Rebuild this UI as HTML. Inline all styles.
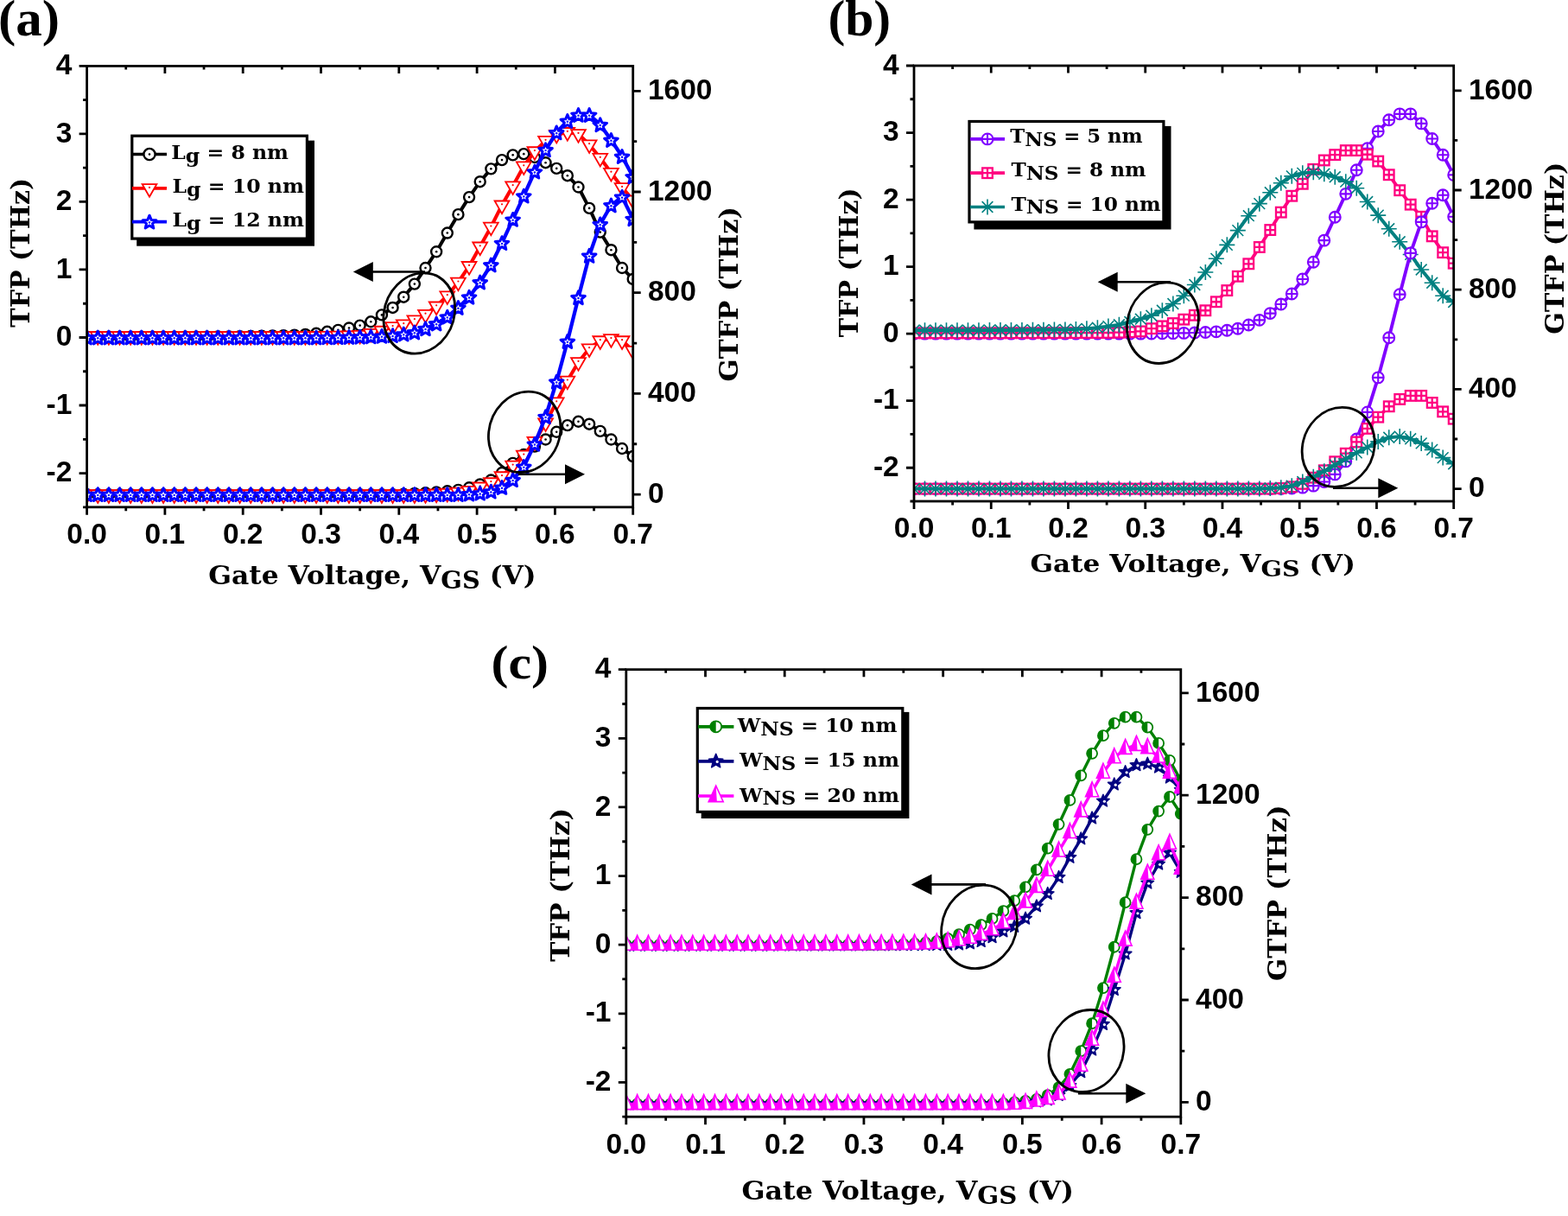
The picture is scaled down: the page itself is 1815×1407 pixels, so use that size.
<!DOCTYPE html><html><head><meta charset="utf-8"><title>TFP and GTFP vs gate voltage</title><style>html,body{margin:0;padding:0;background:#fff;}svg{display:block;}</style></head><body><svg width="1815" height="1407" viewBox="0 0 1815 1407"><rect width="1815" height="1407" fill="#fff"/><defs><clipPath id="ca"><rect x="100.6" y="76.4" width="632.1" height="510.4"/></clipPath></defs><defs><clipPath id="cb"><rect x="1058" y="76" width="624.7" height="504"/></clipPath></defs><defs><clipPath id="cc"><rect x="724.8" y="774.7" width="642" height="517.5"/></clipPath></defs><g clip-path="url(#ca)"><path d="M100.6 389.71L113.24 389.71L125.88 389.71L138.53 389.71L151.17 389.71L163.81 389.71L176.45 389.71L189.09 389.71L201.74 389.71L214.38 389.71L227.02 389.71L239.66 389.66L252.3 389.53L264.95 389.34L277.59 389.13L290.23 388.92L302.87 388.71L315.51 388.46L328.16 388.14L340.8 387.66L353.44 386.96L366.08 385.78L378.72 383.82L391.37 381.85L404.01 379.5L416.65 376.59L429.29 372.27L441.93 364.42L454.58 355.94L467.22 343.69L479.86 328.62L492.5 310.01L505.14 291.24L517.79 269.57L530.43 248.13L543.07 228.11L555.71 210.2L568.35 195.36L581 185.08L593.64 179.34L606.28 178.17L618.92 182.01L631.56 188.22L644.21 194.89L656.85 203.21L669.49 216.49L682.13 240.91L694.77 268.62L707.42 289.2L720.06 310.01L732.7 322.96" fill="none" stroke="#000" stroke-width="4" stroke-linejoin="round"/><circle cx="100.6" cy="389.71" r="6" fill="#fff" stroke="#000" stroke-width="2.4"/><circle cx="100.6" cy="389.71" r="1.3" fill="#000"/><circle cx="113.24" cy="389.71" r="6" fill="#fff" stroke="#000" stroke-width="2.4"/><circle cx="113.24" cy="389.71" r="1.3" fill="#000"/><circle cx="125.88" cy="389.71" r="6" fill="#fff" stroke="#000" stroke-width="2.4"/><circle cx="125.88" cy="389.71" r="1.3" fill="#000"/><circle cx="138.53" cy="389.71" r="6" fill="#fff" stroke="#000" stroke-width="2.4"/><circle cx="138.53" cy="389.71" r="1.3" fill="#000"/><circle cx="151.17" cy="389.71" r="6" fill="#fff" stroke="#000" stroke-width="2.4"/><circle cx="151.17" cy="389.71" r="1.3" fill="#000"/><circle cx="163.81" cy="389.71" r="6" fill="#fff" stroke="#000" stroke-width="2.4"/><circle cx="163.81" cy="389.71" r="1.3" fill="#000"/><circle cx="176.45" cy="389.71" r="6" fill="#fff" stroke="#000" stroke-width="2.4"/><circle cx="176.45" cy="389.71" r="1.3" fill="#000"/><circle cx="189.09" cy="389.71" r="6" fill="#fff" stroke="#000" stroke-width="2.4"/><circle cx="189.09" cy="389.71" r="1.3" fill="#000"/><circle cx="201.74" cy="389.71" r="6" fill="#fff" stroke="#000" stroke-width="2.4"/><circle cx="201.74" cy="389.71" r="1.3" fill="#000"/><circle cx="214.38" cy="389.71" r="6" fill="#fff" stroke="#000" stroke-width="2.4"/><circle cx="214.38" cy="389.71" r="1.3" fill="#000"/><circle cx="227.02" cy="389.71" r="6" fill="#fff" stroke="#000" stroke-width="2.4"/><circle cx="227.02" cy="389.71" r="1.3" fill="#000"/><circle cx="239.66" cy="389.66" r="6" fill="#fff" stroke="#000" stroke-width="2.4"/><circle cx="239.66" cy="389.66" r="1.3" fill="#000"/><circle cx="252.3" cy="389.53" r="6" fill="#fff" stroke="#000" stroke-width="2.4"/><circle cx="252.3" cy="389.53" r="1.3" fill="#000"/><circle cx="264.95" cy="389.34" r="6" fill="#fff" stroke="#000" stroke-width="2.4"/><circle cx="264.95" cy="389.34" r="1.3" fill="#000"/><circle cx="277.59" cy="389.13" r="6" fill="#fff" stroke="#000" stroke-width="2.4"/><circle cx="277.59" cy="389.13" r="1.3" fill="#000"/><circle cx="290.23" cy="388.92" r="6" fill="#fff" stroke="#000" stroke-width="2.4"/><circle cx="290.23" cy="388.92" r="1.3" fill="#000"/><circle cx="302.87" cy="388.71" r="6" fill="#fff" stroke="#000" stroke-width="2.4"/><circle cx="302.87" cy="388.71" r="1.3" fill="#000"/><circle cx="315.51" cy="388.46" r="6" fill="#fff" stroke="#000" stroke-width="2.4"/><circle cx="315.51" cy="388.46" r="1.3" fill="#000"/><circle cx="328.16" cy="388.14" r="6" fill="#fff" stroke="#000" stroke-width="2.4"/><circle cx="328.16" cy="388.14" r="1.3" fill="#000"/><circle cx="340.8" cy="387.66" r="6" fill="#fff" stroke="#000" stroke-width="2.4"/><circle cx="340.8" cy="387.66" r="1.3" fill="#000"/><circle cx="353.44" cy="386.96" r="6" fill="#fff" stroke="#000" stroke-width="2.4"/><circle cx="353.44" cy="386.96" r="1.3" fill="#000"/><circle cx="366.08" cy="385.78" r="6" fill="#fff" stroke="#000" stroke-width="2.4"/><circle cx="366.08" cy="385.78" r="1.3" fill="#000"/><circle cx="378.72" cy="383.82" r="6" fill="#fff" stroke="#000" stroke-width="2.4"/><circle cx="378.72" cy="383.82" r="1.3" fill="#000"/><circle cx="391.37" cy="381.85" r="6" fill="#fff" stroke="#000" stroke-width="2.4"/><circle cx="391.37" cy="381.85" r="1.3" fill="#000"/><circle cx="404.01" cy="379.5" r="6" fill="#fff" stroke="#000" stroke-width="2.4"/><circle cx="404.01" cy="379.5" r="1.3" fill="#000"/><circle cx="416.65" cy="376.59" r="6" fill="#fff" stroke="#000" stroke-width="2.4"/><circle cx="416.65" cy="376.59" r="1.3" fill="#000"/><circle cx="429.29" cy="372.27" r="6" fill="#fff" stroke="#000" stroke-width="2.4"/><circle cx="429.29" cy="372.27" r="1.3" fill="#000"/><circle cx="441.93" cy="364.42" r="6" fill="#fff" stroke="#000" stroke-width="2.4"/><circle cx="441.93" cy="364.42" r="1.3" fill="#000"/><circle cx="454.58" cy="355.94" r="6" fill="#fff" stroke="#000" stroke-width="2.4"/><circle cx="454.58" cy="355.94" r="1.3" fill="#000"/><circle cx="467.22" cy="343.69" r="6" fill="#fff" stroke="#000" stroke-width="2.4"/><circle cx="467.22" cy="343.69" r="1.3" fill="#000"/><circle cx="479.86" cy="328.62" r="6" fill="#fff" stroke="#000" stroke-width="2.4"/><circle cx="479.86" cy="328.62" r="1.3" fill="#000"/><circle cx="492.5" cy="310.01" r="6" fill="#fff" stroke="#000" stroke-width="2.4"/><circle cx="492.5" cy="310.01" r="1.3" fill="#000"/><circle cx="505.14" cy="291.24" r="6" fill="#fff" stroke="#000" stroke-width="2.4"/><circle cx="505.14" cy="291.24" r="1.3" fill="#000"/><circle cx="517.79" cy="269.57" r="6" fill="#fff" stroke="#000" stroke-width="2.4"/><circle cx="517.79" cy="269.57" r="1.3" fill="#000"/><circle cx="530.43" cy="248.13" r="6" fill="#fff" stroke="#000" stroke-width="2.4"/><circle cx="530.43" cy="248.13" r="1.3" fill="#000"/><circle cx="543.07" cy="228.11" r="6" fill="#fff" stroke="#000" stroke-width="2.4"/><circle cx="543.07" cy="228.11" r="1.3" fill="#000"/><circle cx="555.71" cy="210.2" r="6" fill="#fff" stroke="#000" stroke-width="2.4"/><circle cx="555.71" cy="210.2" r="1.3" fill="#000"/><circle cx="568.35" cy="195.36" r="6" fill="#fff" stroke="#000" stroke-width="2.4"/><circle cx="568.35" cy="195.36" r="1.3" fill="#000"/><circle cx="581" cy="185.08" r="6" fill="#fff" stroke="#000" stroke-width="2.4"/><circle cx="581" cy="185.08" r="1.3" fill="#000"/><circle cx="593.64" cy="179.34" r="6" fill="#fff" stroke="#000" stroke-width="2.4"/><circle cx="593.64" cy="179.34" r="1.3" fill="#000"/><circle cx="606.28" cy="178.17" r="6" fill="#fff" stroke="#000" stroke-width="2.4"/><circle cx="606.28" cy="178.17" r="1.3" fill="#000"/><circle cx="618.92" cy="182.01" r="6" fill="#fff" stroke="#000" stroke-width="2.4"/><circle cx="618.92" cy="182.01" r="1.3" fill="#000"/><circle cx="631.56" cy="188.22" r="6" fill="#fff" stroke="#000" stroke-width="2.4"/><circle cx="631.56" cy="188.22" r="1.3" fill="#000"/><circle cx="644.21" cy="194.89" r="6" fill="#fff" stroke="#000" stroke-width="2.4"/><circle cx="644.21" cy="194.89" r="1.3" fill="#000"/><circle cx="656.85" cy="203.21" r="6" fill="#fff" stroke="#000" stroke-width="2.4"/><circle cx="656.85" cy="203.21" r="1.3" fill="#000"/><circle cx="669.49" cy="216.49" r="6" fill="#fff" stroke="#000" stroke-width="2.4"/><circle cx="669.49" cy="216.49" r="1.3" fill="#000"/><circle cx="682.13" cy="240.91" r="6" fill="#fff" stroke="#000" stroke-width="2.4"/><circle cx="682.13" cy="240.91" r="1.3" fill="#000"/><circle cx="694.77" cy="268.62" r="6" fill="#fff" stroke="#000" stroke-width="2.4"/><circle cx="694.77" cy="268.62" r="1.3" fill="#000"/><circle cx="707.42" cy="289.2" r="6" fill="#fff" stroke="#000" stroke-width="2.4"/><circle cx="707.42" cy="289.2" r="1.3" fill="#000"/><circle cx="720.06" cy="310.01" r="6" fill="#fff" stroke="#000" stroke-width="2.4"/><circle cx="720.06" cy="310.01" r="1.3" fill="#000"/><circle cx="732.7" cy="322.96" r="6" fill="#fff" stroke="#000" stroke-width="2.4"/><circle cx="732.7" cy="322.96" r="1.3" fill="#000"/></g><g clip-path="url(#ca)"><path d="M100.6 388.92L113.24 388.92L125.88 388.92L138.53 388.92L151.17 388.92L163.81 388.92L176.45 388.92L189.09 388.92L201.74 388.92L214.38 388.92L227.02 388.92L239.66 388.92L252.3 388.92L264.95 388.92L277.59 388.92L290.23 388.92L302.87 388.92L315.51 388.92L328.16 388.92L340.8 388.92L353.44 388.92L366.08 388.87L378.72 388.72L391.37 388.53L404.01 388.26L416.65 387.74L429.29 385.78L441.93 382.64L454.58 378.09L467.22 375.18L479.86 370.15L492.5 363.72L505.14 354.37L517.79 342.2L530.43 326.5L543.07 307.89L555.71 285.35L568.35 262.5L581 237.37L593.64 215.15L606.28 192.3L618.92 175.1L631.56 162.78L644.21 155.71L656.85 152.88L669.49 154.92L682.13 167.17L694.77 182.8L707.42 199.68L720.06 216.96L732.7 231.4" fill="none" stroke="#ff0000" stroke-width="4.1" stroke-linejoin="round"/><path d="M92.2 384.06L109 384.06L100.6 398.66Z" fill="#fff" stroke="#ff0000" stroke-width="1.8" stroke-linejoin="miter"/><circle cx="100.6" cy="387.92" r="1.1" fill="#ff0000"/><path d="M104.84 384.06L121.64 384.06L113.24 398.66Z" fill="#fff" stroke="#ff0000" stroke-width="1.8" stroke-linejoin="miter"/><circle cx="113.24" cy="387.92" r="1.1" fill="#ff0000"/><path d="M117.48 384.06L134.28 384.06L125.88 398.66Z" fill="#fff" stroke="#ff0000" stroke-width="1.8" stroke-linejoin="miter"/><circle cx="125.88" cy="387.92" r="1.1" fill="#ff0000"/><path d="M130.13 384.06L146.93 384.06L138.53 398.66Z" fill="#fff" stroke="#ff0000" stroke-width="1.8" stroke-linejoin="miter"/><circle cx="138.53" cy="387.92" r="1.1" fill="#ff0000"/><path d="M142.77 384.06L159.57 384.06L151.17 398.66Z" fill="#fff" stroke="#ff0000" stroke-width="1.8" stroke-linejoin="miter"/><circle cx="151.17" cy="387.92" r="1.1" fill="#ff0000"/><path d="M155.41 384.06L172.21 384.06L163.81 398.66Z" fill="#fff" stroke="#ff0000" stroke-width="1.8" stroke-linejoin="miter"/><circle cx="163.81" cy="387.92" r="1.1" fill="#ff0000"/><path d="M168.05 384.06L184.85 384.06L176.45 398.66Z" fill="#fff" stroke="#ff0000" stroke-width="1.8" stroke-linejoin="miter"/><circle cx="176.45" cy="387.92" r="1.1" fill="#ff0000"/><path d="M180.69 384.06L197.49 384.06L189.09 398.66Z" fill="#fff" stroke="#ff0000" stroke-width="1.8" stroke-linejoin="miter"/><circle cx="189.09" cy="387.92" r="1.1" fill="#ff0000"/><path d="M193.34 384.06L210.14 384.06L201.74 398.66Z" fill="#fff" stroke="#ff0000" stroke-width="1.8" stroke-linejoin="miter"/><circle cx="201.74" cy="387.92" r="1.1" fill="#ff0000"/><path d="M205.98 384.06L222.78 384.06L214.38 398.66Z" fill="#fff" stroke="#ff0000" stroke-width="1.8" stroke-linejoin="miter"/><circle cx="214.38" cy="387.92" r="1.1" fill="#ff0000"/><path d="M218.62 384.06L235.42 384.06L227.02 398.66Z" fill="#fff" stroke="#ff0000" stroke-width="1.8" stroke-linejoin="miter"/><circle cx="227.02" cy="387.92" r="1.1" fill="#ff0000"/><path d="M231.26 384.06L248.06 384.06L239.66 398.66Z" fill="#fff" stroke="#ff0000" stroke-width="1.8" stroke-linejoin="miter"/><circle cx="239.66" cy="387.92" r="1.1" fill="#ff0000"/><path d="M243.9 384.06L260.7 384.06L252.3 398.66Z" fill="#fff" stroke="#ff0000" stroke-width="1.8" stroke-linejoin="miter"/><circle cx="252.3" cy="387.92" r="1.1" fill="#ff0000"/><path d="M256.55 384.06L273.35 384.06L264.95 398.66Z" fill="#fff" stroke="#ff0000" stroke-width="1.8" stroke-linejoin="miter"/><circle cx="264.95" cy="387.92" r="1.1" fill="#ff0000"/><path d="M269.19 384.06L285.99 384.06L277.59 398.66Z" fill="#fff" stroke="#ff0000" stroke-width="1.8" stroke-linejoin="miter"/><circle cx="277.59" cy="387.92" r="1.1" fill="#ff0000"/><path d="M281.83 384.06L298.63 384.06L290.23 398.66Z" fill="#fff" stroke="#ff0000" stroke-width="1.8" stroke-linejoin="miter"/><circle cx="290.23" cy="387.92" r="1.1" fill="#ff0000"/><path d="M294.47 384.06L311.27 384.06L302.87 398.66Z" fill="#fff" stroke="#ff0000" stroke-width="1.8" stroke-linejoin="miter"/><circle cx="302.87" cy="387.92" r="1.1" fill="#ff0000"/><path d="M307.11 384.06L323.91 384.06L315.51 398.66Z" fill="#fff" stroke="#ff0000" stroke-width="1.8" stroke-linejoin="miter"/><circle cx="315.51" cy="387.92" r="1.1" fill="#ff0000"/><path d="M319.76 384.06L336.56 384.06L328.16 398.66Z" fill="#fff" stroke="#ff0000" stroke-width="1.8" stroke-linejoin="miter"/><circle cx="328.16" cy="387.92" r="1.1" fill="#ff0000"/><path d="M332.4 384.06L349.2 384.06L340.8 398.66Z" fill="#fff" stroke="#ff0000" stroke-width="1.8" stroke-linejoin="miter"/><circle cx="340.8" cy="387.92" r="1.1" fill="#ff0000"/><path d="M345.04 384.06L361.84 384.06L353.44 398.66Z" fill="#fff" stroke="#ff0000" stroke-width="1.8" stroke-linejoin="miter"/><circle cx="353.44" cy="387.92" r="1.1" fill="#ff0000"/><path d="M357.68 384L374.48 384L366.08 398.6Z" fill="#fff" stroke="#ff0000" stroke-width="1.8" stroke-linejoin="miter"/><circle cx="366.08" cy="387.87" r="1.1" fill="#ff0000"/><path d="M370.32 383.85L387.12 383.85L378.72 398.45Z" fill="#fff" stroke="#ff0000" stroke-width="1.8" stroke-linejoin="miter"/><circle cx="378.72" cy="387.72" r="1.1" fill="#ff0000"/><path d="M382.97 383.66L399.77 383.66L391.37 398.26Z" fill="#fff" stroke="#ff0000" stroke-width="1.8" stroke-linejoin="miter"/><circle cx="391.37" cy="387.53" r="1.1" fill="#ff0000"/><path d="M395.61 383.4L412.41 383.4L404.01 398Z" fill="#fff" stroke="#ff0000" stroke-width="1.8" stroke-linejoin="miter"/><circle cx="404.01" cy="387.26" r="1.1" fill="#ff0000"/><path d="M408.25 382.88L425.05 382.88L416.65 397.48Z" fill="#fff" stroke="#ff0000" stroke-width="1.8" stroke-linejoin="miter"/><circle cx="416.65" cy="386.74" r="1.1" fill="#ff0000"/><path d="M420.89 380.91L437.69 380.91L429.29 395.51Z" fill="#fff" stroke="#ff0000" stroke-width="1.8" stroke-linejoin="miter"/><circle cx="429.29" cy="384.78" r="1.1" fill="#ff0000"/><path d="M433.53 377.77L450.33 377.77L441.93 392.37Z" fill="#fff" stroke="#ff0000" stroke-width="1.8" stroke-linejoin="miter"/><circle cx="441.93" cy="381.64" r="1.1" fill="#ff0000"/><path d="M446.18 373.22L462.98 373.22L454.58 387.82Z" fill="#fff" stroke="#ff0000" stroke-width="1.8" stroke-linejoin="miter"/><circle cx="454.58" cy="377.09" r="1.1" fill="#ff0000"/><path d="M458.82 370.31L475.62 370.31L467.22 384.91Z" fill="#fff" stroke="#ff0000" stroke-width="1.8" stroke-linejoin="miter"/><circle cx="467.22" cy="374.18" r="1.1" fill="#ff0000"/><path d="M471.46 365.29L488.26 365.29L479.86 379.89Z" fill="#fff" stroke="#ff0000" stroke-width="1.8" stroke-linejoin="miter"/><circle cx="479.86" cy="369.15" r="1.1" fill="#ff0000"/><path d="M484.1 358.85L500.9 358.85L492.5 373.45Z" fill="#fff" stroke="#ff0000" stroke-width="1.8" stroke-linejoin="miter"/><circle cx="492.5" cy="362.72" r="1.1" fill="#ff0000"/><path d="M496.74 349.51L513.54 349.51L505.14 364.11Z" fill="#fff" stroke="#ff0000" stroke-width="1.8" stroke-linejoin="miter"/><circle cx="505.14" cy="353.37" r="1.1" fill="#ff0000"/><path d="M509.39 337.33L526.19 337.33L517.79 351.93Z" fill="#fff" stroke="#ff0000" stroke-width="1.8" stroke-linejoin="miter"/><circle cx="517.79" cy="341.2" r="1.1" fill="#ff0000"/><path d="M522.03 321.63L538.83 321.63L530.43 336.23Z" fill="#fff" stroke="#ff0000" stroke-width="1.8" stroke-linejoin="miter"/><circle cx="530.43" cy="325.5" r="1.1" fill="#ff0000"/><path d="M534.67 303.02L551.47 303.02L543.07 317.62Z" fill="#fff" stroke="#ff0000" stroke-width="1.8" stroke-linejoin="miter"/><circle cx="543.07" cy="306.89" r="1.1" fill="#ff0000"/><path d="M547.31 280.48L564.11 280.48L555.71 295.08Z" fill="#fff" stroke="#ff0000" stroke-width="1.8" stroke-linejoin="miter"/><circle cx="555.71" cy="284.35" r="1.1" fill="#ff0000"/><path d="M559.95 257.63L576.75 257.63L568.35 272.23Z" fill="#fff" stroke="#ff0000" stroke-width="1.8" stroke-linejoin="miter"/><circle cx="568.35" cy="261.5" r="1.1" fill="#ff0000"/><path d="M572.6 232.51L589.4 232.51L581 247.11Z" fill="#fff" stroke="#ff0000" stroke-width="1.8" stroke-linejoin="miter"/><circle cx="581" cy="236.37" r="1.1" fill="#ff0000"/><path d="M585.24 210.28L602.04 210.28L593.64 224.88Z" fill="#fff" stroke="#ff0000" stroke-width="1.8" stroke-linejoin="miter"/><circle cx="593.64" cy="214.15" r="1.1" fill="#ff0000"/><path d="M597.88 187.43L614.68 187.43L606.28 202.03Z" fill="#fff" stroke="#ff0000" stroke-width="1.8" stroke-linejoin="miter"/><circle cx="606.28" cy="191.3" r="1.1" fill="#ff0000"/><path d="M610.52 170.24L627.32 170.24L618.92 184.84Z" fill="#fff" stroke="#ff0000" stroke-width="1.8" stroke-linejoin="miter"/><circle cx="618.92" cy="174.1" r="1.1" fill="#ff0000"/><path d="M623.16 157.91L639.96 157.91L631.56 172.51Z" fill="#fff" stroke="#ff0000" stroke-width="1.8" stroke-linejoin="miter"/><circle cx="631.56" cy="161.78" r="1.1" fill="#ff0000"/><path d="M635.81 150.84L652.61 150.84L644.21 165.44Z" fill="#fff" stroke="#ff0000" stroke-width="1.8" stroke-linejoin="miter"/><circle cx="644.21" cy="154.71" r="1.1" fill="#ff0000"/><path d="M648.45 148.01L665.25 148.01L656.85 162.61Z" fill="#fff" stroke="#ff0000" stroke-width="1.8" stroke-linejoin="miter"/><circle cx="656.85" cy="151.88" r="1.1" fill="#ff0000"/><path d="M661.09 150.06L677.89 150.06L669.49 164.66Z" fill="#fff" stroke="#ff0000" stroke-width="1.8" stroke-linejoin="miter"/><circle cx="669.49" cy="153.92" r="1.1" fill="#ff0000"/><path d="M673.73 162.31L690.53 162.31L682.13 176.91Z" fill="#fff" stroke="#ff0000" stroke-width="1.8" stroke-linejoin="miter"/><circle cx="682.13" cy="166.17" r="1.1" fill="#ff0000"/><path d="M686.37 177.93L703.17 177.93L694.77 192.53Z" fill="#fff" stroke="#ff0000" stroke-width="1.8" stroke-linejoin="miter"/><circle cx="694.77" cy="181.8" r="1.1" fill="#ff0000"/><path d="M699.02 194.81L715.82 194.81L707.42 209.41Z" fill="#fff" stroke="#ff0000" stroke-width="1.8" stroke-linejoin="miter"/><circle cx="707.42" cy="198.68" r="1.1" fill="#ff0000"/><path d="M711.66 212.09L728.46 212.09L720.06 226.69Z" fill="#fff" stroke="#ff0000" stroke-width="1.8" stroke-linejoin="miter"/><circle cx="720.06" cy="215.96" r="1.1" fill="#ff0000"/><path d="M724.3 226.54L741.1 226.54L732.7 241.14Z" fill="#fff" stroke="#ff0000" stroke-width="1.8" stroke-linejoin="miter"/><circle cx="732.7" cy="230.4" r="1.1" fill="#ff0000"/></g><g clip-path="url(#ca)"><path d="M100.6 390.49L113.24 390.49L125.88 390.49L138.53 390.49L151.17 390.49L163.81 390.49L176.45 390.49L189.09 390.49L201.74 390.49L214.38 390.49L227.02 390.49L239.66 390.49L252.3 390.49L264.95 390.49L277.59 390.49L290.23 390.49L302.87 390.49L315.51 390.49L328.16 390.49L340.8 390.49L353.44 390.49L366.08 390.45L378.72 390.34L391.37 390.17L404.01 389.95L416.65 389.71L429.29 389.38L441.93 388.87L454.58 388.14L467.22 386.57L479.86 384.52L492.5 380.21L505.14 374.47L517.79 366.62L530.43 355.94L543.07 343.69L555.71 326.5L568.35 306.47L581 281.11L593.64 253.86L606.28 226.61L618.92 198.66L631.56 173.3L644.21 153.35L656.85 140L669.49 132.94L682.13 132.94L694.77 144.17L707.42 161.99L720.06 180.99L732.7 204.39" fill="none" stroke="#0000ff" stroke-width="4.3" stroke-linejoin="round"/><path d="M100.6 383.09L102.77 388.31L108.4 388.76L104.11 392.43L105.42 397.93L100.6 394.98L95.78 397.93L97.09 392.43L92.8 388.76L98.43 388.31Z" fill="#fff" stroke="#0000ff" stroke-width="3" stroke-linejoin="round"/><circle cx="100.6" cy="391.29" r="1.2" fill="#0000ff"/><path d="M113.24 383.09L115.41 388.31L121.04 388.76L116.75 392.43L118.06 397.93L113.24 394.98L108.42 397.93L109.73 392.43L105.44 388.76L111.07 388.31Z" fill="#fff" stroke="#0000ff" stroke-width="3" stroke-linejoin="round"/><circle cx="113.24" cy="391.29" r="1.2" fill="#0000ff"/><path d="M125.88 383.09L128.05 388.31L133.68 388.76L129.39 392.43L130.7 397.93L125.88 394.98L121.06 397.93L122.37 392.43L118.09 388.76L123.72 388.31Z" fill="#fff" stroke="#0000ff" stroke-width="3" stroke-linejoin="round"/><circle cx="125.88" cy="391.29" r="1.2" fill="#0000ff"/><path d="M138.53 383.09L140.69 388.31L146.32 388.76L142.04 392.43L143.35 397.93L138.53 394.98L133.71 397.93L135.02 392.43L130.73 388.76L136.36 388.31Z" fill="#fff" stroke="#0000ff" stroke-width="3" stroke-linejoin="round"/><circle cx="138.53" cy="391.29" r="1.2" fill="#0000ff"/><path d="M151.17 383.09L153.34 388.31L158.97 388.76L154.68 392.43L155.99 397.93L151.17 394.98L146.35 397.93L147.66 392.43L143.37 388.76L149 388.31Z" fill="#fff" stroke="#0000ff" stroke-width="3" stroke-linejoin="round"/><circle cx="151.17" cy="391.29" r="1.2" fill="#0000ff"/><path d="M163.81 383.09L165.98 388.31L171.61 388.76L167.32 392.43L168.63 397.93L163.81 394.98L158.99 397.93L160.3 392.43L156.01 388.76L161.64 388.31Z" fill="#fff" stroke="#0000ff" stroke-width="3" stroke-linejoin="round"/><circle cx="163.81" cy="391.29" r="1.2" fill="#0000ff"/><path d="M176.45 383.09L178.62 388.31L184.25 388.76L179.96 392.43L181.27 397.93L176.45 394.98L171.63 397.93L172.94 392.43L168.65 388.76L174.28 388.31Z" fill="#fff" stroke="#0000ff" stroke-width="3" stroke-linejoin="round"/><circle cx="176.45" cy="391.29" r="1.2" fill="#0000ff"/><path d="M189.09 383.09L191.26 388.31L196.89 388.76L192.6 392.43L193.91 397.93L189.09 394.98L184.27 397.93L185.58 392.43L181.3 388.76L186.93 388.31Z" fill="#fff" stroke="#0000ff" stroke-width="3" stroke-linejoin="round"/><circle cx="189.09" cy="391.29" r="1.2" fill="#0000ff"/><path d="M201.74 383.09L203.9 388.31L209.53 388.76L205.25 392.43L206.56 397.93L201.74 394.98L196.92 397.93L198.23 392.43L193.94 388.76L199.57 388.31Z" fill="#fff" stroke="#0000ff" stroke-width="3" stroke-linejoin="round"/><circle cx="201.74" cy="391.29" r="1.2" fill="#0000ff"/><path d="M214.38 383.09L216.55 388.31L222.18 388.76L217.89 392.43L219.2 397.93L214.38 394.98L209.56 397.93L210.87 392.43L206.58 388.76L212.21 388.31Z" fill="#fff" stroke="#0000ff" stroke-width="3" stroke-linejoin="round"/><circle cx="214.38" cy="391.29" r="1.2" fill="#0000ff"/><path d="M227.02 383.09L229.19 388.31L234.82 388.76L230.53 392.43L231.84 397.93L227.02 394.98L222.2 397.93L223.51 392.43L219.22 388.76L224.85 388.31Z" fill="#fff" stroke="#0000ff" stroke-width="3" stroke-linejoin="round"/><circle cx="227.02" cy="391.29" r="1.2" fill="#0000ff"/><path d="M239.66 383.09L241.83 388.31L247.46 388.76L243.17 392.43L244.48 397.93L239.66 394.98L234.84 397.93L236.15 392.43L231.86 388.76L237.49 388.31Z" fill="#fff" stroke="#0000ff" stroke-width="3" stroke-linejoin="round"/><circle cx="239.66" cy="391.29" r="1.2" fill="#0000ff"/><path d="M252.3 383.09L254.47 388.31L260.1 388.76L255.81 392.43L257.12 397.93L252.3 394.98L247.48 397.93L248.79 392.43L244.51 388.76L250.14 388.31Z" fill="#fff" stroke="#0000ff" stroke-width="3" stroke-linejoin="round"/><circle cx="252.3" cy="391.29" r="1.2" fill="#0000ff"/><path d="M264.95 383.09L267.11 388.31L272.74 388.76L268.46 392.43L269.77 397.93L264.95 394.98L260.13 397.93L261.44 392.43L257.15 388.76L262.78 388.31Z" fill="#fff" stroke="#0000ff" stroke-width="3" stroke-linejoin="round"/><circle cx="264.95" cy="391.29" r="1.2" fill="#0000ff"/><path d="M277.59 383.09L279.76 388.31L285.39 388.76L281.1 392.43L282.41 397.93L277.59 394.98L272.77 397.93L274.08 392.43L269.79 388.76L275.42 388.31Z" fill="#fff" stroke="#0000ff" stroke-width="3" stroke-linejoin="round"/><circle cx="277.59" cy="391.29" r="1.2" fill="#0000ff"/><path d="M290.23 383.09L292.4 388.31L298.03 388.76L293.74 392.43L295.05 397.93L290.23 394.98L285.41 397.93L286.72 392.43L282.43 388.76L288.06 388.31Z" fill="#fff" stroke="#0000ff" stroke-width="3" stroke-linejoin="round"/><circle cx="290.23" cy="391.29" r="1.2" fill="#0000ff"/><path d="M302.87 383.09L305.04 388.31L310.67 388.76L306.38 392.43L307.69 397.93L302.87 394.98L298.05 397.93L299.36 392.43L295.07 388.76L300.7 388.31Z" fill="#fff" stroke="#0000ff" stroke-width="3" stroke-linejoin="round"/><circle cx="302.87" cy="391.29" r="1.2" fill="#0000ff"/><path d="M315.51 383.09L317.68 388.31L323.31 388.76L319.02 392.43L320.33 397.93L315.51 394.98L310.69 397.93L312 392.43L307.72 388.76L313.35 388.31Z" fill="#fff" stroke="#0000ff" stroke-width="3" stroke-linejoin="round"/><circle cx="315.51" cy="391.29" r="1.2" fill="#0000ff"/><path d="M328.16 383.09L330.32 388.31L335.95 388.76L331.67 392.43L332.98 397.93L328.16 394.98L323.34 397.93L324.65 392.43L320.36 388.76L325.99 388.31Z" fill="#fff" stroke="#0000ff" stroke-width="3" stroke-linejoin="round"/><circle cx="328.16" cy="391.29" r="1.2" fill="#0000ff"/><path d="M340.8 383.09L342.97 388.31L348.6 388.76L344.31 392.43L345.62 397.93L340.8 394.98L335.98 397.93L337.29 392.43L333 388.76L338.63 388.31Z" fill="#fff" stroke="#0000ff" stroke-width="3" stroke-linejoin="round"/><circle cx="340.8" cy="391.29" r="1.2" fill="#0000ff"/><path d="M353.44 383.09L355.61 388.31L361.24 388.76L356.95 392.43L358.26 397.93L353.44 394.98L348.62 397.93L349.93 392.43L345.64 388.76L351.27 388.31Z" fill="#fff" stroke="#0000ff" stroke-width="3" stroke-linejoin="round"/><circle cx="353.44" cy="391.29" r="1.2" fill="#0000ff"/><path d="M366.08 383.05L368.25 388.27L373.88 388.72L369.59 392.39L370.9 397.89L366.08 394.94L361.26 397.89L362.57 392.39L358.28 388.72L363.91 388.27Z" fill="#fff" stroke="#0000ff" stroke-width="3" stroke-linejoin="round"/><circle cx="366.08" cy="391.25" r="1.2" fill="#0000ff"/><path d="M378.72 382.94L380.89 388.15L386.52 388.6L382.23 392.28L383.54 397.77L378.72 394.83L373.9 397.77L375.21 392.28L370.93 388.6L376.56 388.15Z" fill="#fff" stroke="#0000ff" stroke-width="3" stroke-linejoin="round"/><circle cx="378.72" cy="391.14" r="1.2" fill="#0000ff"/><path d="M391.37 382.77L393.53 387.98L399.16 388.43L394.88 392.11L396.19 397.6L391.37 394.66L386.55 397.6L387.86 392.11L383.57 388.43L389.2 387.98Z" fill="#fff" stroke="#0000ff" stroke-width="3" stroke-linejoin="round"/><circle cx="391.37" cy="390.97" r="1.2" fill="#0000ff"/><path d="M404.01 382.55L406.18 387.77L411.81 388.22L407.52 391.89L408.83 397.38L404.01 394.44L399.19 397.38L400.5 391.89L396.21 388.22L401.84 387.77Z" fill="#fff" stroke="#0000ff" stroke-width="3" stroke-linejoin="round"/><circle cx="404.01" cy="390.75" r="1.2" fill="#0000ff"/><path d="M416.65 382.31L418.82 387.52L424.45 387.97L420.16 391.65L421.47 397.14L416.65 394.2L411.83 397.14L413.14 391.65L408.85 387.97L414.48 387.52Z" fill="#fff" stroke="#0000ff" stroke-width="3" stroke-linejoin="round"/><circle cx="416.65" cy="390.51" r="1.2" fill="#0000ff"/><path d="M429.29 381.98L431.46 387.19L437.09 387.64L432.8 391.32L434.11 396.81L429.29 393.87L424.47 396.81L425.78 391.32L421.49 387.64L427.12 387.19Z" fill="#fff" stroke="#0000ff" stroke-width="3" stroke-linejoin="round"/><circle cx="429.29" cy="390.18" r="1.2" fill="#0000ff"/><path d="M441.93 381.47L444.1 386.68L449.73 387.13L445.44 390.81L446.75 396.3L441.93 393.36L437.11 396.3L438.42 390.81L434.14 387.13L439.77 386.68Z" fill="#fff" stroke="#0000ff" stroke-width="3" stroke-linejoin="round"/><circle cx="441.93" cy="389.67" r="1.2" fill="#0000ff"/><path d="M454.58 380.74L456.74 385.95L462.37 386.4L458.09 390.08L459.4 395.57L454.58 392.63L449.76 395.57L451.07 390.08L446.78 386.4L452.41 385.95Z" fill="#fff" stroke="#0000ff" stroke-width="3" stroke-linejoin="round"/><circle cx="454.58" cy="388.94" r="1.2" fill="#0000ff"/><path d="M467.22 379.17L469.39 384.38L475.02 384.83L470.73 388.51L472.04 394L467.22 391.06L462.4 394L463.71 388.51L459.42 384.83L465.05 384.38Z" fill="#fff" stroke="#0000ff" stroke-width="3" stroke-linejoin="round"/><circle cx="467.22" cy="387.37" r="1.2" fill="#0000ff"/><path d="M479.86 377.12L482.03 382.34L487.66 382.79L483.37 386.46L484.68 391.96L479.86 389.01L475.04 391.96L476.35 386.46L472.06 382.79L477.69 382.34Z" fill="#fff" stroke="#0000ff" stroke-width="3" stroke-linejoin="round"/><circle cx="479.86" cy="385.32" r="1.2" fill="#0000ff"/><path d="M492.5 372.81L494.67 378.02L500.3 378.47L496.01 382.15L497.32 387.64L492.5 384.7L487.68 387.64L488.99 382.15L484.7 378.47L490.33 378.02Z" fill="#fff" stroke="#0000ff" stroke-width="3" stroke-linejoin="round"/><circle cx="492.5" cy="381.01" r="1.2" fill="#0000ff"/><path d="M505.14 367.07L507.31 372.29L512.94 372.74L508.65 376.41L509.96 381.91L505.14 378.96L500.32 381.91L501.63 376.41L497.35 372.74L502.98 372.29Z" fill="#fff" stroke="#0000ff" stroke-width="3" stroke-linejoin="round"/><circle cx="505.14" cy="375.27" r="1.2" fill="#0000ff"/><path d="M517.79 359.22L519.95 364.44L525.58 364.89L521.3 368.56L522.61 374.06L517.79 371.11L512.97 374.06L514.28 368.56L509.99 364.89L515.62 364.44Z" fill="#fff" stroke="#0000ff" stroke-width="3" stroke-linejoin="round"/><circle cx="517.79" cy="367.42" r="1.2" fill="#0000ff"/><path d="M530.43 348.54L532.6 353.76L538.23 354.21L533.94 357.88L535.25 363.38L530.43 360.43L525.61 363.38L526.92 357.88L522.63 354.21L528.26 353.76Z" fill="#fff" stroke="#0000ff" stroke-width="3" stroke-linejoin="round"/><circle cx="530.43" cy="356.74" r="1.2" fill="#0000ff"/><path d="M543.07 336.29L545.24 341.51L550.87 341.96L546.58 345.63L547.89 351.13L543.07 348.18L538.25 351.13L539.56 345.63L535.27 341.96L540.9 341.51Z" fill="#fff" stroke="#0000ff" stroke-width="3" stroke-linejoin="round"/><circle cx="543.07" cy="344.49" r="1.2" fill="#0000ff"/><path d="M555.71 319.1L557.88 324.31L563.51 324.76L559.22 328.44L560.53 333.93L555.71 330.99L550.89 333.93L552.2 328.44L547.91 324.76L553.54 324.31Z" fill="#fff" stroke="#0000ff" stroke-width="3" stroke-linejoin="round"/><circle cx="555.71" cy="327.3" r="1.2" fill="#0000ff"/><path d="M568.35 299.07L570.52 304.29L576.15 304.74L571.86 308.41L573.17 313.91L568.35 310.96L563.53 313.91L564.84 308.41L560.56 304.74L566.19 304.29Z" fill="#fff" stroke="#0000ff" stroke-width="3" stroke-linejoin="round"/><circle cx="568.35" cy="307.27" r="1.2" fill="#0000ff"/><path d="M581 273.71L583.16 278.92L588.79 279.38L584.51 283.05L585.82 288.54L581 285.6L576.18 288.54L577.49 283.05L573.2 279.38L578.83 278.92Z" fill="#fff" stroke="#0000ff" stroke-width="3" stroke-linejoin="round"/><circle cx="581" cy="281.91" r="1.2" fill="#0000ff"/><path d="M593.64 246.46L595.81 251.68L601.44 252.13L597.15 255.8L598.46 261.3L593.64 258.35L588.82 261.3L590.13 255.8L585.84 252.13L591.47 251.68Z" fill="#fff" stroke="#0000ff" stroke-width="3" stroke-linejoin="round"/><circle cx="593.64" cy="254.66" r="1.2" fill="#0000ff"/><path d="M606.28 219.21L608.45 224.43L614.08 224.88L609.79 228.55L611.1 234.05L606.28 231.1L601.46 234.05L602.77 228.55L598.48 224.88L604.11 224.43Z" fill="#fff" stroke="#0000ff" stroke-width="3" stroke-linejoin="round"/><circle cx="606.28" cy="227.41" r="1.2" fill="#0000ff"/><path d="M618.92 191.26L621.09 196.48L626.72 196.93L622.43 200.6L623.74 206.09L618.92 203.15L614.1 206.09L615.41 200.6L611.12 196.93L616.75 196.48Z" fill="#fff" stroke="#0000ff" stroke-width="3" stroke-linejoin="round"/><circle cx="618.92" cy="199.46" r="1.2" fill="#0000ff"/><path d="M631.56 165.9L633.73 171.11L639.36 171.56L635.07 175.24L636.38 180.73L631.56 177.79L626.74 180.73L628.05 175.24L623.77 171.56L629.4 171.11Z" fill="#fff" stroke="#0000ff" stroke-width="3" stroke-linejoin="round"/><circle cx="631.56" cy="174.1" r="1.2" fill="#0000ff"/><path d="M644.21 145.95L646.37 151.17L652 151.62L647.72 155.29L649.03 160.79L644.21 157.84L639.39 160.79L640.7 155.29L636.41 151.62L642.04 151.17Z" fill="#fff" stroke="#0000ff" stroke-width="3" stroke-linejoin="round"/><circle cx="644.21" cy="154.15" r="1.2" fill="#0000ff"/><path d="M656.85 132.6L659.02 137.82L664.65 138.27L660.36 141.94L661.67 147.44L656.85 144.49L652.03 147.44L653.34 141.94L649.05 138.27L654.68 137.82Z" fill="#fff" stroke="#0000ff" stroke-width="3" stroke-linejoin="round"/><circle cx="656.85" cy="140.8" r="1.2" fill="#0000ff"/><path d="M669.49 125.54L671.66 130.75L677.29 131.2L673 134.88L674.31 140.37L669.49 137.43L664.67 140.37L665.98 134.88L661.69 131.2L667.32 130.75Z" fill="#fff" stroke="#0000ff" stroke-width="3" stroke-linejoin="round"/><circle cx="669.49" cy="133.74" r="1.2" fill="#0000ff"/><path d="M682.13 125.54L684.3 130.75L689.93 131.2L685.64 134.88L686.95 140.37L682.13 137.43L677.31 140.37L678.62 134.88L674.33 131.2L679.96 130.75Z" fill="#fff" stroke="#0000ff" stroke-width="3" stroke-linejoin="round"/><circle cx="682.13" cy="133.74" r="1.2" fill="#0000ff"/><path d="M694.77 136.77L696.94 141.98L702.57 142.43L698.28 146.11L699.59 151.6L694.77 148.66L689.95 151.6L691.26 146.11L686.98 142.43L692.61 141.98Z" fill="#fff" stroke="#0000ff" stroke-width="3" stroke-linejoin="round"/><circle cx="694.77" cy="144.97" r="1.2" fill="#0000ff"/><path d="M707.42 154.59L709.58 159.8L715.21 160.26L710.93 163.93L712.24 169.42L707.42 166.48L702.6 169.42L703.91 163.93L699.62 160.26L705.25 159.8Z" fill="#fff" stroke="#0000ff" stroke-width="3" stroke-linejoin="round"/><circle cx="707.42" cy="162.79" r="1.2" fill="#0000ff"/><path d="M720.06 173.59L722.23 178.81L727.86 179.26L723.57 182.93L724.88 188.43L720.06 185.48L715.24 188.43L716.55 182.93L712.26 179.26L717.89 178.81Z" fill="#fff" stroke="#0000ff" stroke-width="3" stroke-linejoin="round"/><circle cx="720.06" cy="181.79" r="1.2" fill="#0000ff"/><path d="M732.7 196.99L734.87 202.21L740.5 202.66L736.21 206.33L737.52 211.83L732.7 208.88L727.88 211.83L729.19 206.33L724.9 202.66L730.53 202.21Z" fill="#fff" stroke="#0000ff" stroke-width="3" stroke-linejoin="round"/><circle cx="732.7" cy="205.19" r="1.2" fill="#0000ff"/></g><g clip-path="url(#ca)"><path d="M100.6 572.1L113.24 572.1L125.88 572.1L138.53 572.1L151.17 572.1L163.81 572.1L176.45 572.1L189.09 572.1L201.74 572.1L214.38 572.1L227.02 572.1L239.66 572.1L252.3 572.1L264.95 572.1L277.59 572.1L290.23 572.1L302.87 572.1L315.51 572.1L328.16 572.1L340.8 572.1L353.44 572.1L366.08 572.1L378.72 572.1L391.37 572.1L404.01 572.1L416.65 572.1L429.29 572.1L441.93 572.1L454.58 572.1L467.22 571.68L479.86 570.93L492.5 570.27L505.14 569.47L517.79 568.31L530.43 566.85L543.07 564.22L555.71 560.43L568.35 555.47L581 547.01L593.64 535.92L606.28 526L618.92 516.67L631.56 508.5L644.21 499.75L656.85 492.16L669.49 487.78L682.13 490.7L694.77 498.87L707.42 508.5L720.06 519L732.7 528.05" fill="none" stroke="#000" stroke-width="4" stroke-linejoin="round"/><circle cx="100.6" cy="572.1" r="6" fill="#fff" stroke="#000" stroke-width="2.4"/><circle cx="100.6" cy="572.1" r="1.3" fill="#000"/><circle cx="113.24" cy="572.1" r="6" fill="#fff" stroke="#000" stroke-width="2.4"/><circle cx="113.24" cy="572.1" r="1.3" fill="#000"/><circle cx="125.88" cy="572.1" r="6" fill="#fff" stroke="#000" stroke-width="2.4"/><circle cx="125.88" cy="572.1" r="1.3" fill="#000"/><circle cx="138.53" cy="572.1" r="6" fill="#fff" stroke="#000" stroke-width="2.4"/><circle cx="138.53" cy="572.1" r="1.3" fill="#000"/><circle cx="151.17" cy="572.1" r="6" fill="#fff" stroke="#000" stroke-width="2.4"/><circle cx="151.17" cy="572.1" r="1.3" fill="#000"/><circle cx="163.81" cy="572.1" r="6" fill="#fff" stroke="#000" stroke-width="2.4"/><circle cx="163.81" cy="572.1" r="1.3" fill="#000"/><circle cx="176.45" cy="572.1" r="6" fill="#fff" stroke="#000" stroke-width="2.4"/><circle cx="176.45" cy="572.1" r="1.3" fill="#000"/><circle cx="189.09" cy="572.1" r="6" fill="#fff" stroke="#000" stroke-width="2.4"/><circle cx="189.09" cy="572.1" r="1.3" fill="#000"/><circle cx="201.74" cy="572.1" r="6" fill="#fff" stroke="#000" stroke-width="2.4"/><circle cx="201.74" cy="572.1" r="1.3" fill="#000"/><circle cx="214.38" cy="572.1" r="6" fill="#fff" stroke="#000" stroke-width="2.4"/><circle cx="214.38" cy="572.1" r="1.3" fill="#000"/><circle cx="227.02" cy="572.1" r="6" fill="#fff" stroke="#000" stroke-width="2.4"/><circle cx="227.02" cy="572.1" r="1.3" fill="#000"/><circle cx="239.66" cy="572.1" r="6" fill="#fff" stroke="#000" stroke-width="2.4"/><circle cx="239.66" cy="572.1" r="1.3" fill="#000"/><circle cx="252.3" cy="572.1" r="6" fill="#fff" stroke="#000" stroke-width="2.4"/><circle cx="252.3" cy="572.1" r="1.3" fill="#000"/><circle cx="264.95" cy="572.1" r="6" fill="#fff" stroke="#000" stroke-width="2.4"/><circle cx="264.95" cy="572.1" r="1.3" fill="#000"/><circle cx="277.59" cy="572.1" r="6" fill="#fff" stroke="#000" stroke-width="2.4"/><circle cx="277.59" cy="572.1" r="1.3" fill="#000"/><circle cx="290.23" cy="572.1" r="6" fill="#fff" stroke="#000" stroke-width="2.4"/><circle cx="290.23" cy="572.1" r="1.3" fill="#000"/><circle cx="302.87" cy="572.1" r="6" fill="#fff" stroke="#000" stroke-width="2.4"/><circle cx="302.87" cy="572.1" r="1.3" fill="#000"/><circle cx="315.51" cy="572.1" r="6" fill="#fff" stroke="#000" stroke-width="2.4"/><circle cx="315.51" cy="572.1" r="1.3" fill="#000"/><circle cx="328.16" cy="572.1" r="6" fill="#fff" stroke="#000" stroke-width="2.4"/><circle cx="328.16" cy="572.1" r="1.3" fill="#000"/><circle cx="340.8" cy="572.1" r="6" fill="#fff" stroke="#000" stroke-width="2.4"/><circle cx="340.8" cy="572.1" r="1.3" fill="#000"/><circle cx="353.44" cy="572.1" r="6" fill="#fff" stroke="#000" stroke-width="2.4"/><circle cx="353.44" cy="572.1" r="1.3" fill="#000"/><circle cx="366.08" cy="572.1" r="6" fill="#fff" stroke="#000" stroke-width="2.4"/><circle cx="366.08" cy="572.1" r="1.3" fill="#000"/><circle cx="378.72" cy="572.1" r="6" fill="#fff" stroke="#000" stroke-width="2.4"/><circle cx="378.72" cy="572.1" r="1.3" fill="#000"/><circle cx="391.37" cy="572.1" r="6" fill="#fff" stroke="#000" stroke-width="2.4"/><circle cx="391.37" cy="572.1" r="1.3" fill="#000"/><circle cx="404.01" cy="572.1" r="6" fill="#fff" stroke="#000" stroke-width="2.4"/><circle cx="404.01" cy="572.1" r="1.3" fill="#000"/><circle cx="416.65" cy="572.1" r="6" fill="#fff" stroke="#000" stroke-width="2.4"/><circle cx="416.65" cy="572.1" r="1.3" fill="#000"/><circle cx="429.29" cy="572.1" r="6" fill="#fff" stroke="#000" stroke-width="2.4"/><circle cx="429.29" cy="572.1" r="1.3" fill="#000"/><circle cx="441.93" cy="572.1" r="6" fill="#fff" stroke="#000" stroke-width="2.4"/><circle cx="441.93" cy="572.1" r="1.3" fill="#000"/><circle cx="454.58" cy="572.1" r="6" fill="#fff" stroke="#000" stroke-width="2.4"/><circle cx="454.58" cy="572.1" r="1.3" fill="#000"/><circle cx="467.22" cy="571.68" r="6" fill="#fff" stroke="#000" stroke-width="2.4"/><circle cx="467.22" cy="571.68" r="1.3" fill="#000"/><circle cx="479.86" cy="570.93" r="6" fill="#fff" stroke="#000" stroke-width="2.4"/><circle cx="479.86" cy="570.93" r="1.3" fill="#000"/><circle cx="492.5" cy="570.27" r="6" fill="#fff" stroke="#000" stroke-width="2.4"/><circle cx="492.5" cy="570.27" r="1.3" fill="#000"/><circle cx="505.14" cy="569.47" r="6" fill="#fff" stroke="#000" stroke-width="2.4"/><circle cx="505.14" cy="569.47" r="1.3" fill="#000"/><circle cx="517.79" cy="568.31" r="6" fill="#fff" stroke="#000" stroke-width="2.4"/><circle cx="517.79" cy="568.31" r="1.3" fill="#000"/><circle cx="530.43" cy="566.85" r="6" fill="#fff" stroke="#000" stroke-width="2.4"/><circle cx="530.43" cy="566.85" r="1.3" fill="#000"/><circle cx="543.07" cy="564.22" r="6" fill="#fff" stroke="#000" stroke-width="2.4"/><circle cx="543.07" cy="564.22" r="1.3" fill="#000"/><circle cx="555.71" cy="560.43" r="6" fill="#fff" stroke="#000" stroke-width="2.4"/><circle cx="555.71" cy="560.43" r="1.3" fill="#000"/><circle cx="568.35" cy="555.47" r="6" fill="#fff" stroke="#000" stroke-width="2.4"/><circle cx="568.35" cy="555.47" r="1.3" fill="#000"/><circle cx="581" cy="547.01" r="6" fill="#fff" stroke="#000" stroke-width="2.4"/><circle cx="581" cy="547.01" r="1.3" fill="#000"/><circle cx="593.64" cy="535.92" r="6" fill="#fff" stroke="#000" stroke-width="2.4"/><circle cx="593.64" cy="535.92" r="1.3" fill="#000"/><circle cx="606.28" cy="526" r="6" fill="#fff" stroke="#000" stroke-width="2.4"/><circle cx="606.28" cy="526" r="1.3" fill="#000"/><circle cx="618.92" cy="516.67" r="6" fill="#fff" stroke="#000" stroke-width="2.4"/><circle cx="618.92" cy="516.67" r="1.3" fill="#000"/><circle cx="631.56" cy="508.5" r="6" fill="#fff" stroke="#000" stroke-width="2.4"/><circle cx="631.56" cy="508.5" r="1.3" fill="#000"/><circle cx="644.21" cy="499.75" r="6" fill="#fff" stroke="#000" stroke-width="2.4"/><circle cx="644.21" cy="499.75" r="1.3" fill="#000"/><circle cx="656.85" cy="492.16" r="6" fill="#fff" stroke="#000" stroke-width="2.4"/><circle cx="656.85" cy="492.16" r="1.3" fill="#000"/><circle cx="669.49" cy="487.78" r="6" fill="#fff" stroke="#000" stroke-width="2.4"/><circle cx="669.49" cy="487.78" r="1.3" fill="#000"/><circle cx="682.13" cy="490.7" r="6" fill="#fff" stroke="#000" stroke-width="2.4"/><circle cx="682.13" cy="490.7" r="1.3" fill="#000"/><circle cx="694.77" cy="498.87" r="6" fill="#fff" stroke="#000" stroke-width="2.4"/><circle cx="694.77" cy="498.87" r="1.3" fill="#000"/><circle cx="707.42" cy="508.5" r="6" fill="#fff" stroke="#000" stroke-width="2.4"/><circle cx="707.42" cy="508.5" r="1.3" fill="#000"/><circle cx="720.06" cy="519" r="6" fill="#fff" stroke="#000" stroke-width="2.4"/><circle cx="720.06" cy="519" r="1.3" fill="#000"/><circle cx="732.7" cy="528.05" r="6" fill="#fff" stroke="#000" stroke-width="2.4"/><circle cx="732.7" cy="528.05" r="1.3" fill="#000"/></g><g clip-path="url(#ca)"><path d="M100.6 572.1L113.24 572.1L125.88 572.1L138.53 572.1L151.17 572.1L163.81 572.1L176.45 572.1L189.09 572.1L201.74 572.1L214.38 572.1L227.02 572.1L239.66 572.1L252.3 572.1L264.95 572.1L277.59 572.1L290.23 572.1L302.87 572.1L315.51 572.1L328.16 572.1L340.8 572.1L353.44 572.1L366.08 572.1L378.72 572.1L391.37 572.1L404.01 572.1L416.65 572.1L429.29 572.1L441.93 572.1L454.58 572.1L467.22 572.1L479.86 572.1L492.5 571.89L505.14 571.35L517.79 570.64L530.43 569.57L543.07 567.72L555.71 563.35L568.35 558.1L581 551.09L593.64 538.55L606.28 526.59L618.92 510.83L631.56 489.24L644.21 465.32L656.85 440.52L669.49 418.93L682.13 403.18L694.77 394.13L707.42 392.09L720.06 394.13L732.7 405.8" fill="none" stroke="#ff0000" stroke-width="4.1" stroke-linejoin="round"/><path d="M92.2 567.23L109 567.23L100.6 581.83Z" fill="#fff" stroke="#ff0000" stroke-width="1.8" stroke-linejoin="miter"/><circle cx="100.6" cy="571.1" r="1.1" fill="#ff0000"/><path d="M104.84 567.23L121.64 567.23L113.24 581.83Z" fill="#fff" stroke="#ff0000" stroke-width="1.8" stroke-linejoin="miter"/><circle cx="113.24" cy="571.1" r="1.1" fill="#ff0000"/><path d="M117.48 567.23L134.28 567.23L125.88 581.83Z" fill="#fff" stroke="#ff0000" stroke-width="1.8" stroke-linejoin="miter"/><circle cx="125.88" cy="571.1" r="1.1" fill="#ff0000"/><path d="M130.13 567.23L146.93 567.23L138.53 581.83Z" fill="#fff" stroke="#ff0000" stroke-width="1.8" stroke-linejoin="miter"/><circle cx="138.53" cy="571.1" r="1.1" fill="#ff0000"/><path d="M142.77 567.23L159.57 567.23L151.17 581.83Z" fill="#fff" stroke="#ff0000" stroke-width="1.8" stroke-linejoin="miter"/><circle cx="151.17" cy="571.1" r="1.1" fill="#ff0000"/><path d="M155.41 567.23L172.21 567.23L163.81 581.83Z" fill="#fff" stroke="#ff0000" stroke-width="1.8" stroke-linejoin="miter"/><circle cx="163.81" cy="571.1" r="1.1" fill="#ff0000"/><path d="M168.05 567.23L184.85 567.23L176.45 581.83Z" fill="#fff" stroke="#ff0000" stroke-width="1.8" stroke-linejoin="miter"/><circle cx="176.45" cy="571.1" r="1.1" fill="#ff0000"/><path d="M180.69 567.23L197.49 567.23L189.09 581.83Z" fill="#fff" stroke="#ff0000" stroke-width="1.8" stroke-linejoin="miter"/><circle cx="189.09" cy="571.1" r="1.1" fill="#ff0000"/><path d="M193.34 567.23L210.14 567.23L201.74 581.83Z" fill="#fff" stroke="#ff0000" stroke-width="1.8" stroke-linejoin="miter"/><circle cx="201.74" cy="571.1" r="1.1" fill="#ff0000"/><path d="M205.98 567.23L222.78 567.23L214.38 581.83Z" fill="#fff" stroke="#ff0000" stroke-width="1.8" stroke-linejoin="miter"/><circle cx="214.38" cy="571.1" r="1.1" fill="#ff0000"/><path d="M218.62 567.23L235.42 567.23L227.02 581.83Z" fill="#fff" stroke="#ff0000" stroke-width="1.8" stroke-linejoin="miter"/><circle cx="227.02" cy="571.1" r="1.1" fill="#ff0000"/><path d="M231.26 567.23L248.06 567.23L239.66 581.83Z" fill="#fff" stroke="#ff0000" stroke-width="1.8" stroke-linejoin="miter"/><circle cx="239.66" cy="571.1" r="1.1" fill="#ff0000"/><path d="M243.9 567.23L260.7 567.23L252.3 581.83Z" fill="#fff" stroke="#ff0000" stroke-width="1.8" stroke-linejoin="miter"/><circle cx="252.3" cy="571.1" r="1.1" fill="#ff0000"/><path d="M256.55 567.23L273.35 567.23L264.95 581.83Z" fill="#fff" stroke="#ff0000" stroke-width="1.8" stroke-linejoin="miter"/><circle cx="264.95" cy="571.1" r="1.1" fill="#ff0000"/><path d="M269.19 567.23L285.99 567.23L277.59 581.83Z" fill="#fff" stroke="#ff0000" stroke-width="1.8" stroke-linejoin="miter"/><circle cx="277.59" cy="571.1" r="1.1" fill="#ff0000"/><path d="M281.83 567.23L298.63 567.23L290.23 581.83Z" fill="#fff" stroke="#ff0000" stroke-width="1.8" stroke-linejoin="miter"/><circle cx="290.23" cy="571.1" r="1.1" fill="#ff0000"/><path d="M294.47 567.23L311.27 567.23L302.87 581.83Z" fill="#fff" stroke="#ff0000" stroke-width="1.8" stroke-linejoin="miter"/><circle cx="302.87" cy="571.1" r="1.1" fill="#ff0000"/><path d="M307.11 567.23L323.91 567.23L315.51 581.83Z" fill="#fff" stroke="#ff0000" stroke-width="1.8" stroke-linejoin="miter"/><circle cx="315.51" cy="571.1" r="1.1" fill="#ff0000"/><path d="M319.76 567.23L336.56 567.23L328.16 581.83Z" fill="#fff" stroke="#ff0000" stroke-width="1.8" stroke-linejoin="miter"/><circle cx="328.16" cy="571.1" r="1.1" fill="#ff0000"/><path d="M332.4 567.23L349.2 567.23L340.8 581.83Z" fill="#fff" stroke="#ff0000" stroke-width="1.8" stroke-linejoin="miter"/><circle cx="340.8" cy="571.1" r="1.1" fill="#ff0000"/><path d="M345.04 567.23L361.84 567.23L353.44 581.83Z" fill="#fff" stroke="#ff0000" stroke-width="1.8" stroke-linejoin="miter"/><circle cx="353.44" cy="571.1" r="1.1" fill="#ff0000"/><path d="M357.68 567.23L374.48 567.23L366.08 581.83Z" fill="#fff" stroke="#ff0000" stroke-width="1.8" stroke-linejoin="miter"/><circle cx="366.08" cy="571.1" r="1.1" fill="#ff0000"/><path d="M370.32 567.23L387.12 567.23L378.72 581.83Z" fill="#fff" stroke="#ff0000" stroke-width="1.8" stroke-linejoin="miter"/><circle cx="378.72" cy="571.1" r="1.1" fill="#ff0000"/><path d="M382.97 567.23L399.77 567.23L391.37 581.83Z" fill="#fff" stroke="#ff0000" stroke-width="1.8" stroke-linejoin="miter"/><circle cx="391.37" cy="571.1" r="1.1" fill="#ff0000"/><path d="M395.61 567.23L412.41 567.23L404.01 581.83Z" fill="#fff" stroke="#ff0000" stroke-width="1.8" stroke-linejoin="miter"/><circle cx="404.01" cy="571.1" r="1.1" fill="#ff0000"/><path d="M408.25 567.23L425.05 567.23L416.65 581.83Z" fill="#fff" stroke="#ff0000" stroke-width="1.8" stroke-linejoin="miter"/><circle cx="416.65" cy="571.1" r="1.1" fill="#ff0000"/><path d="M420.89 567.23L437.69 567.23L429.29 581.83Z" fill="#fff" stroke="#ff0000" stroke-width="1.8" stroke-linejoin="miter"/><circle cx="429.29" cy="571.1" r="1.1" fill="#ff0000"/><path d="M433.53 567.23L450.33 567.23L441.93 581.83Z" fill="#fff" stroke="#ff0000" stroke-width="1.8" stroke-linejoin="miter"/><circle cx="441.93" cy="571.1" r="1.1" fill="#ff0000"/><path d="M446.18 567.23L462.98 567.23L454.58 581.83Z" fill="#fff" stroke="#ff0000" stroke-width="1.8" stroke-linejoin="miter"/><circle cx="454.58" cy="571.1" r="1.1" fill="#ff0000"/><path d="M458.82 567.23L475.62 567.23L467.22 581.83Z" fill="#fff" stroke="#ff0000" stroke-width="1.8" stroke-linejoin="miter"/><circle cx="467.22" cy="571.1" r="1.1" fill="#ff0000"/><path d="M471.46 567.23L488.26 567.23L479.86 581.83Z" fill="#fff" stroke="#ff0000" stroke-width="1.8" stroke-linejoin="miter"/><circle cx="479.86" cy="571.1" r="1.1" fill="#ff0000"/><path d="M484.1 567.02L500.9 567.02L492.5 581.62Z" fill="#fff" stroke="#ff0000" stroke-width="1.8" stroke-linejoin="miter"/><circle cx="492.5" cy="570.89" r="1.1" fill="#ff0000"/><path d="M496.74 566.49L513.54 566.49L505.14 581.09Z" fill="#fff" stroke="#ff0000" stroke-width="1.8" stroke-linejoin="miter"/><circle cx="505.14" cy="570.35" r="1.1" fill="#ff0000"/><path d="M509.39 565.77L526.19 565.77L517.79 580.37Z" fill="#fff" stroke="#ff0000" stroke-width="1.8" stroke-linejoin="miter"/><circle cx="517.79" cy="569.64" r="1.1" fill="#ff0000"/><path d="M522.03 564.71L538.83 564.71L530.43 579.31Z" fill="#fff" stroke="#ff0000" stroke-width="1.8" stroke-linejoin="miter"/><circle cx="530.43" cy="568.57" r="1.1" fill="#ff0000"/><path d="M534.67 562.86L551.47 562.86L543.07 577.46Z" fill="#fff" stroke="#ff0000" stroke-width="1.8" stroke-linejoin="miter"/><circle cx="543.07" cy="566.72" r="1.1" fill="#ff0000"/><path d="M547.31 558.48L564.11 558.48L555.71 573.08Z" fill="#fff" stroke="#ff0000" stroke-width="1.8" stroke-linejoin="miter"/><circle cx="555.71" cy="562.35" r="1.1" fill="#ff0000"/><path d="M559.95 553.23L576.75 553.23L568.35 567.83Z" fill="#fff" stroke="#ff0000" stroke-width="1.8" stroke-linejoin="miter"/><circle cx="568.35" cy="557.1" r="1.1" fill="#ff0000"/><path d="M572.6 546.23L589.4 546.23L581 560.83Z" fill="#fff" stroke="#ff0000" stroke-width="1.8" stroke-linejoin="miter"/><circle cx="581" cy="550.09" r="1.1" fill="#ff0000"/><path d="M585.24 533.68L602.04 533.68L593.64 548.28Z" fill="#fff" stroke="#ff0000" stroke-width="1.8" stroke-linejoin="miter"/><circle cx="593.64" cy="537.55" r="1.1" fill="#ff0000"/><path d="M597.88 521.72L614.68 521.72L606.28 536.32Z" fill="#fff" stroke="#ff0000" stroke-width="1.8" stroke-linejoin="miter"/><circle cx="606.28" cy="525.59" r="1.1" fill="#ff0000"/><path d="M610.52 505.97L627.32 505.97L618.92 520.57Z" fill="#fff" stroke="#ff0000" stroke-width="1.8" stroke-linejoin="miter"/><circle cx="618.92" cy="509.83" r="1.1" fill="#ff0000"/><path d="M623.16 484.38L639.96 484.38L631.56 498.98Z" fill="#fff" stroke="#ff0000" stroke-width="1.8" stroke-linejoin="miter"/><circle cx="631.56" cy="488.24" r="1.1" fill="#ff0000"/><path d="M635.81 460.45L652.61 460.45L644.21 475.05Z" fill="#fff" stroke="#ff0000" stroke-width="1.8" stroke-linejoin="miter"/><circle cx="644.21" cy="464.32" r="1.1" fill="#ff0000"/><path d="M648.45 435.65L665.25 435.65L656.85 450.25Z" fill="#fff" stroke="#ff0000" stroke-width="1.8" stroke-linejoin="miter"/><circle cx="656.85" cy="439.52" r="1.1" fill="#ff0000"/><path d="M661.09 414.06L677.89 414.06L669.49 428.66Z" fill="#fff" stroke="#ff0000" stroke-width="1.8" stroke-linejoin="miter"/><circle cx="669.49" cy="417.93" r="1.1" fill="#ff0000"/><path d="M673.73 398.31L690.53 398.31L682.13 412.91Z" fill="#fff" stroke="#ff0000" stroke-width="1.8" stroke-linejoin="miter"/><circle cx="682.13" cy="402.18" r="1.1" fill="#ff0000"/><path d="M686.37 389.27L703.17 389.27L694.77 403.87Z" fill="#fff" stroke="#ff0000" stroke-width="1.8" stroke-linejoin="miter"/><circle cx="694.77" cy="393.13" r="1.1" fill="#ff0000"/><path d="M699.02 387.22L715.82 387.22L707.42 401.82Z" fill="#fff" stroke="#ff0000" stroke-width="1.8" stroke-linejoin="miter"/><circle cx="707.42" cy="391.09" r="1.1" fill="#ff0000"/><path d="M711.66 389.27L728.46 389.27L720.06 403.87Z" fill="#fff" stroke="#ff0000" stroke-width="1.8" stroke-linejoin="miter"/><circle cx="720.06" cy="393.13" r="1.1" fill="#ff0000"/><path d="M724.3 400.94L741.1 400.94L732.7 415.54Z" fill="#fff" stroke="#ff0000" stroke-width="1.8" stroke-linejoin="miter"/><circle cx="732.7" cy="404.8" r="1.1" fill="#ff0000"/></g><g clip-path="url(#ca)"><path d="M100.6 572.1L113.24 572.1L125.88 572.1L138.53 572.1L151.17 572.1L163.81 572.1L176.45 572.1L189.09 572.1L201.74 572.1L214.38 572.1L227.02 572.1L239.66 572.1L252.3 572.1L264.95 572.1L277.59 572.1L290.23 572.1L302.87 572.1L315.51 572.1L328.16 572.1L340.8 572.1L353.44 572.1L366.08 572.1L378.72 572.1L391.37 572.1L404.01 572.1L416.65 572.1L429.29 572.1L441.93 572.1L454.58 572.1L467.22 572.1L479.86 572.1L492.5 572.1L505.14 572.1L517.79 572.1L530.43 572.1L543.07 571.52L555.71 570.64L568.35 568.6L581 563.93L593.64 555.18L606.28 540.01L618.92 513.75L631.56 482.24L644.21 441.69L656.85 395.01L669.49 344.24L682.13 295.81L694.77 259.34L707.42 237.46L720.06 227.84L732.7 253.22" fill="none" stroke="#0000ff" stroke-width="4.3" stroke-linejoin="round"/><path d="M100.6 564.7L102.77 569.91L108.4 570.37L104.11 574.04L105.42 579.53L100.6 576.59L95.78 579.53L97.09 574.04L92.8 570.37L98.43 569.91Z" fill="#fff" stroke="#0000ff" stroke-width="3" stroke-linejoin="round"/><circle cx="100.6" cy="572.9" r="1.2" fill="#0000ff"/><path d="M113.24 564.7L115.41 569.91L121.04 570.37L116.75 574.04L118.06 579.53L113.24 576.59L108.42 579.53L109.73 574.04L105.44 570.37L111.07 569.91Z" fill="#fff" stroke="#0000ff" stroke-width="3" stroke-linejoin="round"/><circle cx="113.24" cy="572.9" r="1.2" fill="#0000ff"/><path d="M125.88 564.7L128.05 569.91L133.68 570.37L129.39 574.04L130.7 579.53L125.88 576.59L121.06 579.53L122.37 574.04L118.09 570.37L123.72 569.91Z" fill="#fff" stroke="#0000ff" stroke-width="3" stroke-linejoin="round"/><circle cx="125.88" cy="572.9" r="1.2" fill="#0000ff"/><path d="M138.53 564.7L140.69 569.91L146.32 570.37L142.04 574.04L143.35 579.53L138.53 576.59L133.71 579.53L135.02 574.04L130.73 570.37L136.36 569.91Z" fill="#fff" stroke="#0000ff" stroke-width="3" stroke-linejoin="round"/><circle cx="138.53" cy="572.9" r="1.2" fill="#0000ff"/><path d="M151.17 564.7L153.34 569.91L158.97 570.37L154.68 574.04L155.99 579.53L151.17 576.59L146.35 579.53L147.66 574.04L143.37 570.37L149 569.91Z" fill="#fff" stroke="#0000ff" stroke-width="3" stroke-linejoin="round"/><circle cx="151.17" cy="572.9" r="1.2" fill="#0000ff"/><path d="M163.81 564.7L165.98 569.91L171.61 570.37L167.32 574.04L168.63 579.53L163.81 576.59L158.99 579.53L160.3 574.04L156.01 570.37L161.64 569.91Z" fill="#fff" stroke="#0000ff" stroke-width="3" stroke-linejoin="round"/><circle cx="163.81" cy="572.9" r="1.2" fill="#0000ff"/><path d="M176.45 564.7L178.62 569.91L184.25 570.37L179.96 574.04L181.27 579.53L176.45 576.59L171.63 579.53L172.94 574.04L168.65 570.37L174.28 569.91Z" fill="#fff" stroke="#0000ff" stroke-width="3" stroke-linejoin="round"/><circle cx="176.45" cy="572.9" r="1.2" fill="#0000ff"/><path d="M189.09 564.7L191.26 569.91L196.89 570.37L192.6 574.04L193.91 579.53L189.09 576.59L184.27 579.53L185.58 574.04L181.3 570.37L186.93 569.91Z" fill="#fff" stroke="#0000ff" stroke-width="3" stroke-linejoin="round"/><circle cx="189.09" cy="572.9" r="1.2" fill="#0000ff"/><path d="M201.74 564.7L203.9 569.91L209.53 570.37L205.25 574.04L206.56 579.53L201.74 576.59L196.92 579.53L198.23 574.04L193.94 570.37L199.57 569.91Z" fill="#fff" stroke="#0000ff" stroke-width="3" stroke-linejoin="round"/><circle cx="201.74" cy="572.9" r="1.2" fill="#0000ff"/><path d="M214.38 564.7L216.55 569.91L222.18 570.37L217.89 574.04L219.2 579.53L214.38 576.59L209.56 579.53L210.87 574.04L206.58 570.37L212.21 569.91Z" fill="#fff" stroke="#0000ff" stroke-width="3" stroke-linejoin="round"/><circle cx="214.38" cy="572.9" r="1.2" fill="#0000ff"/><path d="M227.02 564.7L229.19 569.91L234.82 570.37L230.53 574.04L231.84 579.53L227.02 576.59L222.2 579.53L223.51 574.04L219.22 570.37L224.85 569.91Z" fill="#fff" stroke="#0000ff" stroke-width="3" stroke-linejoin="round"/><circle cx="227.02" cy="572.9" r="1.2" fill="#0000ff"/><path d="M239.66 564.7L241.83 569.91L247.46 570.37L243.17 574.04L244.48 579.53L239.66 576.59L234.84 579.53L236.15 574.04L231.86 570.37L237.49 569.91Z" fill="#fff" stroke="#0000ff" stroke-width="3" stroke-linejoin="round"/><circle cx="239.66" cy="572.9" r="1.2" fill="#0000ff"/><path d="M252.3 564.7L254.47 569.91L260.1 570.37L255.81 574.04L257.12 579.53L252.3 576.59L247.48 579.53L248.79 574.04L244.51 570.37L250.14 569.91Z" fill="#fff" stroke="#0000ff" stroke-width="3" stroke-linejoin="round"/><circle cx="252.3" cy="572.9" r="1.2" fill="#0000ff"/><path d="M264.95 564.7L267.11 569.91L272.74 570.37L268.46 574.04L269.77 579.53L264.95 576.59L260.13 579.53L261.44 574.04L257.15 570.37L262.78 569.91Z" fill="#fff" stroke="#0000ff" stroke-width="3" stroke-linejoin="round"/><circle cx="264.95" cy="572.9" r="1.2" fill="#0000ff"/><path d="M277.59 564.7L279.76 569.91L285.39 570.37L281.1 574.04L282.41 579.53L277.59 576.59L272.77 579.53L274.08 574.04L269.79 570.37L275.42 569.91Z" fill="#fff" stroke="#0000ff" stroke-width="3" stroke-linejoin="round"/><circle cx="277.59" cy="572.9" r="1.2" fill="#0000ff"/><path d="M290.23 564.7L292.4 569.91L298.03 570.37L293.74 574.04L295.05 579.53L290.23 576.59L285.41 579.53L286.72 574.04L282.43 570.37L288.06 569.91Z" fill="#fff" stroke="#0000ff" stroke-width="3" stroke-linejoin="round"/><circle cx="290.23" cy="572.9" r="1.2" fill="#0000ff"/><path d="M302.87 564.7L305.04 569.91L310.67 570.37L306.38 574.04L307.69 579.53L302.87 576.59L298.05 579.53L299.36 574.04L295.07 570.37L300.7 569.91Z" fill="#fff" stroke="#0000ff" stroke-width="3" stroke-linejoin="round"/><circle cx="302.87" cy="572.9" r="1.2" fill="#0000ff"/><path d="M315.51 564.7L317.68 569.91L323.31 570.37L319.02 574.04L320.33 579.53L315.51 576.59L310.69 579.53L312 574.04L307.72 570.37L313.35 569.91Z" fill="#fff" stroke="#0000ff" stroke-width="3" stroke-linejoin="round"/><circle cx="315.51" cy="572.9" r="1.2" fill="#0000ff"/><path d="M328.16 564.7L330.32 569.91L335.95 570.37L331.67 574.04L332.98 579.53L328.16 576.59L323.34 579.53L324.65 574.04L320.36 570.37L325.99 569.91Z" fill="#fff" stroke="#0000ff" stroke-width="3" stroke-linejoin="round"/><circle cx="328.16" cy="572.9" r="1.2" fill="#0000ff"/><path d="M340.8 564.7L342.97 569.91L348.6 570.37L344.31 574.04L345.62 579.53L340.8 576.59L335.98 579.53L337.29 574.04L333 570.37L338.63 569.91Z" fill="#fff" stroke="#0000ff" stroke-width="3" stroke-linejoin="round"/><circle cx="340.8" cy="572.9" r="1.2" fill="#0000ff"/><path d="M353.44 564.7L355.61 569.91L361.24 570.37L356.95 574.04L358.26 579.53L353.44 576.59L348.62 579.53L349.93 574.04L345.64 570.37L351.27 569.91Z" fill="#fff" stroke="#0000ff" stroke-width="3" stroke-linejoin="round"/><circle cx="353.44" cy="572.9" r="1.2" fill="#0000ff"/><path d="M366.08 564.7L368.25 569.91L373.88 570.37L369.59 574.04L370.9 579.53L366.08 576.59L361.26 579.53L362.57 574.04L358.28 570.37L363.91 569.91Z" fill="#fff" stroke="#0000ff" stroke-width="3" stroke-linejoin="round"/><circle cx="366.08" cy="572.9" r="1.2" fill="#0000ff"/><path d="M378.72 564.7L380.89 569.91L386.52 570.37L382.23 574.04L383.54 579.53L378.72 576.59L373.9 579.53L375.21 574.04L370.93 570.37L376.56 569.91Z" fill="#fff" stroke="#0000ff" stroke-width="3" stroke-linejoin="round"/><circle cx="378.72" cy="572.9" r="1.2" fill="#0000ff"/><path d="M391.37 564.7L393.53 569.91L399.16 570.37L394.88 574.04L396.19 579.53L391.37 576.59L386.55 579.53L387.86 574.04L383.57 570.37L389.2 569.91Z" fill="#fff" stroke="#0000ff" stroke-width="3" stroke-linejoin="round"/><circle cx="391.37" cy="572.9" r="1.2" fill="#0000ff"/><path d="M404.01 564.7L406.18 569.91L411.81 570.37L407.52 574.04L408.83 579.53L404.01 576.59L399.19 579.53L400.5 574.04L396.21 570.37L401.84 569.91Z" fill="#fff" stroke="#0000ff" stroke-width="3" stroke-linejoin="round"/><circle cx="404.01" cy="572.9" r="1.2" fill="#0000ff"/><path d="M416.65 564.7L418.82 569.91L424.45 570.37L420.16 574.04L421.47 579.53L416.65 576.59L411.83 579.53L413.14 574.04L408.85 570.37L414.48 569.91Z" fill="#fff" stroke="#0000ff" stroke-width="3" stroke-linejoin="round"/><circle cx="416.65" cy="572.9" r="1.2" fill="#0000ff"/><path d="M429.29 564.7L431.46 569.91L437.09 570.37L432.8 574.04L434.11 579.53L429.29 576.59L424.47 579.53L425.78 574.04L421.49 570.37L427.12 569.91Z" fill="#fff" stroke="#0000ff" stroke-width="3" stroke-linejoin="round"/><circle cx="429.29" cy="572.9" r="1.2" fill="#0000ff"/><path d="M441.93 564.7L444.1 569.91L449.73 570.37L445.44 574.04L446.75 579.53L441.93 576.59L437.11 579.53L438.42 574.04L434.14 570.37L439.77 569.91Z" fill="#fff" stroke="#0000ff" stroke-width="3" stroke-linejoin="round"/><circle cx="441.93" cy="572.9" r="1.2" fill="#0000ff"/><path d="M454.58 564.7L456.74 569.91L462.37 570.37L458.09 574.04L459.4 579.53L454.58 576.59L449.76 579.53L451.07 574.04L446.78 570.37L452.41 569.91Z" fill="#fff" stroke="#0000ff" stroke-width="3" stroke-linejoin="round"/><circle cx="454.58" cy="572.9" r="1.2" fill="#0000ff"/><path d="M467.22 564.7L469.39 569.91L475.02 570.37L470.73 574.04L472.04 579.53L467.22 576.59L462.4 579.53L463.71 574.04L459.42 570.37L465.05 569.91Z" fill="#fff" stroke="#0000ff" stroke-width="3" stroke-linejoin="round"/><circle cx="467.22" cy="572.9" r="1.2" fill="#0000ff"/><path d="M479.86 564.7L482.03 569.91L487.66 570.37L483.37 574.04L484.68 579.53L479.86 576.59L475.04 579.53L476.35 574.04L472.06 570.37L477.69 569.91Z" fill="#fff" stroke="#0000ff" stroke-width="3" stroke-linejoin="round"/><circle cx="479.86" cy="572.9" r="1.2" fill="#0000ff"/><path d="M492.5 564.7L494.67 569.91L500.3 570.37L496.01 574.04L497.32 579.53L492.5 576.59L487.68 579.53L488.99 574.04L484.7 570.37L490.33 569.91Z" fill="#fff" stroke="#0000ff" stroke-width="3" stroke-linejoin="round"/><circle cx="492.5" cy="572.9" r="1.2" fill="#0000ff"/><path d="M505.14 564.7L507.31 569.91L512.94 570.37L508.65 574.04L509.96 579.53L505.14 576.59L500.32 579.53L501.63 574.04L497.35 570.37L502.98 569.91Z" fill="#fff" stroke="#0000ff" stroke-width="3" stroke-linejoin="round"/><circle cx="505.14" cy="572.9" r="1.2" fill="#0000ff"/><path d="M517.79 564.7L519.95 569.91L525.58 570.37L521.3 574.04L522.61 579.53L517.79 576.59L512.97 579.53L514.28 574.04L509.99 570.37L515.62 569.91Z" fill="#fff" stroke="#0000ff" stroke-width="3" stroke-linejoin="round"/><circle cx="517.79" cy="572.9" r="1.2" fill="#0000ff"/><path d="M530.43 564.7L532.6 569.91L538.23 570.37L533.94 574.04L535.25 579.53L530.43 576.59L525.61 579.53L526.92 574.04L522.63 570.37L528.26 569.91Z" fill="#fff" stroke="#0000ff" stroke-width="3" stroke-linejoin="round"/><circle cx="530.43" cy="572.9" r="1.2" fill="#0000ff"/><path d="M543.07 564.12L545.24 569.33L550.87 569.78L546.58 573.46L547.89 578.95L543.07 576.01L538.25 578.95L539.56 573.46L535.27 569.78L540.9 569.33Z" fill="#fff" stroke="#0000ff" stroke-width="3" stroke-linejoin="round"/><circle cx="543.07" cy="572.32" r="1.2" fill="#0000ff"/><path d="M555.71 563.24L557.88 568.46L563.51 568.91L559.22 572.58L560.53 578.08L555.71 575.13L550.89 578.08L552.2 572.58L547.91 568.91L553.54 568.46Z" fill="#fff" stroke="#0000ff" stroke-width="3" stroke-linejoin="round"/><circle cx="555.71" cy="571.44" r="1.2" fill="#0000ff"/><path d="M568.35 561.2L570.52 566.41L576.15 566.87L571.86 570.54L573.17 576.03L568.35 573.09L563.53 576.03L564.84 570.54L560.56 566.87L566.19 566.41Z" fill="#fff" stroke="#0000ff" stroke-width="3" stroke-linejoin="round"/><circle cx="568.35" cy="569.4" r="1.2" fill="#0000ff"/><path d="M581 556.53L583.16 561.75L588.79 562.2L584.51 565.87L585.82 571.36L581 568.42L576.18 571.36L577.49 565.87L573.2 562.2L578.83 561.75Z" fill="#fff" stroke="#0000ff" stroke-width="3" stroke-linejoin="round"/><circle cx="581" cy="564.73" r="1.2" fill="#0000ff"/><path d="M593.64 547.78L595.81 552.99L601.44 553.44L597.15 557.12L598.46 562.61L593.64 559.67L588.82 562.61L590.13 557.12L585.84 553.44L591.47 552.99Z" fill="#fff" stroke="#0000ff" stroke-width="3" stroke-linejoin="round"/><circle cx="593.64" cy="555.98" r="1.2" fill="#0000ff"/><path d="M606.28 532.61L608.45 537.82L614.08 538.27L609.79 541.95L611.1 547.44L606.28 544.5L601.46 547.44L602.77 541.95L598.48 538.27L604.11 537.82Z" fill="#fff" stroke="#0000ff" stroke-width="3" stroke-linejoin="round"/><circle cx="606.28" cy="540.81" r="1.2" fill="#0000ff"/><path d="M618.92 506.35L621.09 511.56L626.72 512.02L622.43 515.69L623.74 521.18L618.92 518.24L614.1 521.18L615.41 515.69L611.12 512.02L616.75 511.56Z" fill="#fff" stroke="#0000ff" stroke-width="3" stroke-linejoin="round"/><circle cx="618.92" cy="514.55" r="1.2" fill="#0000ff"/><path d="M631.56 474.84L633.73 480.06L639.36 480.51L635.07 484.18L636.38 489.67L631.56 486.73L626.74 489.67L628.05 484.18L623.77 480.51L629.4 480.06Z" fill="#fff" stroke="#0000ff" stroke-width="3" stroke-linejoin="round"/><circle cx="631.56" cy="483.04" r="1.2" fill="#0000ff"/><path d="M644.21 434.29L646.37 439.5L652 439.95L647.72 443.63L649.03 449.12L644.21 446.18L639.39 449.12L640.7 443.63L636.41 439.95L642.04 439.5Z" fill="#fff" stroke="#0000ff" stroke-width="3" stroke-linejoin="round"/><circle cx="644.21" cy="442.49" r="1.2" fill="#0000ff"/><path d="M656.85 387.61L659.02 392.82L664.65 393.27L660.36 396.95L661.67 402.44L656.85 399.5L652.03 402.44L653.34 396.95L649.05 393.27L654.68 392.82Z" fill="#fff" stroke="#0000ff" stroke-width="3" stroke-linejoin="round"/><circle cx="656.85" cy="395.81" r="1.2" fill="#0000ff"/><path d="M669.49 336.84L671.66 342.06L677.29 342.51L673 346.18L674.31 351.68L669.49 348.73L664.67 351.68L665.98 346.18L661.69 342.51L667.32 342.06Z" fill="#fff" stroke="#0000ff" stroke-width="3" stroke-linejoin="round"/><circle cx="669.49" cy="345.04" r="1.2" fill="#0000ff"/><path d="M682.13 288.41L684.3 293.63L689.93 294.08L685.64 297.75L686.95 303.25L682.13 300.3L677.31 303.25L678.62 297.75L674.33 294.08L679.96 293.63Z" fill="#fff" stroke="#0000ff" stroke-width="3" stroke-linejoin="round"/><circle cx="682.13" cy="296.61" r="1.2" fill="#0000ff"/><path d="M694.77 251.94L696.94 257.16L702.57 257.61L698.28 261.28L699.59 266.78L694.77 263.83L689.95 266.78L691.26 261.28L686.98 257.61L692.61 257.16Z" fill="#fff" stroke="#0000ff" stroke-width="3" stroke-linejoin="round"/><circle cx="694.77" cy="260.14" r="1.2" fill="#0000ff"/><path d="M707.42 230.06L709.58 235.28L715.21 235.73L710.93 239.4L712.24 244.9L707.42 241.95L702.6 244.9L703.91 239.4L699.62 235.73L705.25 235.28Z" fill="#fff" stroke="#0000ff" stroke-width="3" stroke-linejoin="round"/><circle cx="707.42" cy="238.26" r="1.2" fill="#0000ff"/><path d="M720.06 220.44L722.23 225.65L727.86 226.1L723.57 229.78L724.88 235.27L720.06 232.33L715.24 235.27L716.55 229.78L712.26 226.1L717.89 225.65Z" fill="#fff" stroke="#0000ff" stroke-width="3" stroke-linejoin="round"/><circle cx="720.06" cy="228.64" r="1.2" fill="#0000ff"/><path d="M732.7 245.82L734.87 251.03L740.5 251.48L736.21 255.16L737.52 260.65L732.7 257.71L727.88 260.65L729.19 255.16L724.9 251.48L730.53 251.03Z" fill="#fff" stroke="#0000ff" stroke-width="3" stroke-linejoin="round"/><circle cx="732.7" cy="254.02" r="1.2" fill="#0000ff"/></g><g clip-path="url(#cb)"><path d="M1058 386.15L1070.49 386.15L1082.99 386.15L1095.48 386.15L1107.98 386.15L1120.47 386.15L1132.96 386.15L1145.46 386.15L1157.95 386.15L1170.45 386.15L1182.94 386.15L1195.43 386.15L1207.93 386.15L1220.42 386.15L1232.92 386.15L1245.41 386.15L1257.9 386.15L1270.4 386.15L1282.89 386.15L1295.39 386.15L1307.88 386.15L1320.37 386.11L1332.87 386L1345.36 385.83L1357.86 385.62L1370.35 385.38L1382.84 385.05L1395.34 384.55L1407.83 383.83L1420.33 382.28L1432.82 380.26L1445.31 376L1457.81 370.34L1470.3 362.58L1482.8 352.04L1495.29 339.94L1507.78 322.96L1520.28 303.19L1532.77 278.14L1545.27 251.24L1557.76 224.33L1570.25 196.73L1582.75 171.68L1595.24 151.99L1607.74 138.81L1620.23 131.83L1632.72 131.83L1645.22 142.92L1657.71 160.52L1670.21 179.28L1682.7 202.39" fill="none" stroke="#8000ff" stroke-width="3.9" stroke-linejoin="round"/><circle cx="1058" cy="386.15" r="6.4" fill="#fff" stroke="#8000ff" stroke-width="2.1"/><path d="M1051.6 386.15H1064.4M1058 379.75V392.55" stroke="#8000ff" stroke-width="2.1"/><circle cx="1070.49" cy="386.15" r="6.4" fill="#fff" stroke="#8000ff" stroke-width="2.1"/><path d="M1064.09 386.15H1076.89M1070.49 379.75V392.55" stroke="#8000ff" stroke-width="2.1"/><circle cx="1082.99" cy="386.15" r="6.4" fill="#fff" stroke="#8000ff" stroke-width="2.1"/><path d="M1076.59 386.15H1089.39M1082.99 379.75V392.55" stroke="#8000ff" stroke-width="2.1"/><circle cx="1095.48" cy="386.15" r="6.4" fill="#fff" stroke="#8000ff" stroke-width="2.1"/><path d="M1089.08 386.15H1101.88M1095.48 379.75V392.55" stroke="#8000ff" stroke-width="2.1"/><circle cx="1107.98" cy="386.15" r="6.4" fill="#fff" stroke="#8000ff" stroke-width="2.1"/><path d="M1101.58 386.15H1114.38M1107.98 379.75V392.55" stroke="#8000ff" stroke-width="2.1"/><circle cx="1120.47" cy="386.15" r="6.4" fill="#fff" stroke="#8000ff" stroke-width="2.1"/><path d="M1114.07 386.15H1126.87M1120.47 379.75V392.55" stroke="#8000ff" stroke-width="2.1"/><circle cx="1132.96" cy="386.15" r="6.4" fill="#fff" stroke="#8000ff" stroke-width="2.1"/><path d="M1126.56 386.15H1139.36M1132.96 379.75V392.55" stroke="#8000ff" stroke-width="2.1"/><circle cx="1145.46" cy="386.15" r="6.4" fill="#fff" stroke="#8000ff" stroke-width="2.1"/><path d="M1139.06 386.15H1151.86M1145.46 379.75V392.55" stroke="#8000ff" stroke-width="2.1"/><circle cx="1157.95" cy="386.15" r="6.4" fill="#fff" stroke="#8000ff" stroke-width="2.1"/><path d="M1151.55 386.15H1164.35M1157.95 379.75V392.55" stroke="#8000ff" stroke-width="2.1"/><circle cx="1170.45" cy="386.15" r="6.4" fill="#fff" stroke="#8000ff" stroke-width="2.1"/><path d="M1164.05 386.15H1176.85M1170.45 379.75V392.55" stroke="#8000ff" stroke-width="2.1"/><circle cx="1182.94" cy="386.15" r="6.4" fill="#fff" stroke="#8000ff" stroke-width="2.1"/><path d="M1176.54 386.15H1189.34M1182.94 379.75V392.55" stroke="#8000ff" stroke-width="2.1"/><circle cx="1195.43" cy="386.15" r="6.4" fill="#fff" stroke="#8000ff" stroke-width="2.1"/><path d="M1189.03 386.15H1201.83M1195.43 379.75V392.55" stroke="#8000ff" stroke-width="2.1"/><circle cx="1207.93" cy="386.15" r="6.4" fill="#fff" stroke="#8000ff" stroke-width="2.1"/><path d="M1201.53 386.15H1214.33M1207.93 379.75V392.55" stroke="#8000ff" stroke-width="2.1"/><circle cx="1220.42" cy="386.15" r="6.4" fill="#fff" stroke="#8000ff" stroke-width="2.1"/><path d="M1214.02 386.15H1226.82M1220.42 379.75V392.55" stroke="#8000ff" stroke-width="2.1"/><circle cx="1232.92" cy="386.15" r="6.4" fill="#fff" stroke="#8000ff" stroke-width="2.1"/><path d="M1226.52 386.15H1239.32M1232.92 379.75V392.55" stroke="#8000ff" stroke-width="2.1"/><circle cx="1245.41" cy="386.15" r="6.4" fill="#fff" stroke="#8000ff" stroke-width="2.1"/><path d="M1239.01 386.15H1251.81M1245.41 379.75V392.55" stroke="#8000ff" stroke-width="2.1"/><circle cx="1257.9" cy="386.15" r="6.4" fill="#fff" stroke="#8000ff" stroke-width="2.1"/><path d="M1251.5 386.15H1264.3M1257.9 379.75V392.55" stroke="#8000ff" stroke-width="2.1"/><circle cx="1270.4" cy="386.15" r="6.4" fill="#fff" stroke="#8000ff" stroke-width="2.1"/><path d="M1264 386.15H1276.8M1270.4 379.75V392.55" stroke="#8000ff" stroke-width="2.1"/><circle cx="1282.89" cy="386.15" r="6.4" fill="#fff" stroke="#8000ff" stroke-width="2.1"/><path d="M1276.49 386.15H1289.29M1282.89 379.75V392.55" stroke="#8000ff" stroke-width="2.1"/><circle cx="1295.39" cy="386.15" r="6.4" fill="#fff" stroke="#8000ff" stroke-width="2.1"/><path d="M1288.99 386.15H1301.79M1295.39 379.75V392.55" stroke="#8000ff" stroke-width="2.1"/><circle cx="1307.88" cy="386.15" r="6.4" fill="#fff" stroke="#8000ff" stroke-width="2.1"/><path d="M1301.48 386.15H1314.28M1307.88 379.75V392.55" stroke="#8000ff" stroke-width="2.1"/><circle cx="1320.37" cy="386.11" r="6.4" fill="#fff" stroke="#8000ff" stroke-width="2.1"/><path d="M1313.97 386.11H1326.77M1320.37 379.71V392.51" stroke="#8000ff" stroke-width="2.1"/><circle cx="1332.87" cy="386" r="6.4" fill="#fff" stroke="#8000ff" stroke-width="2.1"/><path d="M1326.47 386H1339.27M1332.87 379.6V392.4" stroke="#8000ff" stroke-width="2.1"/><circle cx="1345.36" cy="385.83" r="6.4" fill="#fff" stroke="#8000ff" stroke-width="2.1"/><path d="M1338.96 385.83H1351.76M1345.36 379.43V392.23" stroke="#8000ff" stroke-width="2.1"/><circle cx="1357.86" cy="385.62" r="6.4" fill="#fff" stroke="#8000ff" stroke-width="2.1"/><path d="M1351.46 385.62H1364.26M1357.86 379.22V392.02" stroke="#8000ff" stroke-width="2.1"/><circle cx="1370.35" cy="385.38" r="6.4" fill="#fff" stroke="#8000ff" stroke-width="2.1"/><path d="M1363.95 385.38H1376.75M1370.35 378.98V391.78" stroke="#8000ff" stroke-width="2.1"/><circle cx="1382.84" cy="385.05" r="6.4" fill="#fff" stroke="#8000ff" stroke-width="2.1"/><path d="M1376.44 385.05H1389.24M1382.84 378.65V391.45" stroke="#8000ff" stroke-width="2.1"/><circle cx="1395.34" cy="384.55" r="6.4" fill="#fff" stroke="#8000ff" stroke-width="2.1"/><path d="M1388.94 384.55H1401.74M1395.34 378.15V390.95" stroke="#8000ff" stroke-width="2.1"/><circle cx="1407.83" cy="383.83" r="6.4" fill="#fff" stroke="#8000ff" stroke-width="2.1"/><path d="M1401.43 383.83H1414.23M1407.83 377.43V390.23" stroke="#8000ff" stroke-width="2.1"/><circle cx="1420.33" cy="382.28" r="6.4" fill="#fff" stroke="#8000ff" stroke-width="2.1"/><path d="M1413.93 382.28H1426.73M1420.33 375.88V388.68" stroke="#8000ff" stroke-width="2.1"/><circle cx="1432.82" cy="380.26" r="6.4" fill="#fff" stroke="#8000ff" stroke-width="2.1"/><path d="M1426.42 380.26H1439.22M1432.82 373.86V386.66" stroke="#8000ff" stroke-width="2.1"/><circle cx="1445.31" cy="376" r="6.4" fill="#fff" stroke="#8000ff" stroke-width="2.1"/><path d="M1438.91 376H1451.71M1445.31 369.6V382.4" stroke="#8000ff" stroke-width="2.1"/><circle cx="1457.81" cy="370.34" r="6.4" fill="#fff" stroke="#8000ff" stroke-width="2.1"/><path d="M1451.41 370.34H1464.21M1457.81 363.94V376.74" stroke="#8000ff" stroke-width="2.1"/><circle cx="1470.3" cy="362.58" r="6.4" fill="#fff" stroke="#8000ff" stroke-width="2.1"/><path d="M1463.9 362.58H1476.7M1470.3 356.18V368.98" stroke="#8000ff" stroke-width="2.1"/><circle cx="1482.8" cy="352.04" r="6.4" fill="#fff" stroke="#8000ff" stroke-width="2.1"/><path d="M1476.4 352.04H1489.2M1482.8 345.64V358.44" stroke="#8000ff" stroke-width="2.1"/><circle cx="1495.29" cy="339.94" r="6.4" fill="#fff" stroke="#8000ff" stroke-width="2.1"/><path d="M1488.89 339.94H1501.69M1495.29 333.54V346.34" stroke="#8000ff" stroke-width="2.1"/><circle cx="1507.78" cy="322.96" r="6.4" fill="#fff" stroke="#8000ff" stroke-width="2.1"/><path d="M1501.38 322.96H1514.18M1507.78 316.56V329.36" stroke="#8000ff" stroke-width="2.1"/><circle cx="1520.28" cy="303.19" r="6.4" fill="#fff" stroke="#8000ff" stroke-width="2.1"/><path d="M1513.88 303.19H1526.68M1520.28 296.79V309.59" stroke="#8000ff" stroke-width="2.1"/><circle cx="1532.77" cy="278.14" r="6.4" fill="#fff" stroke="#8000ff" stroke-width="2.1"/><path d="M1526.37 278.14H1539.17M1532.77 271.74V284.54" stroke="#8000ff" stroke-width="2.1"/><circle cx="1545.27" cy="251.24" r="6.4" fill="#fff" stroke="#8000ff" stroke-width="2.1"/><path d="M1538.87 251.24H1551.67M1545.27 244.84V257.64" stroke="#8000ff" stroke-width="2.1"/><circle cx="1557.76" cy="224.33" r="6.4" fill="#fff" stroke="#8000ff" stroke-width="2.1"/><path d="M1551.36 224.33H1564.16M1557.76 217.93V230.73" stroke="#8000ff" stroke-width="2.1"/><circle cx="1570.25" cy="196.73" r="6.4" fill="#fff" stroke="#8000ff" stroke-width="2.1"/><path d="M1563.85 196.73H1576.65M1570.25 190.33V203.13" stroke="#8000ff" stroke-width="2.1"/><circle cx="1582.75" cy="171.68" r="6.4" fill="#fff" stroke="#8000ff" stroke-width="2.1"/><path d="M1576.35 171.68H1589.15M1582.75 165.28V178.08" stroke="#8000ff" stroke-width="2.1"/><circle cx="1595.24" cy="151.99" r="6.4" fill="#fff" stroke="#8000ff" stroke-width="2.1"/><path d="M1588.84 151.99H1601.64M1595.24 145.59V158.39" stroke="#8000ff" stroke-width="2.1"/><circle cx="1607.74" cy="138.81" r="6.4" fill="#fff" stroke="#8000ff" stroke-width="2.1"/><path d="M1601.34 138.81H1614.14M1607.74 132.41V145.21" stroke="#8000ff" stroke-width="2.1"/><circle cx="1620.23" cy="131.83" r="6.4" fill="#fff" stroke="#8000ff" stroke-width="2.1"/><path d="M1613.83 131.83H1626.63M1620.23 125.43V138.23" stroke="#8000ff" stroke-width="2.1"/><circle cx="1632.72" cy="131.83" r="6.4" fill="#fff" stroke="#8000ff" stroke-width="2.1"/><path d="M1626.32 131.83H1639.12M1632.72 125.43V138.23" stroke="#8000ff" stroke-width="2.1"/><circle cx="1645.22" cy="142.92" r="6.4" fill="#fff" stroke="#8000ff" stroke-width="2.1"/><path d="M1638.82 142.92H1651.62M1645.22 136.52V149.32" stroke="#8000ff" stroke-width="2.1"/><circle cx="1657.71" cy="160.52" r="6.4" fill="#fff" stroke="#8000ff" stroke-width="2.1"/><path d="M1651.31 160.52H1664.11M1657.71 154.12V166.92" stroke="#8000ff" stroke-width="2.1"/><circle cx="1670.21" cy="179.28" r="6.4" fill="#fff" stroke="#8000ff" stroke-width="2.1"/><path d="M1663.81 179.28H1676.61M1670.21 172.88V185.68" stroke="#8000ff" stroke-width="2.1"/><circle cx="1682.7" cy="202.39" r="6.4" fill="#fff" stroke="#8000ff" stroke-width="2.1"/><path d="M1676.3 202.39H1689.1M1682.7 195.99V208.79" stroke="#8000ff" stroke-width="2.1"/></g><g clip-path="url(#cb)"><path d="M1058 385.38L1070.49 385.38L1082.99 385.38L1095.48 385.37L1107.98 385.37L1120.47 385.36L1132.96 385.35L1145.46 385.34L1157.95 385.32L1170.45 385.31L1182.94 385.28L1195.43 385.26L1207.93 385.23L1220.42 385.2L1232.92 385.17L1245.41 385.13L1257.9 385.09L1270.4 385.04L1282.89 384.99L1295.39 384.72L1307.88 384.22L1320.37 383.44L1332.87 380.18L1345.36 377.39L1357.86 374.06L1370.35 369.64L1382.84 364.75L1395.34 359.25L1407.83 349.25L1420.33 336.06L1432.82 319.78L1445.31 305.28L1457.81 285.97L1470.3 266.05L1482.8 245.65L1495.29 226.73L1507.78 212.78L1520.28 195.87L1532.77 185.48L1545.27 179.13L1557.76 174.09L1570.25 174.09L1582.75 178.74L1595.24 186.57L1607.74 202.23L1620.23 220.22L1632.72 236.66L1645.22 250.77L1657.71 273.34L1670.21 292.18L1682.7 304.66" fill="none" stroke="#ff0080" stroke-width="3.9" stroke-linejoin="round"/><rect x="1052.2" y="379.58" width="11.6" height="11.6" fill="#fff" stroke="#ff0080" stroke-width="2.3"/><path d="M1052.2 385.38H1063.8M1058 379.58V391.18" stroke="#ff0080" stroke-width="2.3"/><rect x="1064.69" y="379.58" width="11.6" height="11.6" fill="#fff" stroke="#ff0080" stroke-width="2.3"/><path d="M1064.69 385.38H1076.29M1070.49 379.58V391.18" stroke="#ff0080" stroke-width="2.3"/><rect x="1077.19" y="379.58" width="11.6" height="11.6" fill="#fff" stroke="#ff0080" stroke-width="2.3"/><path d="M1077.19 385.38H1088.79M1082.99 379.58V391.18" stroke="#ff0080" stroke-width="2.3"/><rect x="1089.68" y="379.57" width="11.6" height="11.6" fill="#fff" stroke="#ff0080" stroke-width="2.3"/><path d="M1089.68 385.37H1101.28M1095.48 379.57V391.17" stroke="#ff0080" stroke-width="2.3"/><rect x="1102.18" y="379.57" width="11.6" height="11.6" fill="#fff" stroke="#ff0080" stroke-width="2.3"/><path d="M1102.18 385.37H1113.78M1107.98 379.57V391.17" stroke="#ff0080" stroke-width="2.3"/><rect x="1114.67" y="379.56" width="11.6" height="11.6" fill="#fff" stroke="#ff0080" stroke-width="2.3"/><path d="M1114.67 385.36H1126.27M1120.47 379.56V391.16" stroke="#ff0080" stroke-width="2.3"/><rect x="1127.16" y="379.55" width="11.6" height="11.6" fill="#fff" stroke="#ff0080" stroke-width="2.3"/><path d="M1127.16 385.35H1138.76M1132.96 379.55V391.15" stroke="#ff0080" stroke-width="2.3"/><rect x="1139.66" y="379.54" width="11.6" height="11.6" fill="#fff" stroke="#ff0080" stroke-width="2.3"/><path d="M1139.66 385.34H1151.26M1145.46 379.54V391.14" stroke="#ff0080" stroke-width="2.3"/><rect x="1152.15" y="379.52" width="11.6" height="11.6" fill="#fff" stroke="#ff0080" stroke-width="2.3"/><path d="M1152.15 385.32H1163.75M1157.95 379.52V391.12" stroke="#ff0080" stroke-width="2.3"/><rect x="1164.65" y="379.51" width="11.6" height="11.6" fill="#fff" stroke="#ff0080" stroke-width="2.3"/><path d="M1164.65 385.31H1176.25M1170.45 379.51V391.11" stroke="#ff0080" stroke-width="2.3"/><rect x="1177.14" y="379.48" width="11.6" height="11.6" fill="#fff" stroke="#ff0080" stroke-width="2.3"/><path d="M1177.14 385.28H1188.74M1182.94 379.48V391.08" stroke="#ff0080" stroke-width="2.3"/><rect x="1189.63" y="379.46" width="11.6" height="11.6" fill="#fff" stroke="#ff0080" stroke-width="2.3"/><path d="M1189.63 385.26H1201.23M1195.43 379.46V391.06" stroke="#ff0080" stroke-width="2.3"/><rect x="1202.13" y="379.43" width="11.6" height="11.6" fill="#fff" stroke="#ff0080" stroke-width="2.3"/><path d="M1202.13 385.23H1213.73M1207.93 379.43V391.03" stroke="#ff0080" stroke-width="2.3"/><rect x="1214.62" y="379.4" width="11.6" height="11.6" fill="#fff" stroke="#ff0080" stroke-width="2.3"/><path d="M1214.62 385.2H1226.22M1220.42 379.4V391" stroke="#ff0080" stroke-width="2.3"/><rect x="1227.12" y="379.37" width="11.6" height="11.6" fill="#fff" stroke="#ff0080" stroke-width="2.3"/><path d="M1227.12 385.17H1238.72M1232.92 379.37V390.97" stroke="#ff0080" stroke-width="2.3"/><rect x="1239.61" y="379.33" width="11.6" height="11.6" fill="#fff" stroke="#ff0080" stroke-width="2.3"/><path d="M1239.61 385.13H1251.21M1245.41 379.33V390.93" stroke="#ff0080" stroke-width="2.3"/><rect x="1252.1" y="379.29" width="11.6" height="11.6" fill="#fff" stroke="#ff0080" stroke-width="2.3"/><path d="M1252.1 385.09H1263.7M1257.9 379.29V390.89" stroke="#ff0080" stroke-width="2.3"/><rect x="1264.6" y="379.24" width="11.6" height="11.6" fill="#fff" stroke="#ff0080" stroke-width="2.3"/><path d="M1264.6 385.04H1276.2M1270.4 379.24V390.84" stroke="#ff0080" stroke-width="2.3"/><rect x="1277.09" y="379.19" width="11.6" height="11.6" fill="#fff" stroke="#ff0080" stroke-width="2.3"/><path d="M1277.09 384.99H1288.69M1282.89 379.19V390.79" stroke="#ff0080" stroke-width="2.3"/><rect x="1289.59" y="378.92" width="11.6" height="11.6" fill="#fff" stroke="#ff0080" stroke-width="2.3"/><path d="M1289.59 384.72H1301.19M1295.39 378.92V390.52" stroke="#ff0080" stroke-width="2.3"/><rect x="1302.08" y="378.42" width="11.6" height="11.6" fill="#fff" stroke="#ff0080" stroke-width="2.3"/><path d="M1302.08 384.22H1313.68M1307.88 378.42V390.02" stroke="#ff0080" stroke-width="2.3"/><rect x="1314.57" y="377.64" width="11.6" height="11.6" fill="#fff" stroke="#ff0080" stroke-width="2.3"/><path d="M1314.57 383.44H1326.17M1320.37 377.64V389.24" stroke="#ff0080" stroke-width="2.3"/><rect x="1327.07" y="374.38" width="11.6" height="11.6" fill="#fff" stroke="#ff0080" stroke-width="2.3"/><path d="M1327.07 380.18H1338.67M1332.87 374.38V385.98" stroke="#ff0080" stroke-width="2.3"/><rect x="1339.56" y="371.59" width="11.6" height="11.6" fill="#fff" stroke="#ff0080" stroke-width="2.3"/><path d="M1339.56 377.39H1351.16M1345.36 371.59V383.19" stroke="#ff0080" stroke-width="2.3"/><rect x="1352.06" y="368.26" width="11.6" height="11.6" fill="#fff" stroke="#ff0080" stroke-width="2.3"/><path d="M1352.06 374.06H1363.66M1357.86 368.26V379.86" stroke="#ff0080" stroke-width="2.3"/><rect x="1364.55" y="363.84" width="11.6" height="11.6" fill="#fff" stroke="#ff0080" stroke-width="2.3"/><path d="M1364.55 369.64H1376.15M1370.35 363.84V375.44" stroke="#ff0080" stroke-width="2.3"/><rect x="1377.04" y="358.95" width="11.6" height="11.6" fill="#fff" stroke="#ff0080" stroke-width="2.3"/><path d="M1377.04 364.75H1388.64M1382.84 358.95V370.55" stroke="#ff0080" stroke-width="2.3"/><rect x="1389.54" y="353.45" width="11.6" height="11.6" fill="#fff" stroke="#ff0080" stroke-width="2.3"/><path d="M1389.54 359.25H1401.14M1395.34 353.45V365.05" stroke="#ff0080" stroke-width="2.3"/><rect x="1402.03" y="343.45" width="11.6" height="11.6" fill="#fff" stroke="#ff0080" stroke-width="2.3"/><path d="M1402.03 349.25H1413.63M1407.83 343.45V355.05" stroke="#ff0080" stroke-width="2.3"/><rect x="1414.53" y="330.26" width="11.6" height="11.6" fill="#fff" stroke="#ff0080" stroke-width="2.3"/><path d="M1414.53 336.06H1426.13M1420.33 330.26V341.86" stroke="#ff0080" stroke-width="2.3"/><rect x="1427.02" y="313.98" width="11.6" height="11.6" fill="#fff" stroke="#ff0080" stroke-width="2.3"/><path d="M1427.02 319.78H1438.62M1432.82 313.98V325.58" stroke="#ff0080" stroke-width="2.3"/><rect x="1439.51" y="299.48" width="11.6" height="11.6" fill="#fff" stroke="#ff0080" stroke-width="2.3"/><path d="M1439.51 305.28H1451.11M1445.31 299.48V311.08" stroke="#ff0080" stroke-width="2.3"/><rect x="1452.01" y="280.17" width="11.6" height="11.6" fill="#fff" stroke="#ff0080" stroke-width="2.3"/><path d="M1452.01 285.97H1463.61M1457.81 280.17V291.77" stroke="#ff0080" stroke-width="2.3"/><rect x="1464.5" y="260.25" width="11.6" height="11.6" fill="#fff" stroke="#ff0080" stroke-width="2.3"/><path d="M1464.5 266.05H1476.1M1470.3 260.25V271.85" stroke="#ff0080" stroke-width="2.3"/><rect x="1477" y="239.85" width="11.6" height="11.6" fill="#fff" stroke="#ff0080" stroke-width="2.3"/><path d="M1477 245.65H1488.6M1482.8 239.85V251.45" stroke="#ff0080" stroke-width="2.3"/><rect x="1489.49" y="220.93" width="11.6" height="11.6" fill="#fff" stroke="#ff0080" stroke-width="2.3"/><path d="M1489.49 226.73H1501.09M1495.29 220.93V232.53" stroke="#ff0080" stroke-width="2.3"/><rect x="1501.98" y="206.98" width="11.6" height="11.6" fill="#fff" stroke="#ff0080" stroke-width="2.3"/><path d="M1501.98 212.78H1513.58M1507.78 206.98V218.58" stroke="#ff0080" stroke-width="2.3"/><rect x="1514.48" y="190.07" width="11.6" height="11.6" fill="#fff" stroke="#ff0080" stroke-width="2.3"/><path d="M1514.48 195.87H1526.08M1520.28 190.07V201.67" stroke="#ff0080" stroke-width="2.3"/><rect x="1526.97" y="179.68" width="11.6" height="11.6" fill="#fff" stroke="#ff0080" stroke-width="2.3"/><path d="M1526.97 185.48H1538.57M1532.77 179.68V191.28" stroke="#ff0080" stroke-width="2.3"/><rect x="1539.47" y="173.33" width="11.6" height="11.6" fill="#fff" stroke="#ff0080" stroke-width="2.3"/><path d="M1539.47 179.13H1551.07M1545.27 173.33V184.93" stroke="#ff0080" stroke-width="2.3"/><rect x="1551.96" y="168.29" width="11.6" height="11.6" fill="#fff" stroke="#ff0080" stroke-width="2.3"/><path d="M1551.96 174.09H1563.56M1557.76 168.29V179.89" stroke="#ff0080" stroke-width="2.3"/><rect x="1564.45" y="168.29" width="11.6" height="11.6" fill="#fff" stroke="#ff0080" stroke-width="2.3"/><path d="M1564.45 174.09H1576.05M1570.25 168.29V179.89" stroke="#ff0080" stroke-width="2.3"/><rect x="1576.95" y="172.94" width="11.6" height="11.6" fill="#fff" stroke="#ff0080" stroke-width="2.3"/><path d="M1576.95 178.74H1588.55M1582.75 172.94V184.54" stroke="#ff0080" stroke-width="2.3"/><rect x="1589.44" y="180.77" width="11.6" height="11.6" fill="#fff" stroke="#ff0080" stroke-width="2.3"/><path d="M1589.44 186.57H1601.04M1595.24 180.77V192.37" stroke="#ff0080" stroke-width="2.3"/><rect x="1601.94" y="196.43" width="11.6" height="11.6" fill="#fff" stroke="#ff0080" stroke-width="2.3"/><path d="M1601.94 202.23H1613.54M1607.74 196.43V208.03" stroke="#ff0080" stroke-width="2.3"/><rect x="1614.43" y="214.42" width="11.6" height="11.6" fill="#fff" stroke="#ff0080" stroke-width="2.3"/><path d="M1614.43 220.22H1626.03M1620.23 214.42V226.02" stroke="#ff0080" stroke-width="2.3"/><rect x="1626.92" y="230.86" width="11.6" height="11.6" fill="#fff" stroke="#ff0080" stroke-width="2.3"/><path d="M1626.92 236.66H1638.52M1632.72 230.86V242.46" stroke="#ff0080" stroke-width="2.3"/><rect x="1639.42" y="244.97" width="11.6" height="11.6" fill="#fff" stroke="#ff0080" stroke-width="2.3"/><path d="M1639.42 250.77H1651.02M1645.22 244.97V256.57" stroke="#ff0080" stroke-width="2.3"/><rect x="1651.91" y="267.54" width="11.6" height="11.6" fill="#fff" stroke="#ff0080" stroke-width="2.3"/><path d="M1651.91 273.34H1663.51M1657.71 267.54V279.14" stroke="#ff0080" stroke-width="2.3"/><rect x="1664.41" y="286.38" width="11.6" height="11.6" fill="#fff" stroke="#ff0080" stroke-width="2.3"/><path d="M1664.41 292.18H1676.01M1670.21 286.38V297.98" stroke="#ff0080" stroke-width="2.3"/><rect x="1676.9" y="298.86" width="11.6" height="11.6" fill="#fff" stroke="#ff0080" stroke-width="2.3"/><path d="M1676.9 304.66H1688.5M1682.7 298.86V310.46" stroke="#ff0080" stroke-width="2.3"/></g><g clip-path="url(#cb)"><path d="M1058 382.28L1070.49 382.27L1082.99 382.27L1095.48 382.25L1107.98 382.23L1120.47 382.2L1132.96 382.16L1145.46 382.11L1157.95 382.06L1170.45 381.99L1182.94 381.92L1195.43 381.83L1207.93 381.73L1220.42 381.62L1232.92 381.5L1245.41 381.09L1257.9 380.34L1270.4 379.18L1282.89 377.62L1295.39 375.76L1307.88 372.43L1320.37 369.17L1332.87 365.22L1345.36 359.25L1357.86 351.49L1370.35 342.19L1382.84 329.47L1395.34 314.97L1407.83 299.31L1420.33 283.34L1432.82 266.59L1445.31 249.69L1457.81 235.65L1470.3 222.78L1482.8 211.77L1495.29 203.86L1507.78 200.37L1520.28 199.36L1532.77 201.3L1545.27 204.71L1557.76 210.14L1570.25 217.82L1582.75 233.56L1595.24 249.14L1607.74 264.73L1620.23 279.69L1632.72 294.43L1645.22 312.03L1657.71 327.22L1670.21 342.27L1682.7 349.48" fill="none" stroke="#008080" stroke-width="4" stroke-linejoin="round"/><path d="M1049 382.28L1067 382.28M1051.64 375.91L1064.36 388.64M1058 373.28L1058 391.28M1064.36 375.91L1051.64 388.64" stroke="#008080" stroke-width="1.6" stroke-linecap="butt"/><path d="M1061.49 382.27L1079.49 382.27M1064.13 375.91L1076.86 388.64M1070.49 373.27L1070.49 391.27M1076.86 375.91L1064.13 388.64" stroke="#008080" stroke-width="1.6" stroke-linecap="butt"/><path d="M1073.99 382.27L1091.99 382.27M1076.62 375.9L1089.35 388.63M1082.99 373.27L1082.99 391.27M1089.35 375.9L1076.62 388.63" stroke="#008080" stroke-width="1.6" stroke-linecap="butt"/><path d="M1086.48 382.25L1104.48 382.25M1089.12 375.89L1101.85 388.61M1095.48 373.25L1095.48 391.25M1101.85 375.89L1089.12 388.61" stroke="#008080" stroke-width="1.6" stroke-linecap="butt"/><path d="M1098.98 382.23L1116.98 382.23M1101.61 375.86L1114.34 388.59M1107.98 373.23L1107.98 391.23M1114.34 375.86L1101.61 388.59" stroke="#008080" stroke-width="1.6" stroke-linecap="butt"/><path d="M1111.47 382.2L1129.47 382.2M1114.11 375.83L1126.83 388.56M1120.47 373.2L1120.47 391.2M1126.83 375.83L1114.11 388.56" stroke="#008080" stroke-width="1.6" stroke-linecap="butt"/><path d="M1123.96 382.16L1141.96 382.16M1126.6 375.8L1139.33 388.52M1132.96 373.16L1132.96 391.16M1139.33 375.8L1126.6 388.52" stroke="#008080" stroke-width="1.6" stroke-linecap="butt"/><path d="M1136.46 382.11L1154.46 382.11M1139.09 375.75L1151.82 388.48M1145.46 373.11L1145.46 391.11M1151.82 375.75L1139.09 388.48" stroke="#008080" stroke-width="1.6" stroke-linecap="butt"/><path d="M1148.95 382.06L1166.95 382.06M1151.59 375.69L1164.32 388.42M1157.95 373.06L1157.95 391.06M1164.32 375.69L1151.59 388.42" stroke="#008080" stroke-width="1.6" stroke-linecap="butt"/><path d="M1161.45 381.99L1179.45 381.99M1164.08 375.63L1176.81 388.35M1170.45 372.99L1170.45 390.99M1176.81 375.63L1164.08 388.35" stroke="#008080" stroke-width="1.6" stroke-linecap="butt"/><path d="M1173.94 381.92L1191.94 381.92M1176.58 375.55L1189.3 388.28M1182.94 372.92L1182.94 390.92M1189.3 375.55L1176.58 388.28" stroke="#008080" stroke-width="1.6" stroke-linecap="butt"/><path d="M1186.43 381.83L1204.43 381.83M1189.07 375.47L1201.8 388.19M1195.43 372.83L1195.43 390.83M1201.8 375.47L1189.07 388.19" stroke="#008080" stroke-width="1.6" stroke-linecap="butt"/><path d="M1198.93 381.73L1216.93 381.73M1201.56 375.37L1214.29 388.1M1207.93 372.73L1207.93 390.73M1214.29 375.37L1201.56 388.1" stroke="#008080" stroke-width="1.6" stroke-linecap="butt"/><path d="M1211.42 381.62L1229.42 381.62M1214.06 375.26L1226.79 387.99M1220.42 372.62L1220.42 390.62M1226.79 375.26L1214.06 387.99" stroke="#008080" stroke-width="1.6" stroke-linecap="butt"/><path d="M1223.92 381.5L1241.92 381.5M1226.55 375.14L1239.28 387.87M1232.92 372.5L1232.92 390.5M1239.28 375.14L1226.55 387.87" stroke="#008080" stroke-width="1.6" stroke-linecap="butt"/><path d="M1236.41 381.09L1254.41 381.09M1239.05 374.73L1251.77 387.45M1245.41 372.09L1245.41 390.09M1251.77 374.73L1239.05 387.45" stroke="#008080" stroke-width="1.6" stroke-linecap="butt"/><path d="M1248.9 380.34L1266.9 380.34M1251.54 373.97L1264.27 386.7M1257.9 371.34L1257.9 389.34M1264.27 373.97L1251.54 386.7" stroke="#008080" stroke-width="1.6" stroke-linecap="butt"/><path d="M1261.4 379.18L1279.4 379.18M1264.03 372.81L1276.76 385.54M1270.4 370.18L1270.4 388.18M1276.76 372.81L1264.03 385.54" stroke="#008080" stroke-width="1.6" stroke-linecap="butt"/><path d="M1273.89 377.62L1291.89 377.62M1276.53 371.26L1289.26 383.99M1282.89 368.62L1282.89 386.62M1289.26 371.26L1276.53 383.99" stroke="#008080" stroke-width="1.6" stroke-linecap="butt"/><path d="M1286.39 375.76L1304.39 375.76M1289.02 369.4L1301.75 382.13M1295.39 366.76L1295.39 384.76M1301.75 369.4L1289.02 382.13" stroke="#008080" stroke-width="1.6" stroke-linecap="butt"/><path d="M1298.88 372.43L1316.88 372.43M1301.52 366.07L1314.24 378.79M1307.88 363.43L1307.88 381.43M1314.24 366.07L1301.52 378.79" stroke="#008080" stroke-width="1.6" stroke-linecap="butt"/><path d="M1311.37 369.17L1329.37 369.17M1314.01 362.81L1326.74 375.54M1320.37 360.17L1320.37 378.17M1326.74 362.81L1314.01 375.54" stroke="#008080" stroke-width="1.6" stroke-linecap="butt"/><path d="M1323.87 365.22L1341.87 365.22M1326.5 358.85L1339.23 371.58M1332.87 356.22L1332.87 374.22M1339.23 358.85L1326.5 371.58" stroke="#008080" stroke-width="1.6" stroke-linecap="butt"/><path d="M1336.36 359.25L1354.36 359.25M1339 352.88L1351.73 365.61M1345.36 350.25L1345.36 368.25M1351.73 352.88L1339 365.61" stroke="#008080" stroke-width="1.6" stroke-linecap="butt"/><path d="M1348.86 351.49L1366.86 351.49M1351.49 345.13L1364.22 357.86M1357.86 342.49L1357.86 360.49M1364.22 345.13L1351.49 357.86" stroke="#008080" stroke-width="1.6" stroke-linecap="butt"/><path d="M1361.35 342.19L1379.35 342.19M1363.99 335.83L1376.71 348.55M1370.35 333.19L1370.35 351.19M1376.71 335.83L1363.99 348.55" stroke="#008080" stroke-width="1.6" stroke-linecap="butt"/><path d="M1373.84 329.47L1391.84 329.47M1376.48 323.11L1389.21 335.84M1382.84 320.47L1382.84 338.47M1389.21 323.11L1376.48 335.84" stroke="#008080" stroke-width="1.6" stroke-linecap="butt"/><path d="M1386.34 314.97L1404.34 314.97M1388.97 308.61L1401.7 321.34M1395.34 305.97L1395.34 323.97M1401.7 308.61L1388.97 321.34" stroke="#008080" stroke-width="1.6" stroke-linecap="butt"/><path d="M1398.83 299.31L1416.83 299.31M1401.47 292.95L1414.2 305.67M1407.83 290.31L1407.83 308.31M1414.2 292.95L1401.47 305.67" stroke="#008080" stroke-width="1.6" stroke-linecap="butt"/><path d="M1411.33 283.34L1429.33 283.34M1413.96 276.97L1426.69 289.7M1420.33 274.34L1420.33 292.34M1426.69 276.97L1413.96 289.7" stroke="#008080" stroke-width="1.6" stroke-linecap="butt"/><path d="M1423.82 266.59L1441.82 266.59M1426.46 260.23L1439.18 272.95M1432.82 257.59L1432.82 275.59M1439.18 260.23L1426.46 272.95" stroke="#008080" stroke-width="1.6" stroke-linecap="butt"/><path d="M1436.31 249.69L1454.31 249.69M1438.95 243.32L1451.68 256.05M1445.31 240.69L1445.31 258.69M1451.68 243.32L1438.95 256.05" stroke="#008080" stroke-width="1.6" stroke-linecap="butt"/><path d="M1448.81 235.65L1466.81 235.65M1451.44 229.29L1464.17 242.02M1457.81 226.65L1457.81 244.65M1464.17 229.29L1451.44 242.02" stroke="#008080" stroke-width="1.6" stroke-linecap="butt"/><path d="M1461.3 222.78L1479.3 222.78M1463.94 216.42L1476.67 229.14M1470.3 213.78L1470.3 231.78M1476.67 216.42L1463.94 229.14" stroke="#008080" stroke-width="1.6" stroke-linecap="butt"/><path d="M1473.8 211.77L1491.8 211.77M1476.43 205.41L1489.16 218.13M1482.8 202.77L1482.8 220.77M1489.16 205.41L1476.43 218.13" stroke="#008080" stroke-width="1.6" stroke-linecap="butt"/><path d="M1486.29 203.86L1504.29 203.86M1488.93 197.5L1501.65 210.22M1495.29 194.86L1495.29 212.86M1501.65 197.5L1488.93 210.22" stroke="#008080" stroke-width="1.6" stroke-linecap="butt"/><path d="M1498.78 200.37L1516.78 200.37M1501.42 194.01L1514.15 206.74M1507.78 191.37L1507.78 209.37M1514.15 194.01L1501.42 206.74" stroke="#008080" stroke-width="1.6" stroke-linecap="butt"/><path d="M1511.28 199.36L1529.28 199.36M1513.91 193L1526.64 205.73M1520.28 190.36L1520.28 208.36M1526.64 193L1513.91 205.73" stroke="#008080" stroke-width="1.6" stroke-linecap="butt"/><path d="M1523.77 201.3L1541.77 201.3M1526.41 194.94L1539.14 207.67M1532.77 192.3L1532.77 210.3M1539.14 194.94L1526.41 207.67" stroke="#008080" stroke-width="1.6" stroke-linecap="butt"/><path d="M1536.27 204.71L1554.27 204.71M1538.9 198.35L1551.63 211.08M1545.27 195.71L1545.27 213.71M1551.63 198.35L1538.9 211.08" stroke="#008080" stroke-width="1.6" stroke-linecap="butt"/><path d="M1548.76 210.14L1566.76 210.14M1551.4 203.78L1564.12 216.51M1557.76 201.14L1557.76 219.14M1564.12 203.78L1551.4 216.51" stroke="#008080" stroke-width="1.6" stroke-linecap="butt"/><path d="M1561.25 217.82L1579.25 217.82M1563.89 211.45L1576.62 224.18M1570.25 208.82L1570.25 226.82M1576.62 211.45L1563.89 224.18" stroke="#008080" stroke-width="1.6" stroke-linecap="butt"/><path d="M1573.75 233.56L1591.75 233.56M1576.38 227.19L1589.11 239.92M1582.75 224.56L1582.75 242.56M1589.11 227.19L1576.38 239.92" stroke="#008080" stroke-width="1.6" stroke-linecap="butt"/><path d="M1586.24 249.14L1604.24 249.14M1588.88 242.78L1601.61 255.51M1595.24 240.14L1595.24 258.14M1601.61 242.78L1588.88 255.51" stroke="#008080" stroke-width="1.6" stroke-linecap="butt"/><path d="M1598.74 264.73L1616.74 264.73M1601.37 258.36L1614.1 271.09M1607.74 255.73L1607.74 273.73M1614.1 258.36L1601.37 271.09" stroke="#008080" stroke-width="1.6" stroke-linecap="butt"/><path d="M1611.23 279.69L1629.23 279.69M1613.87 273.33L1626.59 286.06M1620.23 270.69L1620.23 288.69M1626.59 273.33L1613.87 286.06" stroke="#008080" stroke-width="1.6" stroke-linecap="butt"/><path d="M1623.72 294.43L1641.72 294.43M1626.36 288.06L1639.09 300.79M1632.72 285.43L1632.72 303.43M1639.09 288.06L1626.36 300.79" stroke="#008080" stroke-width="1.6" stroke-linecap="butt"/><path d="M1636.22 312.03L1654.22 312.03M1638.85 305.66L1651.58 318.39M1645.22 303.03L1645.22 321.03M1651.58 305.66L1638.85 318.39" stroke="#008080" stroke-width="1.6" stroke-linecap="butt"/><path d="M1648.71 327.22L1666.71 327.22M1651.35 320.86L1664.08 333.59M1657.71 318.22L1657.71 336.22M1664.08 320.86L1651.35 333.59" stroke="#008080" stroke-width="1.6" stroke-linecap="butt"/><path d="M1661.21 342.27L1679.21 342.27M1663.84 335.9L1676.57 348.63M1670.21 333.27L1670.21 351.27M1676.57 335.9L1663.84 348.63" stroke="#008080" stroke-width="1.6" stroke-linecap="butt"/><path d="M1673.7 349.48L1691.7 349.48M1676.34 343.11L1689.06 355.84M1682.7 340.48L1682.7 358.48M1689.06 343.11L1676.34 355.84" stroke="#008080" stroke-width="1.6" stroke-linecap="butt"/></g><g clip-path="url(#cb)"><path d="M1058 565.6L1070.49 565.6L1082.99 565.6L1095.48 565.6L1107.98 565.6L1120.47 565.6L1132.96 565.6L1145.46 565.6L1157.95 565.6L1170.45 565.6L1182.94 565.6L1195.43 565.6L1207.93 565.6L1220.42 565.6L1232.92 565.6L1245.41 565.6L1257.9 565.6L1270.4 565.6L1282.89 565.6L1295.39 565.6L1307.88 565.6L1320.37 565.6L1332.87 565.6L1345.36 565.6L1357.86 565.6L1370.35 565.6L1382.84 565.6L1395.34 565.6L1407.83 565.6L1420.33 565.6L1432.82 565.6L1445.31 565.6L1457.81 565.6L1470.3 565.6L1482.8 565.6L1495.29 565.02L1507.78 564.16L1520.28 562.14L1532.77 557.54L1545.27 548.9L1557.76 533.92L1570.25 508L1582.75 476.9L1595.24 436.86L1607.74 390.78L1620.23 340.67L1632.72 292.86L1645.22 256.86L1657.71 235.26L1670.21 225.76L1682.7 250.82" fill="none" stroke="#8000ff" stroke-width="3.9" stroke-linejoin="round"/><circle cx="1058" cy="565.6" r="6.4" fill="#fff" stroke="#8000ff" stroke-width="2.1"/><path d="M1051.6 565.6H1064.4M1058 559.2V572" stroke="#8000ff" stroke-width="2.1"/><circle cx="1070.49" cy="565.6" r="6.4" fill="#fff" stroke="#8000ff" stroke-width="2.1"/><path d="M1064.09 565.6H1076.89M1070.49 559.2V572" stroke="#8000ff" stroke-width="2.1"/><circle cx="1082.99" cy="565.6" r="6.4" fill="#fff" stroke="#8000ff" stroke-width="2.1"/><path d="M1076.59 565.6H1089.39M1082.99 559.2V572" stroke="#8000ff" stroke-width="2.1"/><circle cx="1095.48" cy="565.6" r="6.4" fill="#fff" stroke="#8000ff" stroke-width="2.1"/><path d="M1089.08 565.6H1101.88M1095.48 559.2V572" stroke="#8000ff" stroke-width="2.1"/><circle cx="1107.98" cy="565.6" r="6.4" fill="#fff" stroke="#8000ff" stroke-width="2.1"/><path d="M1101.58 565.6H1114.38M1107.98 559.2V572" stroke="#8000ff" stroke-width="2.1"/><circle cx="1120.47" cy="565.6" r="6.4" fill="#fff" stroke="#8000ff" stroke-width="2.1"/><path d="M1114.07 565.6H1126.87M1120.47 559.2V572" stroke="#8000ff" stroke-width="2.1"/><circle cx="1132.96" cy="565.6" r="6.4" fill="#fff" stroke="#8000ff" stroke-width="2.1"/><path d="M1126.56 565.6H1139.36M1132.96 559.2V572" stroke="#8000ff" stroke-width="2.1"/><circle cx="1145.46" cy="565.6" r="6.4" fill="#fff" stroke="#8000ff" stroke-width="2.1"/><path d="M1139.06 565.6H1151.86M1145.46 559.2V572" stroke="#8000ff" stroke-width="2.1"/><circle cx="1157.95" cy="565.6" r="6.4" fill="#fff" stroke="#8000ff" stroke-width="2.1"/><path d="M1151.55 565.6H1164.35M1157.95 559.2V572" stroke="#8000ff" stroke-width="2.1"/><circle cx="1170.45" cy="565.6" r="6.4" fill="#fff" stroke="#8000ff" stroke-width="2.1"/><path d="M1164.05 565.6H1176.85M1170.45 559.2V572" stroke="#8000ff" stroke-width="2.1"/><circle cx="1182.94" cy="565.6" r="6.4" fill="#fff" stroke="#8000ff" stroke-width="2.1"/><path d="M1176.54 565.6H1189.34M1182.94 559.2V572" stroke="#8000ff" stroke-width="2.1"/><circle cx="1195.43" cy="565.6" r="6.4" fill="#fff" stroke="#8000ff" stroke-width="2.1"/><path d="M1189.03 565.6H1201.83M1195.43 559.2V572" stroke="#8000ff" stroke-width="2.1"/><circle cx="1207.93" cy="565.6" r="6.4" fill="#fff" stroke="#8000ff" stroke-width="2.1"/><path d="M1201.53 565.6H1214.33M1207.93 559.2V572" stroke="#8000ff" stroke-width="2.1"/><circle cx="1220.42" cy="565.6" r="6.4" fill="#fff" stroke="#8000ff" stroke-width="2.1"/><path d="M1214.02 565.6H1226.82M1220.42 559.2V572" stroke="#8000ff" stroke-width="2.1"/><circle cx="1232.92" cy="565.6" r="6.4" fill="#fff" stroke="#8000ff" stroke-width="2.1"/><path d="M1226.52 565.6H1239.32M1232.92 559.2V572" stroke="#8000ff" stroke-width="2.1"/><circle cx="1245.41" cy="565.6" r="6.4" fill="#fff" stroke="#8000ff" stroke-width="2.1"/><path d="M1239.01 565.6H1251.81M1245.41 559.2V572" stroke="#8000ff" stroke-width="2.1"/><circle cx="1257.9" cy="565.6" r="6.4" fill="#fff" stroke="#8000ff" stroke-width="2.1"/><path d="M1251.5 565.6H1264.3M1257.9 559.2V572" stroke="#8000ff" stroke-width="2.1"/><circle cx="1270.4" cy="565.6" r="6.4" fill="#fff" stroke="#8000ff" stroke-width="2.1"/><path d="M1264 565.6H1276.8M1270.4 559.2V572" stroke="#8000ff" stroke-width="2.1"/><circle cx="1282.89" cy="565.6" r="6.4" fill="#fff" stroke="#8000ff" stroke-width="2.1"/><path d="M1276.49 565.6H1289.29M1282.89 559.2V572" stroke="#8000ff" stroke-width="2.1"/><circle cx="1295.39" cy="565.6" r="6.4" fill="#fff" stroke="#8000ff" stroke-width="2.1"/><path d="M1288.99 565.6H1301.79M1295.39 559.2V572" stroke="#8000ff" stroke-width="2.1"/><circle cx="1307.88" cy="565.6" r="6.4" fill="#fff" stroke="#8000ff" stroke-width="2.1"/><path d="M1301.48 565.6H1314.28M1307.88 559.2V572" stroke="#8000ff" stroke-width="2.1"/><circle cx="1320.37" cy="565.6" r="6.4" fill="#fff" stroke="#8000ff" stroke-width="2.1"/><path d="M1313.97 565.6H1326.77M1320.37 559.2V572" stroke="#8000ff" stroke-width="2.1"/><circle cx="1332.87" cy="565.6" r="6.4" fill="#fff" stroke="#8000ff" stroke-width="2.1"/><path d="M1326.47 565.6H1339.27M1332.87 559.2V572" stroke="#8000ff" stroke-width="2.1"/><circle cx="1345.36" cy="565.6" r="6.4" fill="#fff" stroke="#8000ff" stroke-width="2.1"/><path d="M1338.96 565.6H1351.76M1345.36 559.2V572" stroke="#8000ff" stroke-width="2.1"/><circle cx="1357.86" cy="565.6" r="6.4" fill="#fff" stroke="#8000ff" stroke-width="2.1"/><path d="M1351.46 565.6H1364.26M1357.86 559.2V572" stroke="#8000ff" stroke-width="2.1"/><circle cx="1370.35" cy="565.6" r="6.4" fill="#fff" stroke="#8000ff" stroke-width="2.1"/><path d="M1363.95 565.6H1376.75M1370.35 559.2V572" stroke="#8000ff" stroke-width="2.1"/><circle cx="1382.84" cy="565.6" r="6.4" fill="#fff" stroke="#8000ff" stroke-width="2.1"/><path d="M1376.44 565.6H1389.24M1382.84 559.2V572" stroke="#8000ff" stroke-width="2.1"/><circle cx="1395.34" cy="565.6" r="6.4" fill="#fff" stroke="#8000ff" stroke-width="2.1"/><path d="M1388.94 565.6H1401.74M1395.34 559.2V572" stroke="#8000ff" stroke-width="2.1"/><circle cx="1407.83" cy="565.6" r="6.4" fill="#fff" stroke="#8000ff" stroke-width="2.1"/><path d="M1401.43 565.6H1414.23M1407.83 559.2V572" stroke="#8000ff" stroke-width="2.1"/><circle cx="1420.33" cy="565.6" r="6.4" fill="#fff" stroke="#8000ff" stroke-width="2.1"/><path d="M1413.93 565.6H1426.73M1420.33 559.2V572" stroke="#8000ff" stroke-width="2.1"/><circle cx="1432.82" cy="565.6" r="6.4" fill="#fff" stroke="#8000ff" stroke-width="2.1"/><path d="M1426.42 565.6H1439.22M1432.82 559.2V572" stroke="#8000ff" stroke-width="2.1"/><circle cx="1445.31" cy="565.6" r="6.4" fill="#fff" stroke="#8000ff" stroke-width="2.1"/><path d="M1438.91 565.6H1451.71M1445.31 559.2V572" stroke="#8000ff" stroke-width="2.1"/><circle cx="1457.81" cy="565.6" r="6.4" fill="#fff" stroke="#8000ff" stroke-width="2.1"/><path d="M1451.41 565.6H1464.21M1457.81 559.2V572" stroke="#8000ff" stroke-width="2.1"/><circle cx="1470.3" cy="565.6" r="6.4" fill="#fff" stroke="#8000ff" stroke-width="2.1"/><path d="M1463.9 565.6H1476.7M1470.3 559.2V572" stroke="#8000ff" stroke-width="2.1"/><circle cx="1482.8" cy="565.6" r="6.4" fill="#fff" stroke="#8000ff" stroke-width="2.1"/><path d="M1476.4 565.6H1489.2M1482.8 559.2V572" stroke="#8000ff" stroke-width="2.1"/><circle cx="1495.29" cy="565.02" r="6.4" fill="#fff" stroke="#8000ff" stroke-width="2.1"/><path d="M1488.89 565.02H1501.69M1495.29 558.62V571.42" stroke="#8000ff" stroke-width="2.1"/><circle cx="1507.78" cy="564.16" r="6.4" fill="#fff" stroke="#8000ff" stroke-width="2.1"/><path d="M1501.38 564.16H1514.18M1507.78 557.76V570.56" stroke="#8000ff" stroke-width="2.1"/><circle cx="1520.28" cy="562.14" r="6.4" fill="#fff" stroke="#8000ff" stroke-width="2.1"/><path d="M1513.88 562.14H1526.68M1520.28 555.74V568.54" stroke="#8000ff" stroke-width="2.1"/><circle cx="1532.77" cy="557.54" r="6.4" fill="#fff" stroke="#8000ff" stroke-width="2.1"/><path d="M1526.37 557.54H1539.17M1532.77 551.14V563.94" stroke="#8000ff" stroke-width="2.1"/><circle cx="1545.27" cy="548.9" r="6.4" fill="#fff" stroke="#8000ff" stroke-width="2.1"/><path d="M1538.87 548.9H1551.67M1545.27 542.5V555.3" stroke="#8000ff" stroke-width="2.1"/><circle cx="1557.76" cy="533.92" r="6.4" fill="#fff" stroke="#8000ff" stroke-width="2.1"/><path d="M1551.36 533.92H1564.16M1557.76 527.52V540.32" stroke="#8000ff" stroke-width="2.1"/><circle cx="1570.25" cy="508" r="6.4" fill="#fff" stroke="#8000ff" stroke-width="2.1"/><path d="M1563.85 508H1576.65M1570.25 501.6V514.4" stroke="#8000ff" stroke-width="2.1"/><circle cx="1582.75" cy="476.9" r="6.4" fill="#fff" stroke="#8000ff" stroke-width="2.1"/><path d="M1576.35 476.9H1589.15M1582.75 470.5V483.3" stroke="#8000ff" stroke-width="2.1"/><circle cx="1595.24" cy="436.86" r="6.4" fill="#fff" stroke="#8000ff" stroke-width="2.1"/><path d="M1588.84 436.86H1601.64M1595.24 430.46V443.26" stroke="#8000ff" stroke-width="2.1"/><circle cx="1607.74" cy="390.78" r="6.4" fill="#fff" stroke="#8000ff" stroke-width="2.1"/><path d="M1601.34 390.78H1614.14M1607.74 384.38V397.18" stroke="#8000ff" stroke-width="2.1"/><circle cx="1620.23" cy="340.67" r="6.4" fill="#fff" stroke="#8000ff" stroke-width="2.1"/><path d="M1613.83 340.67H1626.63M1620.23 334.27V347.07" stroke="#8000ff" stroke-width="2.1"/><circle cx="1632.72" cy="292.86" r="6.4" fill="#fff" stroke="#8000ff" stroke-width="2.1"/><path d="M1626.32 292.86H1639.12M1632.72 286.46V299.26" stroke="#8000ff" stroke-width="2.1"/><circle cx="1645.22" cy="256.86" r="6.4" fill="#fff" stroke="#8000ff" stroke-width="2.1"/><path d="M1638.82 256.86H1651.62M1645.22 250.46V263.26" stroke="#8000ff" stroke-width="2.1"/><circle cx="1657.71" cy="235.26" r="6.4" fill="#fff" stroke="#8000ff" stroke-width="2.1"/><path d="M1651.31 235.26H1664.11M1657.71 228.86V241.66" stroke="#8000ff" stroke-width="2.1"/><circle cx="1670.21" cy="225.76" r="6.4" fill="#fff" stroke="#8000ff" stroke-width="2.1"/><path d="M1663.81 225.76H1676.61M1670.21 219.36V232.16" stroke="#8000ff" stroke-width="2.1"/><circle cx="1682.7" cy="250.82" r="6.4" fill="#fff" stroke="#8000ff" stroke-width="2.1"/><path d="M1676.3 250.82H1689.1M1682.7 244.42V257.22" stroke="#8000ff" stroke-width="2.1"/></g><g clip-path="url(#cb)"><path d="M1058 565.6L1070.49 565.6L1082.99 565.6L1095.48 565.6L1107.98 565.6L1120.47 565.6L1132.96 565.6L1145.46 565.6L1157.95 565.6L1170.45 565.6L1182.94 565.6L1195.43 565.6L1207.93 565.6L1220.42 565.6L1232.92 565.6L1245.41 565.6L1257.9 565.6L1270.4 565.6L1282.89 565.6L1295.39 565.6L1307.88 565.6L1320.37 565.6L1332.87 565.6L1345.36 565.6L1357.86 565.6L1370.35 565.6L1382.84 565.6L1395.34 565.6L1407.83 565.6L1420.33 565.6L1432.82 565.6L1445.31 565.6L1457.81 565.6L1470.3 565.6L1482.8 564.91L1495.29 563.3L1507.78 559.84L1520.28 552.64L1532.77 544.29L1545.27 534.21L1557.76 524.7L1570.25 511.46L1582.75 495.9L1595.24 482.66L1607.74 470.27L1620.23 461.92L1632.72 457.89L1645.22 457.89L1657.71 465.95L1670.21 476.32L1682.7 484.67" fill="none" stroke="#ff0080" stroke-width="3.9" stroke-linejoin="round"/><rect x="1052.2" y="559.8" width="11.6" height="11.6" fill="#fff" stroke="#ff0080" stroke-width="2.3"/><path d="M1052.2 565.6H1063.8M1058 559.8V571.4" stroke="#ff0080" stroke-width="2.3"/><rect x="1064.69" y="559.8" width="11.6" height="11.6" fill="#fff" stroke="#ff0080" stroke-width="2.3"/><path d="M1064.69 565.6H1076.29M1070.49 559.8V571.4" stroke="#ff0080" stroke-width="2.3"/><rect x="1077.19" y="559.8" width="11.6" height="11.6" fill="#fff" stroke="#ff0080" stroke-width="2.3"/><path d="M1077.19 565.6H1088.79M1082.99 559.8V571.4" stroke="#ff0080" stroke-width="2.3"/><rect x="1089.68" y="559.8" width="11.6" height="11.6" fill="#fff" stroke="#ff0080" stroke-width="2.3"/><path d="M1089.68 565.6H1101.28M1095.48 559.8V571.4" stroke="#ff0080" stroke-width="2.3"/><rect x="1102.18" y="559.8" width="11.6" height="11.6" fill="#fff" stroke="#ff0080" stroke-width="2.3"/><path d="M1102.18 565.6H1113.78M1107.98 559.8V571.4" stroke="#ff0080" stroke-width="2.3"/><rect x="1114.67" y="559.8" width="11.6" height="11.6" fill="#fff" stroke="#ff0080" stroke-width="2.3"/><path d="M1114.67 565.6H1126.27M1120.47 559.8V571.4" stroke="#ff0080" stroke-width="2.3"/><rect x="1127.16" y="559.8" width="11.6" height="11.6" fill="#fff" stroke="#ff0080" stroke-width="2.3"/><path d="M1127.16 565.6H1138.76M1132.96 559.8V571.4" stroke="#ff0080" stroke-width="2.3"/><rect x="1139.66" y="559.8" width="11.6" height="11.6" fill="#fff" stroke="#ff0080" stroke-width="2.3"/><path d="M1139.66 565.6H1151.26M1145.46 559.8V571.4" stroke="#ff0080" stroke-width="2.3"/><rect x="1152.15" y="559.8" width="11.6" height="11.6" fill="#fff" stroke="#ff0080" stroke-width="2.3"/><path d="M1152.15 565.6H1163.75M1157.95 559.8V571.4" stroke="#ff0080" stroke-width="2.3"/><rect x="1164.65" y="559.8" width="11.6" height="11.6" fill="#fff" stroke="#ff0080" stroke-width="2.3"/><path d="M1164.65 565.6H1176.25M1170.45 559.8V571.4" stroke="#ff0080" stroke-width="2.3"/><rect x="1177.14" y="559.8" width="11.6" height="11.6" fill="#fff" stroke="#ff0080" stroke-width="2.3"/><path d="M1177.14 565.6H1188.74M1182.94 559.8V571.4" stroke="#ff0080" stroke-width="2.3"/><rect x="1189.63" y="559.8" width="11.6" height="11.6" fill="#fff" stroke="#ff0080" stroke-width="2.3"/><path d="M1189.63 565.6H1201.23M1195.43 559.8V571.4" stroke="#ff0080" stroke-width="2.3"/><rect x="1202.13" y="559.8" width="11.6" height="11.6" fill="#fff" stroke="#ff0080" stroke-width="2.3"/><path d="M1202.13 565.6H1213.73M1207.93 559.8V571.4" stroke="#ff0080" stroke-width="2.3"/><rect x="1214.62" y="559.8" width="11.6" height="11.6" fill="#fff" stroke="#ff0080" stroke-width="2.3"/><path d="M1214.62 565.6H1226.22M1220.42 559.8V571.4" stroke="#ff0080" stroke-width="2.3"/><rect x="1227.12" y="559.8" width="11.6" height="11.6" fill="#fff" stroke="#ff0080" stroke-width="2.3"/><path d="M1227.12 565.6H1238.72M1232.92 559.8V571.4" stroke="#ff0080" stroke-width="2.3"/><rect x="1239.61" y="559.8" width="11.6" height="11.6" fill="#fff" stroke="#ff0080" stroke-width="2.3"/><path d="M1239.61 565.6H1251.21M1245.41 559.8V571.4" stroke="#ff0080" stroke-width="2.3"/><rect x="1252.1" y="559.8" width="11.6" height="11.6" fill="#fff" stroke="#ff0080" stroke-width="2.3"/><path d="M1252.1 565.6H1263.7M1257.9 559.8V571.4" stroke="#ff0080" stroke-width="2.3"/><rect x="1264.6" y="559.8" width="11.6" height="11.6" fill="#fff" stroke="#ff0080" stroke-width="2.3"/><path d="M1264.6 565.6H1276.2M1270.4 559.8V571.4" stroke="#ff0080" stroke-width="2.3"/><rect x="1277.09" y="559.8" width="11.6" height="11.6" fill="#fff" stroke="#ff0080" stroke-width="2.3"/><path d="M1277.09 565.6H1288.69M1282.89 559.8V571.4" stroke="#ff0080" stroke-width="2.3"/><rect x="1289.59" y="559.8" width="11.6" height="11.6" fill="#fff" stroke="#ff0080" stroke-width="2.3"/><path d="M1289.59 565.6H1301.19M1295.39 559.8V571.4" stroke="#ff0080" stroke-width="2.3"/><rect x="1302.08" y="559.8" width="11.6" height="11.6" fill="#fff" stroke="#ff0080" stroke-width="2.3"/><path d="M1302.08 565.6H1313.68M1307.88 559.8V571.4" stroke="#ff0080" stroke-width="2.3"/><rect x="1314.57" y="559.8" width="11.6" height="11.6" fill="#fff" stroke="#ff0080" stroke-width="2.3"/><path d="M1314.57 565.6H1326.17M1320.37 559.8V571.4" stroke="#ff0080" stroke-width="2.3"/><rect x="1327.07" y="559.8" width="11.6" height="11.6" fill="#fff" stroke="#ff0080" stroke-width="2.3"/><path d="M1327.07 565.6H1338.67M1332.87 559.8V571.4" stroke="#ff0080" stroke-width="2.3"/><rect x="1339.56" y="559.8" width="11.6" height="11.6" fill="#fff" stroke="#ff0080" stroke-width="2.3"/><path d="M1339.56 565.6H1351.16M1345.36 559.8V571.4" stroke="#ff0080" stroke-width="2.3"/><rect x="1352.06" y="559.8" width="11.6" height="11.6" fill="#fff" stroke="#ff0080" stroke-width="2.3"/><path d="M1352.06 565.6H1363.66M1357.86 559.8V571.4" stroke="#ff0080" stroke-width="2.3"/><rect x="1364.55" y="559.8" width="11.6" height="11.6" fill="#fff" stroke="#ff0080" stroke-width="2.3"/><path d="M1364.55 565.6H1376.15M1370.35 559.8V571.4" stroke="#ff0080" stroke-width="2.3"/><rect x="1377.04" y="559.8" width="11.6" height="11.6" fill="#fff" stroke="#ff0080" stroke-width="2.3"/><path d="M1377.04 565.6H1388.64M1382.84 559.8V571.4" stroke="#ff0080" stroke-width="2.3"/><rect x="1389.54" y="559.8" width="11.6" height="11.6" fill="#fff" stroke="#ff0080" stroke-width="2.3"/><path d="M1389.54 565.6H1401.14M1395.34 559.8V571.4" stroke="#ff0080" stroke-width="2.3"/><rect x="1402.03" y="559.8" width="11.6" height="11.6" fill="#fff" stroke="#ff0080" stroke-width="2.3"/><path d="M1402.03 565.6H1413.63M1407.83 559.8V571.4" stroke="#ff0080" stroke-width="2.3"/><rect x="1414.53" y="559.8" width="11.6" height="11.6" fill="#fff" stroke="#ff0080" stroke-width="2.3"/><path d="M1414.53 565.6H1426.13M1420.33 559.8V571.4" stroke="#ff0080" stroke-width="2.3"/><rect x="1427.02" y="559.8" width="11.6" height="11.6" fill="#fff" stroke="#ff0080" stroke-width="2.3"/><path d="M1427.02 565.6H1438.62M1432.82 559.8V571.4" stroke="#ff0080" stroke-width="2.3"/><rect x="1439.51" y="559.8" width="11.6" height="11.6" fill="#fff" stroke="#ff0080" stroke-width="2.3"/><path d="M1439.51 565.6H1451.11M1445.31 559.8V571.4" stroke="#ff0080" stroke-width="2.3"/><rect x="1452.01" y="559.8" width="11.6" height="11.6" fill="#fff" stroke="#ff0080" stroke-width="2.3"/><path d="M1452.01 565.6H1463.61M1457.81 559.8V571.4" stroke="#ff0080" stroke-width="2.3"/><rect x="1464.5" y="559.8" width="11.6" height="11.6" fill="#fff" stroke="#ff0080" stroke-width="2.3"/><path d="M1464.5 565.6H1476.1M1470.3 559.8V571.4" stroke="#ff0080" stroke-width="2.3"/><rect x="1477" y="559.11" width="11.6" height="11.6" fill="#fff" stroke="#ff0080" stroke-width="2.3"/><path d="M1477 564.91H1488.6M1482.8 559.11V570.71" stroke="#ff0080" stroke-width="2.3"/><rect x="1489.49" y="557.5" width="11.6" height="11.6" fill="#fff" stroke="#ff0080" stroke-width="2.3"/><path d="M1489.49 563.3H1501.09M1495.29 557.5V569.1" stroke="#ff0080" stroke-width="2.3"/><rect x="1501.98" y="554.04" width="11.6" height="11.6" fill="#fff" stroke="#ff0080" stroke-width="2.3"/><path d="M1501.98 559.84H1513.58M1507.78 554.04V565.64" stroke="#ff0080" stroke-width="2.3"/><rect x="1514.48" y="546.84" width="11.6" height="11.6" fill="#fff" stroke="#ff0080" stroke-width="2.3"/><path d="M1514.48 552.64H1526.08M1520.28 546.84V558.44" stroke="#ff0080" stroke-width="2.3"/><rect x="1526.97" y="538.49" width="11.6" height="11.6" fill="#fff" stroke="#ff0080" stroke-width="2.3"/><path d="M1526.97 544.29H1538.57M1532.77 538.49V550.09" stroke="#ff0080" stroke-width="2.3"/><rect x="1539.47" y="528.41" width="11.6" height="11.6" fill="#fff" stroke="#ff0080" stroke-width="2.3"/><path d="M1539.47 534.21H1551.07M1545.27 528.41V540.01" stroke="#ff0080" stroke-width="2.3"/><rect x="1551.96" y="518.9" width="11.6" height="11.6" fill="#fff" stroke="#ff0080" stroke-width="2.3"/><path d="M1551.96 524.7H1563.56M1557.76 518.9V530.5" stroke="#ff0080" stroke-width="2.3"/><rect x="1564.45" y="505.66" width="11.6" height="11.6" fill="#fff" stroke="#ff0080" stroke-width="2.3"/><path d="M1564.45 511.46H1576.05M1570.25 505.66V517.26" stroke="#ff0080" stroke-width="2.3"/><rect x="1576.95" y="490.1" width="11.6" height="11.6" fill="#fff" stroke="#ff0080" stroke-width="2.3"/><path d="M1576.95 495.9H1588.55M1582.75 490.1V501.7" stroke="#ff0080" stroke-width="2.3"/><rect x="1589.44" y="476.86" width="11.6" height="11.6" fill="#fff" stroke="#ff0080" stroke-width="2.3"/><path d="M1589.44 482.66H1601.04M1595.24 476.86V488.46" stroke="#ff0080" stroke-width="2.3"/><rect x="1601.94" y="464.47" width="11.6" height="11.6" fill="#fff" stroke="#ff0080" stroke-width="2.3"/><path d="M1601.94 470.27H1613.54M1607.74 464.47V476.07" stroke="#ff0080" stroke-width="2.3"/><rect x="1614.43" y="456.12" width="11.6" height="11.6" fill="#fff" stroke="#ff0080" stroke-width="2.3"/><path d="M1614.43 461.92H1626.03M1620.23 456.12V467.72" stroke="#ff0080" stroke-width="2.3"/><rect x="1626.92" y="452.09" width="11.6" height="11.6" fill="#fff" stroke="#ff0080" stroke-width="2.3"/><path d="M1626.92 457.89H1638.52M1632.72 452.09V463.69" stroke="#ff0080" stroke-width="2.3"/><rect x="1639.42" y="452.09" width="11.6" height="11.6" fill="#fff" stroke="#ff0080" stroke-width="2.3"/><path d="M1639.42 457.89H1651.02M1645.22 452.09V463.69" stroke="#ff0080" stroke-width="2.3"/><rect x="1651.91" y="460.15" width="11.6" height="11.6" fill="#fff" stroke="#ff0080" stroke-width="2.3"/><path d="M1651.91 465.95H1663.51M1657.71 460.15V471.75" stroke="#ff0080" stroke-width="2.3"/><rect x="1664.41" y="470.52" width="11.6" height="11.6" fill="#fff" stroke="#ff0080" stroke-width="2.3"/><path d="M1664.41 476.32H1676.01M1670.21 470.52V482.12" stroke="#ff0080" stroke-width="2.3"/><rect x="1676.9" y="478.87" width="11.6" height="11.6" fill="#fff" stroke="#ff0080" stroke-width="2.3"/><path d="M1676.9 484.67H1688.5M1682.7 478.87V490.47" stroke="#ff0080" stroke-width="2.3"/></g><g clip-path="url(#cb)"><path d="M1058 565.6L1070.49 565.6L1082.99 565.6L1095.48 565.6L1107.98 565.6L1120.47 565.6L1132.96 565.6L1145.46 565.6L1157.95 565.6L1170.45 565.6L1182.94 565.6L1195.43 565.6L1207.93 565.6L1220.42 565.6L1232.92 565.6L1245.41 565.6L1257.9 565.6L1270.4 565.6L1282.89 565.6L1295.39 565.6L1307.88 565.6L1320.37 565.6L1332.87 565.6L1345.36 565.6L1357.86 565.6L1370.35 565.6L1382.84 565.6L1395.34 565.6L1407.83 565.6L1420.33 565.6L1432.82 565.6L1445.31 565.6L1457.81 565.43L1470.3 565.02L1482.8 564.16L1495.29 562.14L1507.78 557.54L1520.28 551.78L1532.77 545.15L1545.27 537.95L1557.76 531.04L1570.25 523.84L1582.75 517.5L1595.24 510.88L1607.74 506.27L1620.23 505.12L1632.72 507.71L1645.22 512.9L1657.71 520.38L1670.21 529.6L1682.7 536.8" fill="none" stroke="#008080" stroke-width="4" stroke-linejoin="round"/><path d="M1049 565.6L1067 565.6M1051.64 559.24L1064.36 571.96M1058 556.6L1058 574.6M1064.36 559.24L1051.64 571.96" stroke="#008080" stroke-width="1.6" stroke-linecap="butt"/><path d="M1061.49 565.6L1079.49 565.6M1064.13 559.24L1076.86 571.96M1070.49 556.6L1070.49 574.6M1076.86 559.24L1064.13 571.96" stroke="#008080" stroke-width="1.6" stroke-linecap="butt"/><path d="M1073.99 565.6L1091.99 565.6M1076.62 559.24L1089.35 571.96M1082.99 556.6L1082.99 574.6M1089.35 559.24L1076.62 571.96" stroke="#008080" stroke-width="1.6" stroke-linecap="butt"/><path d="M1086.48 565.6L1104.48 565.6M1089.12 559.24L1101.85 571.96M1095.48 556.6L1095.48 574.6M1101.85 559.24L1089.12 571.96" stroke="#008080" stroke-width="1.6" stroke-linecap="butt"/><path d="M1098.98 565.6L1116.98 565.6M1101.61 559.24L1114.34 571.96M1107.98 556.6L1107.98 574.6M1114.34 559.24L1101.61 571.96" stroke="#008080" stroke-width="1.6" stroke-linecap="butt"/><path d="M1111.47 565.6L1129.47 565.6M1114.11 559.24L1126.83 571.96M1120.47 556.6L1120.47 574.6M1126.83 559.24L1114.11 571.96" stroke="#008080" stroke-width="1.6" stroke-linecap="butt"/><path d="M1123.96 565.6L1141.96 565.6M1126.6 559.24L1139.33 571.96M1132.96 556.6L1132.96 574.6M1139.33 559.24L1126.6 571.96" stroke="#008080" stroke-width="1.6" stroke-linecap="butt"/><path d="M1136.46 565.6L1154.46 565.6M1139.09 559.24L1151.82 571.96M1145.46 556.6L1145.46 574.6M1151.82 559.24L1139.09 571.96" stroke="#008080" stroke-width="1.6" stroke-linecap="butt"/><path d="M1148.95 565.6L1166.95 565.6M1151.59 559.24L1164.32 571.96M1157.95 556.6L1157.95 574.6M1164.32 559.24L1151.59 571.96" stroke="#008080" stroke-width="1.6" stroke-linecap="butt"/><path d="M1161.45 565.6L1179.45 565.6M1164.08 559.24L1176.81 571.96M1170.45 556.6L1170.45 574.6M1176.81 559.24L1164.08 571.96" stroke="#008080" stroke-width="1.6" stroke-linecap="butt"/><path d="M1173.94 565.6L1191.94 565.6M1176.58 559.24L1189.3 571.96M1182.94 556.6L1182.94 574.6M1189.3 559.24L1176.58 571.96" stroke="#008080" stroke-width="1.6" stroke-linecap="butt"/><path d="M1186.43 565.6L1204.43 565.6M1189.07 559.24L1201.8 571.96M1195.43 556.6L1195.43 574.6M1201.8 559.24L1189.07 571.96" stroke="#008080" stroke-width="1.6" stroke-linecap="butt"/><path d="M1198.93 565.6L1216.93 565.6M1201.56 559.24L1214.29 571.96M1207.93 556.6L1207.93 574.6M1214.29 559.24L1201.56 571.96" stroke="#008080" stroke-width="1.6" stroke-linecap="butt"/><path d="M1211.42 565.6L1229.42 565.6M1214.06 559.24L1226.79 571.96M1220.42 556.6L1220.42 574.6M1226.79 559.24L1214.06 571.96" stroke="#008080" stroke-width="1.6" stroke-linecap="butt"/><path d="M1223.92 565.6L1241.92 565.6M1226.55 559.24L1239.28 571.96M1232.92 556.6L1232.92 574.6M1239.28 559.24L1226.55 571.96" stroke="#008080" stroke-width="1.6" stroke-linecap="butt"/><path d="M1236.41 565.6L1254.41 565.6M1239.05 559.24L1251.77 571.96M1245.41 556.6L1245.41 574.6M1251.77 559.24L1239.05 571.96" stroke="#008080" stroke-width="1.6" stroke-linecap="butt"/><path d="M1248.9 565.6L1266.9 565.6M1251.54 559.24L1264.27 571.96M1257.9 556.6L1257.9 574.6M1264.27 559.24L1251.54 571.96" stroke="#008080" stroke-width="1.6" stroke-linecap="butt"/><path d="M1261.4 565.6L1279.4 565.6M1264.03 559.24L1276.76 571.96M1270.4 556.6L1270.4 574.6M1276.76 559.24L1264.03 571.96" stroke="#008080" stroke-width="1.6" stroke-linecap="butt"/><path d="M1273.89 565.6L1291.89 565.6M1276.53 559.24L1289.26 571.96M1282.89 556.6L1282.89 574.6M1289.26 559.24L1276.53 571.96" stroke="#008080" stroke-width="1.6" stroke-linecap="butt"/><path d="M1286.39 565.6L1304.39 565.6M1289.02 559.24L1301.75 571.96M1295.39 556.6L1295.39 574.6M1301.75 559.24L1289.02 571.96" stroke="#008080" stroke-width="1.6" stroke-linecap="butt"/><path d="M1298.88 565.6L1316.88 565.6M1301.52 559.24L1314.24 571.96M1307.88 556.6L1307.88 574.6M1314.24 559.24L1301.52 571.96" stroke="#008080" stroke-width="1.6" stroke-linecap="butt"/><path d="M1311.37 565.6L1329.37 565.6M1314.01 559.24L1326.74 571.96M1320.37 556.6L1320.37 574.6M1326.74 559.24L1314.01 571.96" stroke="#008080" stroke-width="1.6" stroke-linecap="butt"/><path d="M1323.87 565.6L1341.87 565.6M1326.5 559.24L1339.23 571.96M1332.87 556.6L1332.87 574.6M1339.23 559.24L1326.5 571.96" stroke="#008080" stroke-width="1.6" stroke-linecap="butt"/><path d="M1336.36 565.6L1354.36 565.6M1339 559.24L1351.73 571.96M1345.36 556.6L1345.36 574.6M1351.73 559.24L1339 571.96" stroke="#008080" stroke-width="1.6" stroke-linecap="butt"/><path d="M1348.86 565.6L1366.86 565.6M1351.49 559.24L1364.22 571.96M1357.86 556.6L1357.86 574.6M1364.22 559.24L1351.49 571.96" stroke="#008080" stroke-width="1.6" stroke-linecap="butt"/><path d="M1361.35 565.6L1379.35 565.6M1363.99 559.24L1376.71 571.96M1370.35 556.6L1370.35 574.6M1376.71 559.24L1363.99 571.96" stroke="#008080" stroke-width="1.6" stroke-linecap="butt"/><path d="M1373.84 565.6L1391.84 565.6M1376.48 559.24L1389.21 571.96M1382.84 556.6L1382.84 574.6M1389.21 559.24L1376.48 571.96" stroke="#008080" stroke-width="1.6" stroke-linecap="butt"/><path d="M1386.34 565.6L1404.34 565.6M1388.97 559.24L1401.7 571.96M1395.34 556.6L1395.34 574.6M1401.7 559.24L1388.97 571.96" stroke="#008080" stroke-width="1.6" stroke-linecap="butt"/><path d="M1398.83 565.6L1416.83 565.6M1401.47 559.24L1414.2 571.96M1407.83 556.6L1407.83 574.6M1414.2 559.24L1401.47 571.96" stroke="#008080" stroke-width="1.6" stroke-linecap="butt"/><path d="M1411.33 565.6L1429.33 565.6M1413.96 559.24L1426.69 571.96M1420.33 556.6L1420.33 574.6M1426.69 559.24L1413.96 571.96" stroke="#008080" stroke-width="1.6" stroke-linecap="butt"/><path d="M1423.82 565.6L1441.82 565.6M1426.46 559.24L1439.18 571.96M1432.82 556.6L1432.82 574.6M1439.18 559.24L1426.46 571.96" stroke="#008080" stroke-width="1.6" stroke-linecap="butt"/><path d="M1436.31 565.6L1454.31 565.6M1438.95 559.24L1451.68 571.96M1445.31 556.6L1445.31 574.6M1451.68 559.24L1438.95 571.96" stroke="#008080" stroke-width="1.6" stroke-linecap="butt"/><path d="M1448.81 565.43L1466.81 565.43M1451.44 559.06L1464.17 571.79M1457.81 556.43L1457.81 574.43M1464.17 559.06L1451.44 571.79" stroke="#008080" stroke-width="1.6" stroke-linecap="butt"/><path d="M1461.3 565.02L1479.3 565.02M1463.94 558.66L1476.67 571.39M1470.3 556.02L1470.3 574.02M1476.67 558.66L1463.94 571.39" stroke="#008080" stroke-width="1.6" stroke-linecap="butt"/><path d="M1473.8 564.16L1491.8 564.16M1476.43 557.8L1489.16 570.52M1482.8 555.16L1482.8 573.16M1489.16 557.8L1476.43 570.52" stroke="#008080" stroke-width="1.6" stroke-linecap="butt"/><path d="M1486.29 562.14L1504.29 562.14M1488.93 555.78L1501.65 568.51M1495.29 553.14L1495.29 571.14M1501.65 555.78L1488.93 568.51" stroke="#008080" stroke-width="1.6" stroke-linecap="butt"/><path d="M1498.78 557.54L1516.78 557.54M1501.42 551.17L1514.15 563.9M1507.78 548.54L1507.78 566.54M1514.15 551.17L1501.42 563.9" stroke="#008080" stroke-width="1.6" stroke-linecap="butt"/><path d="M1511.28 551.78L1529.28 551.78M1513.91 545.41L1526.64 558.14M1520.28 542.78L1520.28 560.78M1526.64 545.41L1513.91 558.14" stroke="#008080" stroke-width="1.6" stroke-linecap="butt"/><path d="M1523.77 545.15L1541.77 545.15M1526.41 538.79L1539.14 551.52M1532.77 536.15L1532.77 554.15M1539.14 538.79L1526.41 551.52" stroke="#008080" stroke-width="1.6" stroke-linecap="butt"/><path d="M1536.27 537.95L1554.27 537.95M1538.9 531.59L1551.63 544.32M1545.27 528.95L1545.27 546.95M1551.63 531.59L1538.9 544.32" stroke="#008080" stroke-width="1.6" stroke-linecap="butt"/><path d="M1548.76 531.04L1566.76 531.04M1551.4 524.68L1564.12 537.4M1557.76 522.04L1557.76 540.04M1564.12 524.68L1551.4 537.4" stroke="#008080" stroke-width="1.6" stroke-linecap="butt"/><path d="M1561.25 523.84L1579.25 523.84M1563.89 517.48L1576.62 530.2M1570.25 514.84L1570.25 532.84M1576.62 517.48L1563.89 530.2" stroke="#008080" stroke-width="1.6" stroke-linecap="butt"/><path d="M1573.75 517.5L1591.75 517.5M1576.38 511.14L1589.11 523.87M1582.75 508.5L1582.75 526.5M1589.11 511.14L1576.38 523.87" stroke="#008080" stroke-width="1.6" stroke-linecap="butt"/><path d="M1586.24 510.88L1604.24 510.88M1588.88 504.52L1601.61 517.24M1595.24 501.88L1595.24 519.88M1601.61 504.52L1588.88 517.24" stroke="#008080" stroke-width="1.6" stroke-linecap="butt"/><path d="M1598.74 506.27L1616.74 506.27M1601.37 499.91L1614.1 512.64M1607.74 497.27L1607.74 515.27M1614.1 499.91L1601.37 512.64" stroke="#008080" stroke-width="1.6" stroke-linecap="butt"/><path d="M1611.23 505.12L1629.23 505.12M1613.87 498.76L1626.59 511.48M1620.23 496.12L1620.23 514.12M1626.59 498.76L1613.87 511.48" stroke="#008080" stroke-width="1.6" stroke-linecap="butt"/><path d="M1623.72 507.71L1641.72 507.71M1626.36 501.35L1639.09 514.08M1632.72 498.71L1632.72 516.71M1639.09 501.35L1626.36 514.08" stroke="#008080" stroke-width="1.6" stroke-linecap="butt"/><path d="M1636.22 512.9L1654.22 512.9M1638.85 506.53L1651.58 519.26M1645.22 503.9L1645.22 521.9M1651.58 506.53L1638.85 519.26" stroke="#008080" stroke-width="1.6" stroke-linecap="butt"/><path d="M1648.71 520.38L1666.71 520.38M1651.35 514.02L1664.08 526.75M1657.71 511.38L1657.71 529.38M1664.08 514.02L1651.35 526.75" stroke="#008080" stroke-width="1.6" stroke-linecap="butt"/><path d="M1661.21 529.6L1679.21 529.6M1663.84 523.24L1676.57 535.96M1670.21 520.6L1670.21 538.6M1676.57 523.24L1663.84 535.96" stroke="#008080" stroke-width="1.6" stroke-linecap="butt"/><path d="M1673.7 536.8L1691.7 536.8M1676.34 530.44L1689.06 543.16M1682.7 527.8L1682.7 545.8M1689.06 530.44L1676.34 543.16" stroke="#008080" stroke-width="1.6" stroke-linecap="butt"/></g><g clip-path="url(#cc)"><path d="M724.8 1093.16L737.64 1093.16L750.48 1093.16L763.32 1093.16L776.16 1093.16L789 1093.16L801.84 1093.16L814.68 1093.16L827.52 1093.16L840.36 1093.16L853.2 1093.16L866.04 1093.16L878.88 1093.16L891.72 1093.16L904.56 1093.16L917.4 1093.16L930.24 1093.16L943.08 1093.16L955.92 1093.16L968.76 1093.16L981.6 1093.16L994.44 1093.13L1007.28 1093.02L1020.12 1092.86L1032.96 1092.64L1045.8 1092.37L1058.64 1091.77L1071.48 1090.77L1084.32 1089.18L1097.16 1086L1110 1081.22L1122.84 1075.65L1135.68 1070.07L1148.52 1062.91L1161.36 1054.15L1174.2 1042.21L1187.04 1026.28L1199.88 1006.38L1212.72 981.7L1225.56 953.83L1238.4 925.97L1251.24 897.31L1264.08 871.83L1276.92 851.13L1289.76 836.8L1302.6 829.63L1315.44 829.63L1328.28 841.58L1341.12 859.89L1353.96 879.79L1366.8 902.88" fill="none" stroke="#008000" stroke-width="3.4" stroke-linejoin="round"/><circle cx="724.8" cy="1093.16" r="6" fill="#fff" stroke="#008000" stroke-width="1.8"/><path d="M724.8 1087.16A6 6 0 0 0 724.8 1099.16Z" fill="#008000"/><circle cx="737.64" cy="1093.16" r="6" fill="#fff" stroke="#008000" stroke-width="1.8"/><path d="M737.64 1087.16A6 6 0 0 0 737.64 1099.16Z" fill="#008000"/><circle cx="750.48" cy="1093.16" r="6" fill="#fff" stroke="#008000" stroke-width="1.8"/><path d="M750.48 1087.16A6 6 0 0 0 750.48 1099.16Z" fill="#008000"/><circle cx="763.32" cy="1093.16" r="6" fill="#fff" stroke="#008000" stroke-width="1.8"/><path d="M763.32 1087.16A6 6 0 0 0 763.32 1099.16Z" fill="#008000"/><circle cx="776.16" cy="1093.16" r="6" fill="#fff" stroke="#008000" stroke-width="1.8"/><path d="M776.16 1087.16A6 6 0 0 0 776.16 1099.16Z" fill="#008000"/><circle cx="789" cy="1093.16" r="6" fill="#fff" stroke="#008000" stroke-width="1.8"/><path d="M789 1087.16A6 6 0 0 0 789 1099.16Z" fill="#008000"/><circle cx="801.84" cy="1093.16" r="6" fill="#fff" stroke="#008000" stroke-width="1.8"/><path d="M801.84 1087.16A6 6 0 0 0 801.84 1099.16Z" fill="#008000"/><circle cx="814.68" cy="1093.16" r="6" fill="#fff" stroke="#008000" stroke-width="1.8"/><path d="M814.68 1087.16A6 6 0 0 0 814.68 1099.16Z" fill="#008000"/><circle cx="827.52" cy="1093.16" r="6" fill="#fff" stroke="#008000" stroke-width="1.8"/><path d="M827.52 1087.16A6 6 0 0 0 827.52 1099.16Z" fill="#008000"/><circle cx="840.36" cy="1093.16" r="6" fill="#fff" stroke="#008000" stroke-width="1.8"/><path d="M840.36 1087.16A6 6 0 0 0 840.36 1099.16Z" fill="#008000"/><circle cx="853.2" cy="1093.16" r="6" fill="#fff" stroke="#008000" stroke-width="1.8"/><path d="M853.2 1087.16A6 6 0 0 0 853.2 1099.16Z" fill="#008000"/><circle cx="866.04" cy="1093.16" r="6" fill="#fff" stroke="#008000" stroke-width="1.8"/><path d="M866.04 1087.16A6 6 0 0 0 866.04 1099.16Z" fill="#008000"/><circle cx="878.88" cy="1093.16" r="6" fill="#fff" stroke="#008000" stroke-width="1.8"/><path d="M878.88 1087.16A6 6 0 0 0 878.88 1099.16Z" fill="#008000"/><circle cx="891.72" cy="1093.16" r="6" fill="#fff" stroke="#008000" stroke-width="1.8"/><path d="M891.72 1087.16A6 6 0 0 0 891.72 1099.16Z" fill="#008000"/><circle cx="904.56" cy="1093.16" r="6" fill="#fff" stroke="#008000" stroke-width="1.8"/><path d="M904.56 1087.16A6 6 0 0 0 904.56 1099.16Z" fill="#008000"/><circle cx="917.4" cy="1093.16" r="6" fill="#fff" stroke="#008000" stroke-width="1.8"/><path d="M917.4 1087.16A6 6 0 0 0 917.4 1099.16Z" fill="#008000"/><circle cx="930.24" cy="1093.16" r="6" fill="#fff" stroke="#008000" stroke-width="1.8"/><path d="M930.24 1087.16A6 6 0 0 0 930.24 1099.16Z" fill="#008000"/><circle cx="943.08" cy="1093.16" r="6" fill="#fff" stroke="#008000" stroke-width="1.8"/><path d="M943.08 1087.16A6 6 0 0 0 943.08 1099.16Z" fill="#008000"/><circle cx="955.92" cy="1093.16" r="6" fill="#fff" stroke="#008000" stroke-width="1.8"/><path d="M955.92 1087.16A6 6 0 0 0 955.92 1099.16Z" fill="#008000"/><circle cx="968.76" cy="1093.16" r="6" fill="#fff" stroke="#008000" stroke-width="1.8"/><path d="M968.76 1087.16A6 6 0 0 0 968.76 1099.16Z" fill="#008000"/><circle cx="981.6" cy="1093.16" r="6" fill="#fff" stroke="#008000" stroke-width="1.8"/><path d="M981.6 1087.16A6 6 0 0 0 981.6 1099.16Z" fill="#008000"/><circle cx="994.44" cy="1093.13" r="6" fill="#fff" stroke="#008000" stroke-width="1.8"/><path d="M994.44 1087.13A6 6 0 0 0 994.44 1099.13Z" fill="#008000"/><circle cx="1007.28" cy="1093.02" r="6" fill="#fff" stroke="#008000" stroke-width="1.8"/><path d="M1007.28 1087.02A6 6 0 0 0 1007.28 1099.02Z" fill="#008000"/><circle cx="1020.12" cy="1092.86" r="6" fill="#fff" stroke="#008000" stroke-width="1.8"/><path d="M1020.12 1086.86A6 6 0 0 0 1020.12 1098.86Z" fill="#008000"/><circle cx="1032.96" cy="1092.64" r="6" fill="#fff" stroke="#008000" stroke-width="1.8"/><path d="M1032.96 1086.64A6 6 0 0 0 1032.96 1098.64Z" fill="#008000"/><circle cx="1045.8" cy="1092.37" r="6" fill="#fff" stroke="#008000" stroke-width="1.8"/><path d="M1045.8 1086.37A6 6 0 0 0 1045.8 1098.37Z" fill="#008000"/><circle cx="1058.64" cy="1091.77" r="6" fill="#fff" stroke="#008000" stroke-width="1.8"/><path d="M1058.64 1085.77A6 6 0 0 0 1058.64 1097.77Z" fill="#008000"/><circle cx="1071.48" cy="1090.77" r="6" fill="#fff" stroke="#008000" stroke-width="1.8"/><path d="M1071.48 1084.77A6 6 0 0 0 1071.48 1096.77Z" fill="#008000"/><circle cx="1084.32" cy="1089.18" r="6" fill="#fff" stroke="#008000" stroke-width="1.8"/><path d="M1084.32 1083.18A6 6 0 0 0 1084.32 1095.18Z" fill="#008000"/><circle cx="1097.16" cy="1086" r="6" fill="#fff" stroke="#008000" stroke-width="1.8"/><path d="M1097.16 1080A6 6 0 0 0 1097.16 1092Z" fill="#008000"/><circle cx="1110" cy="1081.22" r="6" fill="#fff" stroke="#008000" stroke-width="1.8"/><path d="M1110 1075.22A6 6 0 0 0 1110 1087.22Z" fill="#008000"/><circle cx="1122.84" cy="1075.65" r="6" fill="#fff" stroke="#008000" stroke-width="1.8"/><path d="M1122.84 1069.65A6 6 0 0 0 1122.84 1081.65Z" fill="#008000"/><circle cx="1135.68" cy="1070.07" r="6" fill="#fff" stroke="#008000" stroke-width="1.8"/><path d="M1135.68 1064.07A6 6 0 0 0 1135.68 1076.07Z" fill="#008000"/><circle cx="1148.52" cy="1062.91" r="6" fill="#fff" stroke="#008000" stroke-width="1.8"/><path d="M1148.52 1056.91A6 6 0 0 0 1148.52 1068.91Z" fill="#008000"/><circle cx="1161.36" cy="1054.15" r="6" fill="#fff" stroke="#008000" stroke-width="1.8"/><path d="M1161.36 1048.15A6 6 0 0 0 1161.36 1060.15Z" fill="#008000"/><circle cx="1174.2" cy="1042.21" r="6" fill="#fff" stroke="#008000" stroke-width="1.8"/><path d="M1174.2 1036.21A6 6 0 0 0 1174.2 1048.21Z" fill="#008000"/><circle cx="1187.04" cy="1026.28" r="6" fill="#fff" stroke="#008000" stroke-width="1.8"/><path d="M1187.04 1020.28A6 6 0 0 0 1187.04 1032.28Z" fill="#008000"/><circle cx="1199.88" cy="1006.38" r="6" fill="#fff" stroke="#008000" stroke-width="1.8"/><path d="M1199.88 1000.38A6 6 0 0 0 1199.88 1012.38Z" fill="#008000"/><circle cx="1212.72" cy="981.7" r="6" fill="#fff" stroke="#008000" stroke-width="1.8"/><path d="M1212.72 975.7A6 6 0 0 0 1212.72 987.7Z" fill="#008000"/><circle cx="1225.56" cy="953.83" r="6" fill="#fff" stroke="#008000" stroke-width="1.8"/><path d="M1225.56 947.83A6 6 0 0 0 1225.56 959.83Z" fill="#008000"/><circle cx="1238.4" cy="925.97" r="6" fill="#fff" stroke="#008000" stroke-width="1.8"/><path d="M1238.4 919.97A6 6 0 0 0 1238.4 931.97Z" fill="#008000"/><circle cx="1251.24" cy="897.31" r="6" fill="#fff" stroke="#008000" stroke-width="1.8"/><path d="M1251.24 891.31A6 6 0 0 0 1251.24 903.31Z" fill="#008000"/><circle cx="1264.08" cy="871.83" r="6" fill="#fff" stroke="#008000" stroke-width="1.8"/><path d="M1264.08 865.83A6 6 0 0 0 1264.08 877.83Z" fill="#008000"/><circle cx="1276.92" cy="851.13" r="6" fill="#fff" stroke="#008000" stroke-width="1.8"/><path d="M1276.92 845.13A6 6 0 0 0 1276.92 857.13Z" fill="#008000"/><circle cx="1289.76" cy="836.8" r="6" fill="#fff" stroke="#008000" stroke-width="1.8"/><path d="M1289.76 830.8A6 6 0 0 0 1289.76 842.8Z" fill="#008000"/><circle cx="1302.6" cy="829.63" r="6" fill="#fff" stroke="#008000" stroke-width="1.8"/><path d="M1302.6 823.63A6 6 0 0 0 1302.6 835.63Z" fill="#008000"/><circle cx="1315.44" cy="829.63" r="6" fill="#fff" stroke="#008000" stroke-width="1.8"/><path d="M1315.44 823.63A6 6 0 0 0 1315.44 835.63Z" fill="#008000"/><circle cx="1328.28" cy="841.58" r="6" fill="#fff" stroke="#008000" stroke-width="1.8"/><path d="M1328.28 835.58A6 6 0 0 0 1328.28 847.58Z" fill="#008000"/><circle cx="1341.12" cy="859.89" r="6" fill="#fff" stroke="#008000" stroke-width="1.8"/><path d="M1341.12 853.89A6 6 0 0 0 1341.12 865.89Z" fill="#008000"/><circle cx="1353.96" cy="879.79" r="6" fill="#fff" stroke="#008000" stroke-width="1.8"/><path d="M1353.96 873.79A6 6 0 0 0 1353.96 885.79Z" fill="#008000"/><circle cx="1366.8" cy="902.88" r="6" fill="#fff" stroke="#008000" stroke-width="1.8"/><path d="M1366.8 896.88A6 6 0 0 0 1366.8 908.88Z" fill="#008000"/></g><g clip-path="url(#cc)"><path d="M724.8 1093.96L737.64 1093.96L750.48 1093.96L763.32 1093.95L776.16 1093.95L789 1093.95L801.84 1093.94L814.68 1093.93L827.52 1093.93L840.36 1093.92L853.2 1093.9L866.04 1093.89L878.88 1093.87L891.72 1093.86L904.56 1093.83L917.4 1093.81L930.24 1093.79L943.08 1093.76L955.92 1093.73L968.76 1093.69L981.6 1093.66L994.44 1093.62L1007.28 1093.57L1020.12 1093.52L1032.96 1093.47L1045.8 1093.42L1058.64 1093.36L1071.48 1093.3L1084.32 1093.23L1097.16 1093.16L1110 1092.66L1122.84 1091.57L1135.68 1089.18L1148.52 1084.4L1161.36 1077.64L1174.2 1072.06L1187.04 1062.91L1199.88 1048.58L1212.72 1034.25L1225.56 1015.14L1238.4 992.05L1251.24 970.55L1264.08 946.67L1276.92 926.77L1289.76 907.66L1302.6 893.33L1315.44 885.37L1328.28 883.77L1341.12 887.75L1353.96 899.7L1366.8 914.03" fill="none" stroke="#000080" stroke-width="3.4" stroke-linejoin="round"/><path d="M724.8 1086.36L726.81 1091.19L732.03 1091.61L728.05 1095.01L729.27 1100.11L724.8 1097.38L720.33 1100.11L721.55 1095.01L717.57 1091.61L722.79 1091.19Z" fill="#000080" stroke="#000080" stroke-width="1.5" stroke-linejoin="round"/><circle cx="726.3" cy="1094.46" r="1.6" fill="#fff"/><path d="M737.64 1086.36L739.65 1091.19L744.87 1091.61L740.89 1095.01L742.11 1100.11L737.64 1097.38L733.17 1100.11L734.39 1095.01L730.41 1091.61L735.63 1091.19Z" fill="#000080" stroke="#000080" stroke-width="1.5" stroke-linejoin="round"/><circle cx="739.14" cy="1094.46" r="1.6" fill="#fff"/><path d="M750.48 1086.36L752.49 1091.19L757.71 1091.61L753.73 1095.01L754.95 1100.1L750.48 1097.38L746.01 1100.1L747.23 1095.01L743.25 1091.61L748.47 1091.19Z" fill="#000080" stroke="#000080" stroke-width="1.5" stroke-linejoin="round"/><circle cx="751.98" cy="1094.46" r="1.6" fill="#fff"/><path d="M763.32 1086.35L765.33 1091.19L770.55 1091.61L766.57 1095.01L767.79 1100.1L763.32 1097.37L758.85 1100.1L760.07 1095.01L756.09 1091.61L761.31 1091.19Z" fill="#000080" stroke="#000080" stroke-width="1.5" stroke-linejoin="round"/><circle cx="764.82" cy="1094.45" r="1.6" fill="#fff"/><path d="M776.16 1086.35L778.17 1091.18L783.39 1091.6L779.41 1095.01L780.63 1100.1L776.16 1097.37L771.69 1100.1L772.91 1095.01L768.93 1091.6L774.15 1091.18Z" fill="#000080" stroke="#000080" stroke-width="1.5" stroke-linejoin="round"/><circle cx="777.66" cy="1094.45" r="1.6" fill="#fff"/><path d="M789 1086.35L791.01 1091.18L796.23 1091.6L792.25 1095L793.47 1100.1L789 1097.37L784.53 1100.1L785.75 1095L781.77 1091.6L786.99 1091.18Z" fill="#000080" stroke="#000080" stroke-width="1.5" stroke-linejoin="round"/><circle cx="790.5" cy="1094.45" r="1.6" fill="#fff"/><path d="M801.84 1086.34L803.85 1091.17L809.07 1091.59L805.09 1095L806.31 1100.09L801.84 1097.36L797.37 1100.09L798.59 1095L794.61 1091.59L799.83 1091.17Z" fill="#000080" stroke="#000080" stroke-width="1.5" stroke-linejoin="round"/><circle cx="803.34" cy="1094.44" r="1.6" fill="#fff"/><path d="M814.68 1086.33L816.69 1091.17L821.91 1091.59L817.93 1094.99L819.15 1100.08L814.68 1097.35L810.21 1100.08L811.43 1094.99L807.45 1091.59L812.67 1091.17Z" fill="#000080" stroke="#000080" stroke-width="1.5" stroke-linejoin="round"/><circle cx="816.18" cy="1094.43" r="1.6" fill="#fff"/><path d="M827.52 1086.33L829.53 1091.16L834.75 1091.58L830.77 1094.98L831.99 1100.07L827.52 1097.35L823.05 1100.07L824.27 1094.98L820.29 1091.58L825.51 1091.16Z" fill="#000080" stroke="#000080" stroke-width="1.5" stroke-linejoin="round"/><circle cx="829.02" cy="1094.43" r="1.6" fill="#fff"/><path d="M840.36 1086.32L842.37 1091.15L847.59 1091.57L843.61 1094.97L844.83 1100.06L840.36 1097.34L835.89 1100.06L837.11 1094.97L833.13 1091.57L838.35 1091.15Z" fill="#000080" stroke="#000080" stroke-width="1.5" stroke-linejoin="round"/><circle cx="841.86" cy="1094.42" r="1.6" fill="#fff"/><path d="M853.2 1086.3L855.21 1091.14L860.43 1091.55L856.45 1094.96L857.67 1100.05L853.2 1097.32L848.73 1100.05L849.95 1094.96L845.97 1091.55L851.19 1091.14Z" fill="#000080" stroke="#000080" stroke-width="1.5" stroke-linejoin="round"/><circle cx="854.7" cy="1094.4" r="1.6" fill="#fff"/><path d="M866.04 1086.29L868.05 1091.12L873.27 1091.54L869.29 1094.95L870.51 1100.04L866.04 1097.31L861.57 1100.04L862.79 1094.95L858.81 1091.54L864.03 1091.12Z" fill="#000080" stroke="#000080" stroke-width="1.5" stroke-linejoin="round"/><circle cx="867.54" cy="1094.39" r="1.6" fill="#fff"/><path d="M878.88 1086.27L880.89 1091.11L886.11 1091.52L882.13 1094.93L883.35 1100.02L878.88 1097.29L874.41 1100.02L875.63 1094.93L871.65 1091.52L876.87 1091.11Z" fill="#000080" stroke="#000080" stroke-width="1.5" stroke-linejoin="round"/><circle cx="880.38" cy="1094.37" r="1.6" fill="#fff"/><path d="M891.72 1086.26L893.73 1091.09L898.95 1091.51L894.97 1094.91L896.19 1100L891.72 1097.28L887.25 1100L888.47 1094.91L884.49 1091.51L889.71 1091.09Z" fill="#000080" stroke="#000080" stroke-width="1.5" stroke-linejoin="round"/><circle cx="893.22" cy="1094.36" r="1.6" fill="#fff"/><path d="M904.56 1086.23L906.57 1091.07L911.79 1091.49L907.81 1094.89L909.03 1099.98L904.56 1097.25L900.09 1099.98L901.31 1094.89L897.33 1091.49L902.55 1091.07Z" fill="#000080" stroke="#000080" stroke-width="1.5" stroke-linejoin="round"/><circle cx="906.06" cy="1094.33" r="1.6" fill="#fff"/><path d="M917.4 1086.21L919.41 1091.04L924.63 1091.46L920.65 1094.87L921.87 1099.96L917.4 1097.23L912.93 1099.96L914.15 1094.87L910.17 1091.46L915.39 1091.04Z" fill="#000080" stroke="#000080" stroke-width="1.5" stroke-linejoin="round"/><circle cx="918.9" cy="1094.31" r="1.6" fill="#fff"/><path d="M930.24 1086.19L932.25 1091.02L937.47 1091.44L933.49 1094.84L934.71 1099.93L930.24 1097.21L925.77 1099.93L926.99 1094.84L923.01 1091.44L928.23 1091.02Z" fill="#000080" stroke="#000080" stroke-width="1.5" stroke-linejoin="round"/><circle cx="931.74" cy="1094.29" r="1.6" fill="#fff"/><path d="M943.08 1086.16L945.09 1090.99L950.31 1091.41L946.33 1094.81L947.55 1099.91L943.08 1097.18L938.61 1099.91L939.83 1094.81L935.85 1091.41L941.07 1090.99Z" fill="#000080" stroke="#000080" stroke-width="1.5" stroke-linejoin="round"/><circle cx="944.58" cy="1094.26" r="1.6" fill="#fff"/><path d="M955.92 1086.13L957.93 1090.96L963.15 1091.38L959.17 1094.78L960.39 1099.88L955.92 1097.15L951.45 1099.88L952.67 1094.78L948.69 1091.38L953.91 1090.96Z" fill="#000080" stroke="#000080" stroke-width="1.5" stroke-linejoin="round"/><circle cx="957.42" cy="1094.23" r="1.6" fill="#fff"/><path d="M968.76 1086.09L970.77 1090.93L975.99 1091.34L972.01 1094.75L973.23 1099.84L968.76 1097.11L964.29 1099.84L965.51 1094.75L961.53 1091.34L966.75 1090.93Z" fill="#000080" stroke="#000080" stroke-width="1.5" stroke-linejoin="round"/><circle cx="970.26" cy="1094.19" r="1.6" fill="#fff"/><path d="M981.6 1086.06L983.61 1090.89L988.83 1091.31L984.85 1094.71L986.07 1099.8L981.6 1097.08L977.13 1099.8L978.35 1094.71L974.37 1091.31L979.59 1090.89Z" fill="#000080" stroke="#000080" stroke-width="1.5" stroke-linejoin="round"/><circle cx="983.1" cy="1094.16" r="1.6" fill="#fff"/><path d="M994.44 1086.02L996.45 1090.85L1001.67 1091.27L997.69 1094.67L998.91 1099.76L994.44 1097.04L989.97 1099.76L991.19 1094.67L987.21 1091.27L992.43 1090.85Z" fill="#000080" stroke="#000080" stroke-width="1.5" stroke-linejoin="round"/><circle cx="995.94" cy="1094.12" r="1.6" fill="#fff"/><path d="M1007.28 1085.97L1009.29 1090.8L1014.51 1091.22L1010.53 1094.63L1011.75 1099.72L1007.28 1096.99L1002.81 1099.72L1004.03 1094.63L1000.05 1091.22L1005.27 1090.8Z" fill="#000080" stroke="#000080" stroke-width="1.5" stroke-linejoin="round"/><circle cx="1008.78" cy="1094.07" r="1.6" fill="#fff"/><path d="M1020.12 1085.92L1022.13 1090.76L1027.35 1091.18L1023.37 1094.58L1024.59 1099.67L1020.12 1096.94L1015.65 1099.67L1016.87 1094.58L1012.89 1091.18L1018.11 1090.76Z" fill="#000080" stroke="#000080" stroke-width="1.5" stroke-linejoin="round"/><circle cx="1021.62" cy="1094.02" r="1.6" fill="#fff"/><path d="M1032.96 1085.87L1034.97 1090.71L1040.19 1091.13L1036.21 1094.53L1037.43 1099.62L1032.96 1096.89L1028.49 1099.62L1029.71 1094.53L1025.73 1091.13L1030.95 1090.71Z" fill="#000080" stroke="#000080" stroke-width="1.5" stroke-linejoin="round"/><circle cx="1034.46" cy="1093.97" r="1.6" fill="#fff"/><path d="M1045.8 1085.82L1047.81 1090.65L1053.03 1091.07L1049.05 1094.48L1050.27 1099.57L1045.8 1096.84L1041.33 1099.57L1042.55 1094.48L1038.57 1091.07L1043.79 1090.65Z" fill="#000080" stroke="#000080" stroke-width="1.5" stroke-linejoin="round"/><circle cx="1047.3" cy="1093.92" r="1.6" fill="#fff"/><path d="M1058.64 1085.76L1060.65 1090.59L1065.87 1091.01L1061.89 1094.42L1063.11 1099.51L1058.64 1096.78L1054.17 1099.51L1055.39 1094.42L1051.41 1091.01L1056.63 1090.59Z" fill="#000080" stroke="#000080" stroke-width="1.5" stroke-linejoin="round"/><circle cx="1060.14" cy="1093.86" r="1.6" fill="#fff"/><path d="M1071.48 1085.7L1073.49 1090.53L1078.71 1090.95L1074.73 1094.36L1075.95 1099.45L1071.48 1096.72L1067.01 1099.45L1068.23 1094.36L1064.25 1090.95L1069.47 1090.53Z" fill="#000080" stroke="#000080" stroke-width="1.5" stroke-linejoin="round"/><circle cx="1072.98" cy="1093.8" r="1.6" fill="#fff"/><path d="M1084.32 1085.63L1086.33 1090.47L1091.55 1090.88L1087.57 1094.29L1088.79 1099.38L1084.32 1096.65L1079.85 1099.38L1081.07 1094.29L1077.09 1090.88L1082.31 1090.47Z" fill="#000080" stroke="#000080" stroke-width="1.5" stroke-linejoin="round"/><circle cx="1085.82" cy="1093.73" r="1.6" fill="#fff"/><path d="M1097.16 1085.56L1099.17 1090.39L1104.39 1090.81L1100.41 1094.22L1101.63 1099.31L1097.16 1096.58L1092.69 1099.31L1093.91 1094.22L1089.93 1090.81L1095.15 1090.39Z" fill="#000080" stroke="#000080" stroke-width="1.5" stroke-linejoin="round"/><circle cx="1098.66" cy="1093.66" r="1.6" fill="#fff"/><path d="M1110 1085.06L1112.01 1089.9L1117.23 1090.31L1113.25 1093.72L1114.47 1098.81L1110 1096.08L1105.53 1098.81L1106.75 1093.72L1102.77 1090.31L1107.99 1089.9Z" fill="#000080" stroke="#000080" stroke-width="1.5" stroke-linejoin="round"/><circle cx="1111.5" cy="1093.16" r="1.6" fill="#fff"/><path d="M1122.84 1083.97L1124.85 1088.8L1130.07 1089.22L1126.09 1092.63L1127.31 1097.72L1122.84 1094.99L1118.37 1097.72L1119.59 1092.63L1115.61 1089.22L1120.83 1088.8Z" fill="#000080" stroke="#000080" stroke-width="1.5" stroke-linejoin="round"/><circle cx="1124.34" cy="1092.07" r="1.6" fill="#fff"/><path d="M1135.68 1081.58L1137.69 1086.41L1142.91 1086.83L1138.93 1090.24L1140.15 1095.33L1135.68 1092.6L1131.21 1095.33L1132.43 1090.24L1128.45 1086.83L1133.67 1086.41Z" fill="#000080" stroke="#000080" stroke-width="1.5" stroke-linejoin="round"/><circle cx="1137.18" cy="1089.68" r="1.6" fill="#fff"/><path d="M1148.52 1076.8L1150.53 1081.64L1155.75 1082.06L1151.77 1085.46L1152.99 1090.55L1148.52 1087.82L1144.05 1090.55L1145.27 1085.46L1141.29 1082.06L1146.51 1081.64Z" fill="#000080" stroke="#000080" stroke-width="1.5" stroke-linejoin="round"/><circle cx="1150.02" cy="1084.9" r="1.6" fill="#fff"/><path d="M1161.36 1070.04L1163.37 1074.87L1168.59 1075.29L1164.61 1078.69L1165.83 1083.79L1161.36 1081.06L1156.89 1083.79L1158.11 1078.69L1154.13 1075.29L1159.35 1074.87Z" fill="#000080" stroke="#000080" stroke-width="1.5" stroke-linejoin="round"/><circle cx="1162.86" cy="1078.14" r="1.6" fill="#fff"/><path d="M1174.2 1064.46L1176.21 1069.3L1181.43 1069.71L1177.45 1073.12L1178.67 1078.21L1174.2 1075.48L1169.73 1078.21L1170.95 1073.12L1166.97 1069.71L1172.19 1069.3Z" fill="#000080" stroke="#000080" stroke-width="1.5" stroke-linejoin="round"/><circle cx="1175.7" cy="1072.56" r="1.6" fill="#fff"/><path d="M1187.04 1055.31L1189.05 1060.14L1194.27 1060.56L1190.29 1063.96L1191.51 1069.06L1187.04 1066.33L1182.57 1069.06L1183.79 1063.96L1179.81 1060.56L1185.03 1060.14Z" fill="#000080" stroke="#000080" stroke-width="1.5" stroke-linejoin="round"/><circle cx="1188.54" cy="1063.41" r="1.6" fill="#fff"/><path d="M1199.88 1040.98L1201.89 1045.81L1207.11 1046.23L1203.13 1049.63L1204.35 1054.73L1199.88 1052L1195.41 1054.73L1196.63 1049.63L1192.65 1046.23L1197.87 1045.81Z" fill="#000080" stroke="#000080" stroke-width="1.5" stroke-linejoin="round"/><circle cx="1201.38" cy="1049.08" r="1.6" fill="#fff"/><path d="M1212.72 1026.65L1214.73 1031.48L1219.95 1031.9L1215.97 1035.3L1217.19 1040.39L1212.72 1037.67L1208.25 1040.39L1209.47 1035.3L1205.49 1031.9L1210.71 1031.48Z" fill="#000080" stroke="#000080" stroke-width="1.5" stroke-linejoin="round"/><circle cx="1214.22" cy="1034.75" r="1.6" fill="#fff"/><path d="M1225.56 1007.54L1227.57 1012.37L1232.79 1012.79L1228.81 1016.2L1230.03 1021.29L1225.56 1018.56L1221.09 1021.29L1222.31 1016.2L1218.33 1012.79L1223.55 1012.37Z" fill="#000080" stroke="#000080" stroke-width="1.5" stroke-linejoin="round"/><circle cx="1227.06" cy="1015.64" r="1.6" fill="#fff"/><path d="M1238.4 984.45L1240.41 989.28L1245.63 989.7L1241.65 993.11L1242.87 998.2L1238.4 995.47L1233.93 998.2L1235.15 993.11L1231.17 989.7L1236.39 989.28Z" fill="#000080" stroke="#000080" stroke-width="1.5" stroke-linejoin="round"/><circle cx="1239.9" cy="992.55" r="1.6" fill="#fff"/><path d="M1251.24 962.95L1253.25 967.79L1258.47 968.21L1254.49 971.61L1255.71 976.7L1251.24 973.97L1246.77 976.7L1247.99 971.61L1244.01 968.21L1249.23 967.79Z" fill="#000080" stroke="#000080" stroke-width="1.5" stroke-linejoin="round"/><circle cx="1252.74" cy="971.05" r="1.6" fill="#fff"/><path d="M1264.08 939.07L1266.09 943.9L1271.31 944.32L1267.33 947.73L1268.55 952.82L1264.08 950.09L1259.61 952.82L1260.83 947.73L1256.85 944.32L1262.07 943.9Z" fill="#000080" stroke="#000080" stroke-width="1.5" stroke-linejoin="round"/><circle cx="1265.58" cy="947.17" r="1.6" fill="#fff"/><path d="M1276.92 919.17L1278.93 924L1284.15 924.42L1280.17 927.82L1281.39 932.91L1276.92 930.19L1272.45 932.91L1273.67 927.82L1269.69 924.42L1274.91 924Z" fill="#000080" stroke="#000080" stroke-width="1.5" stroke-linejoin="round"/><circle cx="1278.42" cy="927.27" r="1.6" fill="#fff"/><path d="M1289.76 900.06L1291.77 904.89L1296.99 905.31L1293.01 908.71L1294.23 913.81L1289.76 911.08L1285.29 913.81L1286.51 908.71L1282.53 905.31L1287.75 904.89Z" fill="#000080" stroke="#000080" stroke-width="1.5" stroke-linejoin="round"/><circle cx="1291.26" cy="908.16" r="1.6" fill="#fff"/><path d="M1302.6 885.73L1304.61 890.56L1309.83 890.98L1305.85 894.38L1307.07 899.48L1302.6 896.75L1298.13 899.48L1299.35 894.38L1295.37 890.98L1300.59 890.56Z" fill="#000080" stroke="#000080" stroke-width="1.5" stroke-linejoin="round"/><circle cx="1304.1" cy="893.83" r="1.6" fill="#fff"/><path d="M1315.44 877.77L1317.45 882.6L1322.67 883.02L1318.69 886.42L1319.91 891.51L1315.44 888.79L1310.97 891.51L1312.19 886.42L1308.21 883.02L1313.43 882.6Z" fill="#000080" stroke="#000080" stroke-width="1.5" stroke-linejoin="round"/><circle cx="1316.94" cy="885.87" r="1.6" fill="#fff"/><path d="M1328.28 876.17L1330.29 881.01L1335.51 881.42L1331.53 884.83L1332.75 889.92L1328.28 887.19L1323.81 889.92L1325.03 884.83L1321.05 881.42L1326.27 881.01Z" fill="#000080" stroke="#000080" stroke-width="1.5" stroke-linejoin="round"/><circle cx="1329.78" cy="884.27" r="1.6" fill="#fff"/><path d="M1341.12 880.15L1343.13 884.99L1348.35 885.41L1344.37 888.81L1345.59 893.9L1341.12 891.17L1336.65 893.9L1337.87 888.81L1333.89 885.41L1339.11 884.99Z" fill="#000080" stroke="#000080" stroke-width="1.5" stroke-linejoin="round"/><circle cx="1342.62" cy="888.25" r="1.6" fill="#fff"/><path d="M1353.96 892.1L1355.97 896.93L1361.19 897.35L1357.21 900.75L1358.43 905.84L1353.96 903.12L1349.49 905.84L1350.71 900.75L1346.73 897.35L1351.95 896.93Z" fill="#000080" stroke="#000080" stroke-width="1.5" stroke-linejoin="round"/><circle cx="1355.46" cy="900.2" r="1.6" fill="#fff"/><path d="M1366.8 906.43L1368.81 911.26L1374.03 911.68L1370.05 915.08L1371.27 920.18L1366.8 917.45L1362.33 920.18L1363.55 915.08L1359.57 911.68L1364.79 911.26Z" fill="#000080" stroke="#000080" stroke-width="1.5" stroke-linejoin="round"/><circle cx="1368.3" cy="914.53" r="1.6" fill="#fff"/></g><g clip-path="url(#cc)"><path d="M724.8 1093.16L737.64 1093.16L750.48 1093.16L763.32 1093.15L776.16 1093.14L789 1093.14L801.84 1093.12L814.68 1093.11L827.52 1093.09L840.36 1093.08L853.2 1093.06L866.04 1093.04L878.88 1093.01L891.72 1092.99L904.56 1092.96L917.4 1092.93L930.24 1092.9L943.08 1092.87L955.92 1092.84L968.76 1092.8L981.6 1092.76L994.44 1092.72L1007.28 1092.65L1020.12 1092.56L1032.96 1092.45L1045.8 1092.3L1058.64 1092.13L1071.48 1091.8L1084.32 1091.17L1097.16 1089.58L1110 1087.59L1122.84 1085.2L1135.68 1081.22L1148.52 1075.65L1161.36 1067.68L1174.2 1057.33L1187.04 1043.8L1199.88 1026.28L1212.72 1007.18L1225.56 984.88L1238.4 963.39L1251.24 938.71L1264.08 915.62L1276.92 894.12L1289.76 876.61L1302.6 866.26L1315.44 862.28L1328.28 865.46L1341.12 875.81L1353.96 894.12L1366.8 911.64" fill="none" stroke="#ff00ff" stroke-width="3.5" stroke-linejoin="round"/><path d="M724.8 1082.28L732.3 1099.28L717.3 1099.28Z" fill="#fff" stroke="#ff00ff" stroke-width="1.6" stroke-linejoin="miter"/><path d="M724.8 1082.28L726 1099.28L717.3 1099.28Z" fill="#ff00ff"/><path d="M737.64 1082.28L745.14 1099.28L730.14 1099.28Z" fill="#fff" stroke="#ff00ff" stroke-width="1.6" stroke-linejoin="miter"/><path d="M737.64 1082.28L738.84 1099.28L730.14 1099.28Z" fill="#ff00ff"/><path d="M750.48 1082.28L757.98 1099.28L742.98 1099.28Z" fill="#fff" stroke="#ff00ff" stroke-width="1.6" stroke-linejoin="miter"/><path d="M750.48 1082.28L751.68 1099.28L742.98 1099.28Z" fill="#ff00ff"/><path d="M763.32 1082.27L770.82 1099.27L755.82 1099.27Z" fill="#fff" stroke="#ff00ff" stroke-width="1.6" stroke-linejoin="miter"/><path d="M763.32 1082.27L764.52 1099.27L755.82 1099.27Z" fill="#ff00ff"/><path d="M776.16 1082.26L783.66 1099.26L768.66 1099.26Z" fill="#fff" stroke="#ff00ff" stroke-width="1.6" stroke-linejoin="miter"/><path d="M776.16 1082.26L777.36 1099.26L768.66 1099.26Z" fill="#ff00ff"/><path d="M789 1082.26L796.5 1099.26L781.5 1099.26Z" fill="#fff" stroke="#ff00ff" stroke-width="1.6" stroke-linejoin="miter"/><path d="M789 1082.26L790.2 1099.26L781.5 1099.26Z" fill="#ff00ff"/><path d="M801.84 1082.24L809.34 1099.24L794.34 1099.24Z" fill="#fff" stroke="#ff00ff" stroke-width="1.6" stroke-linejoin="miter"/><path d="M801.84 1082.24L803.04 1099.24L794.34 1099.24Z" fill="#ff00ff"/><path d="M814.68 1082.23L822.18 1099.23L807.18 1099.23Z" fill="#fff" stroke="#ff00ff" stroke-width="1.6" stroke-linejoin="miter"/><path d="M814.68 1082.23L815.88 1099.23L807.18 1099.23Z" fill="#ff00ff"/><path d="M827.52 1082.21L835.02 1099.21L820.02 1099.21Z" fill="#fff" stroke="#ff00ff" stroke-width="1.6" stroke-linejoin="miter"/><path d="M827.52 1082.21L828.72 1099.21L820.02 1099.21Z" fill="#ff00ff"/><path d="M840.36 1082.2L847.86 1099.2L832.86 1099.2Z" fill="#fff" stroke="#ff00ff" stroke-width="1.6" stroke-linejoin="miter"/><path d="M840.36 1082.2L841.56 1099.2L832.86 1099.2Z" fill="#ff00ff"/><path d="M853.2 1082.18L860.7 1099.18L845.7 1099.18Z" fill="#fff" stroke="#ff00ff" stroke-width="1.6" stroke-linejoin="miter"/><path d="M853.2 1082.18L854.4 1099.18L845.7 1099.18Z" fill="#ff00ff"/><path d="M866.04 1082.16L873.54 1099.16L858.54 1099.16Z" fill="#fff" stroke="#ff00ff" stroke-width="1.6" stroke-linejoin="miter"/><path d="M866.04 1082.16L867.24 1099.16L858.54 1099.16Z" fill="#ff00ff"/><path d="M878.88 1082.13L886.38 1099.13L871.38 1099.13Z" fill="#fff" stroke="#ff00ff" stroke-width="1.6" stroke-linejoin="miter"/><path d="M878.88 1082.13L880.08 1099.13L871.38 1099.13Z" fill="#ff00ff"/><path d="M891.72 1082.11L899.22 1099.11L884.22 1099.11Z" fill="#fff" stroke="#ff00ff" stroke-width="1.6" stroke-linejoin="miter"/><path d="M891.72 1082.11L892.92 1099.11L884.22 1099.11Z" fill="#ff00ff"/><path d="M904.56 1082.08L912.06 1099.08L897.06 1099.08Z" fill="#fff" stroke="#ff00ff" stroke-width="1.6" stroke-linejoin="miter"/><path d="M904.56 1082.08L905.76 1099.08L897.06 1099.08Z" fill="#ff00ff"/><path d="M917.4 1082.05L924.9 1099.05L909.9 1099.05Z" fill="#fff" stroke="#ff00ff" stroke-width="1.6" stroke-linejoin="miter"/><path d="M917.4 1082.05L918.6 1099.05L909.9 1099.05Z" fill="#ff00ff"/><path d="M930.24 1082.02L937.74 1099.02L922.74 1099.02Z" fill="#fff" stroke="#ff00ff" stroke-width="1.6" stroke-linejoin="miter"/><path d="M930.24 1082.02L931.44 1099.02L922.74 1099.02Z" fill="#ff00ff"/><path d="M943.08 1081.99L950.58 1098.99L935.58 1098.99Z" fill="#fff" stroke="#ff00ff" stroke-width="1.6" stroke-linejoin="miter"/><path d="M943.08 1081.99L944.28 1098.99L935.58 1098.99Z" fill="#ff00ff"/><path d="M955.92 1081.96L963.42 1098.96L948.42 1098.96Z" fill="#fff" stroke="#ff00ff" stroke-width="1.6" stroke-linejoin="miter"/><path d="M955.92 1081.96L957.12 1098.96L948.42 1098.96Z" fill="#ff00ff"/><path d="M968.76 1081.92L976.26 1098.92L961.26 1098.92Z" fill="#fff" stroke="#ff00ff" stroke-width="1.6" stroke-linejoin="miter"/><path d="M968.76 1081.92L969.96 1098.92L961.26 1098.92Z" fill="#ff00ff"/><path d="M981.6 1081.88L989.1 1098.88L974.1 1098.88Z" fill="#fff" stroke="#ff00ff" stroke-width="1.6" stroke-linejoin="miter"/><path d="M981.6 1081.88L982.8 1098.88L974.1 1098.88Z" fill="#ff00ff"/><path d="M994.44 1081.84L1001.94 1098.84L986.94 1098.84Z" fill="#fff" stroke="#ff00ff" stroke-width="1.6" stroke-linejoin="miter"/><path d="M994.44 1081.84L995.64 1098.84L986.94 1098.84Z" fill="#ff00ff"/><path d="M1007.28 1081.77L1014.78 1098.77L999.78 1098.77Z" fill="#fff" stroke="#ff00ff" stroke-width="1.6" stroke-linejoin="miter"/><path d="M1007.28 1081.77L1008.48 1098.77L999.78 1098.77Z" fill="#ff00ff"/><path d="M1020.12 1081.68L1027.62 1098.68L1012.62 1098.68Z" fill="#fff" stroke="#ff00ff" stroke-width="1.6" stroke-linejoin="miter"/><path d="M1020.12 1081.68L1021.32 1098.68L1012.62 1098.68Z" fill="#ff00ff"/><path d="M1032.96 1081.57L1040.46 1098.57L1025.46 1098.57Z" fill="#fff" stroke="#ff00ff" stroke-width="1.6" stroke-linejoin="miter"/><path d="M1032.96 1081.57L1034.16 1098.57L1025.46 1098.57Z" fill="#ff00ff"/><path d="M1045.8 1081.42L1053.3 1098.42L1038.3 1098.42Z" fill="#fff" stroke="#ff00ff" stroke-width="1.6" stroke-linejoin="miter"/><path d="M1045.8 1081.42L1047 1098.42L1038.3 1098.42Z" fill="#ff00ff"/><path d="M1058.64 1081.25L1066.14 1098.25L1051.14 1098.25Z" fill="#fff" stroke="#ff00ff" stroke-width="1.6" stroke-linejoin="miter"/><path d="M1058.64 1081.25L1059.84 1098.25L1051.14 1098.25Z" fill="#ff00ff"/><path d="M1071.48 1080.92L1078.98 1097.92L1063.98 1097.92Z" fill="#fff" stroke="#ff00ff" stroke-width="1.6" stroke-linejoin="miter"/><path d="M1071.48 1080.92L1072.68 1097.92L1063.98 1097.92Z" fill="#ff00ff"/><path d="M1084.32 1080.29L1091.82 1097.29L1076.82 1097.29Z" fill="#fff" stroke="#ff00ff" stroke-width="1.6" stroke-linejoin="miter"/><path d="M1084.32 1080.29L1085.52 1097.29L1076.82 1097.29Z" fill="#ff00ff"/><path d="M1097.16 1078.7L1104.66 1095.7L1089.66 1095.7Z" fill="#fff" stroke="#ff00ff" stroke-width="1.6" stroke-linejoin="miter"/><path d="M1097.16 1078.7L1098.36 1095.7L1089.66 1095.7Z" fill="#ff00ff"/><path d="M1110 1076.71L1117.5 1093.71L1102.5 1093.71Z" fill="#fff" stroke="#ff00ff" stroke-width="1.6" stroke-linejoin="miter"/><path d="M1110 1076.71L1111.2 1093.71L1102.5 1093.71Z" fill="#ff00ff"/><path d="M1122.84 1074.32L1130.34 1091.32L1115.34 1091.32Z" fill="#fff" stroke="#ff00ff" stroke-width="1.6" stroke-linejoin="miter"/><path d="M1122.84 1074.32L1124.04 1091.32L1115.34 1091.32Z" fill="#ff00ff"/><path d="M1135.68 1070.34L1143.18 1087.34L1128.18 1087.34Z" fill="#fff" stroke="#ff00ff" stroke-width="1.6" stroke-linejoin="miter"/><path d="M1135.68 1070.34L1136.88 1087.34L1128.18 1087.34Z" fill="#ff00ff"/><path d="M1148.52 1064.77L1156.02 1081.77L1141.02 1081.77Z" fill="#fff" stroke="#ff00ff" stroke-width="1.6" stroke-linejoin="miter"/><path d="M1148.52 1064.77L1149.72 1081.77L1141.02 1081.77Z" fill="#ff00ff"/><path d="M1161.36 1056.8L1168.86 1073.8L1153.86 1073.8Z" fill="#fff" stroke="#ff00ff" stroke-width="1.6" stroke-linejoin="miter"/><path d="M1161.36 1056.8L1162.56 1073.8L1153.86 1073.8Z" fill="#ff00ff"/><path d="M1174.2 1046.45L1181.7 1063.45L1166.7 1063.45Z" fill="#fff" stroke="#ff00ff" stroke-width="1.6" stroke-linejoin="miter"/><path d="M1174.2 1046.45L1175.4 1063.45L1166.7 1063.45Z" fill="#ff00ff"/><path d="M1187.04 1032.92L1194.54 1049.92L1179.54 1049.92Z" fill="#fff" stroke="#ff00ff" stroke-width="1.6" stroke-linejoin="miter"/><path d="M1187.04 1032.92L1188.24 1049.92L1179.54 1049.92Z" fill="#ff00ff"/><path d="M1199.88 1015.4L1207.38 1032.4L1192.38 1032.4Z" fill="#fff" stroke="#ff00ff" stroke-width="1.6" stroke-linejoin="miter"/><path d="M1199.88 1015.4L1201.08 1032.4L1192.38 1032.4Z" fill="#ff00ff"/><path d="M1212.72 996.3L1220.22 1013.3L1205.22 1013.3Z" fill="#fff" stroke="#ff00ff" stroke-width="1.6" stroke-linejoin="miter"/><path d="M1212.72 996.3L1213.92 1013.3L1205.22 1013.3Z" fill="#ff00ff"/><path d="M1225.56 974L1233.06 991L1218.06 991Z" fill="#fff" stroke="#ff00ff" stroke-width="1.6" stroke-linejoin="miter"/><path d="M1225.56 974L1226.76 991L1218.06 991Z" fill="#ff00ff"/><path d="M1238.4 952.51L1245.9 969.51L1230.9 969.51Z" fill="#fff" stroke="#ff00ff" stroke-width="1.6" stroke-linejoin="miter"/><path d="M1238.4 952.51L1239.6 969.51L1230.9 969.51Z" fill="#ff00ff"/><path d="M1251.24 927.83L1258.74 944.83L1243.74 944.83Z" fill="#fff" stroke="#ff00ff" stroke-width="1.6" stroke-linejoin="miter"/><path d="M1251.24 927.83L1252.44 944.83L1243.74 944.83Z" fill="#ff00ff"/><path d="M1264.08 904.74L1271.58 921.74L1256.58 921.74Z" fill="#fff" stroke="#ff00ff" stroke-width="1.6" stroke-linejoin="miter"/><path d="M1264.08 904.74L1265.28 921.74L1256.58 921.74Z" fill="#ff00ff"/><path d="M1276.92 883.24L1284.42 900.24L1269.42 900.24Z" fill="#fff" stroke="#ff00ff" stroke-width="1.6" stroke-linejoin="miter"/><path d="M1276.92 883.24L1278.12 900.24L1269.42 900.24Z" fill="#ff00ff"/><path d="M1289.76 865.73L1297.26 882.73L1282.26 882.73Z" fill="#fff" stroke="#ff00ff" stroke-width="1.6" stroke-linejoin="miter"/><path d="M1289.76 865.73L1290.96 882.73L1282.26 882.73Z" fill="#ff00ff"/><path d="M1302.6 855.38L1310.1 872.38L1295.1 872.38Z" fill="#fff" stroke="#ff00ff" stroke-width="1.6" stroke-linejoin="miter"/><path d="M1302.6 855.38L1303.8 872.38L1295.1 872.38Z" fill="#ff00ff"/><path d="M1315.44 851.4L1322.94 868.4L1307.94 868.4Z" fill="#fff" stroke="#ff00ff" stroke-width="1.6" stroke-linejoin="miter"/><path d="M1315.44 851.4L1316.64 868.4L1307.94 868.4Z" fill="#ff00ff"/><path d="M1328.28 854.58L1335.78 871.58L1320.78 871.58Z" fill="#fff" stroke="#ff00ff" stroke-width="1.6" stroke-linejoin="miter"/><path d="M1328.28 854.58L1329.48 871.58L1320.78 871.58Z" fill="#ff00ff"/><path d="M1341.12 864.93L1348.62 881.93L1333.62 881.93Z" fill="#fff" stroke="#ff00ff" stroke-width="1.6" stroke-linejoin="miter"/><path d="M1341.12 864.93L1342.32 881.93L1333.62 881.93Z" fill="#ff00ff"/><path d="M1353.96 883.24L1361.46 900.24L1346.46 900.24Z" fill="#fff" stroke="#ff00ff" stroke-width="1.6" stroke-linejoin="miter"/><path d="M1353.96 883.24L1355.16 900.24L1346.46 900.24Z" fill="#ff00ff"/><path d="M1366.8 900.76L1374.3 917.76L1359.3 917.76Z" fill="#fff" stroke="#ff00ff" stroke-width="1.6" stroke-linejoin="miter"/><path d="M1366.8 900.76L1368 917.76L1359.3 917.76Z" fill="#ff00ff"/></g><g clip-path="url(#cc)"><path d="M724.8 1277.47L737.64 1277.47L750.48 1277.47L763.32 1277.47L776.16 1277.47L789 1277.47L801.84 1277.47L814.68 1277.47L827.52 1277.47L840.36 1277.47L853.2 1277.47L866.04 1277.47L878.88 1277.47L891.72 1277.47L904.56 1277.47L917.4 1277.47L930.24 1277.47L943.08 1277.47L955.92 1277.47L968.76 1277.47L981.6 1277.47L994.44 1277.47L1007.28 1277.47L1020.12 1277.47L1032.96 1277.47L1045.8 1277.47L1058.64 1277.47L1071.48 1277.47L1084.32 1277.47L1097.16 1277.47L1110 1277.47L1122.84 1277.47L1135.68 1277.47L1148.52 1277.47L1161.36 1276.75L1174.2 1275.4L1187.04 1273.92L1199.88 1271.85L1212.72 1267.11L1225.56 1258.23L1238.4 1242.84L1251.24 1216.2L1264.08 1184.23L1276.92 1143.09L1289.76 1095.73L1302.6 1044.22L1315.44 994.2L1328.28 959.86L1341.12 938.55L1353.96 921.98L1366.8 941.51" fill="none" stroke="#008000" stroke-width="3.4" stroke-linejoin="round"/><circle cx="724.8" cy="1277.47" r="6" fill="#fff" stroke="#008000" stroke-width="1.8"/><path d="M724.8 1271.47A6 6 0 0 0 724.8 1283.47Z" fill="#008000"/><circle cx="737.64" cy="1277.47" r="6" fill="#fff" stroke="#008000" stroke-width="1.8"/><path d="M737.64 1271.47A6 6 0 0 0 737.64 1283.47Z" fill="#008000"/><circle cx="750.48" cy="1277.47" r="6" fill="#fff" stroke="#008000" stroke-width="1.8"/><path d="M750.48 1271.47A6 6 0 0 0 750.48 1283.47Z" fill="#008000"/><circle cx="763.32" cy="1277.47" r="6" fill="#fff" stroke="#008000" stroke-width="1.8"/><path d="M763.32 1271.47A6 6 0 0 0 763.32 1283.47Z" fill="#008000"/><circle cx="776.16" cy="1277.47" r="6" fill="#fff" stroke="#008000" stroke-width="1.8"/><path d="M776.16 1271.47A6 6 0 0 0 776.16 1283.47Z" fill="#008000"/><circle cx="789" cy="1277.47" r="6" fill="#fff" stroke="#008000" stroke-width="1.8"/><path d="M789 1271.47A6 6 0 0 0 789 1283.47Z" fill="#008000"/><circle cx="801.84" cy="1277.47" r="6" fill="#fff" stroke="#008000" stroke-width="1.8"/><path d="M801.84 1271.47A6 6 0 0 0 801.84 1283.47Z" fill="#008000"/><circle cx="814.68" cy="1277.47" r="6" fill="#fff" stroke="#008000" stroke-width="1.8"/><path d="M814.68 1271.47A6 6 0 0 0 814.68 1283.47Z" fill="#008000"/><circle cx="827.52" cy="1277.47" r="6" fill="#fff" stroke="#008000" stroke-width="1.8"/><path d="M827.52 1271.47A6 6 0 0 0 827.52 1283.47Z" fill="#008000"/><circle cx="840.36" cy="1277.47" r="6" fill="#fff" stroke="#008000" stroke-width="1.8"/><path d="M840.36 1271.47A6 6 0 0 0 840.36 1283.47Z" fill="#008000"/><circle cx="853.2" cy="1277.47" r="6" fill="#fff" stroke="#008000" stroke-width="1.8"/><path d="M853.2 1271.47A6 6 0 0 0 853.2 1283.47Z" fill="#008000"/><circle cx="866.04" cy="1277.47" r="6" fill="#fff" stroke="#008000" stroke-width="1.8"/><path d="M866.04 1271.47A6 6 0 0 0 866.04 1283.47Z" fill="#008000"/><circle cx="878.88" cy="1277.47" r="6" fill="#fff" stroke="#008000" stroke-width="1.8"/><path d="M878.88 1271.47A6 6 0 0 0 878.88 1283.47Z" fill="#008000"/><circle cx="891.72" cy="1277.47" r="6" fill="#fff" stroke="#008000" stroke-width="1.8"/><path d="M891.72 1271.47A6 6 0 0 0 891.72 1283.47Z" fill="#008000"/><circle cx="904.56" cy="1277.47" r="6" fill="#fff" stroke="#008000" stroke-width="1.8"/><path d="M904.56 1271.47A6 6 0 0 0 904.56 1283.47Z" fill="#008000"/><circle cx="917.4" cy="1277.47" r="6" fill="#fff" stroke="#008000" stroke-width="1.8"/><path d="M917.4 1271.47A6 6 0 0 0 917.4 1283.47Z" fill="#008000"/><circle cx="930.24" cy="1277.47" r="6" fill="#fff" stroke="#008000" stroke-width="1.8"/><path d="M930.24 1271.47A6 6 0 0 0 930.24 1283.47Z" fill="#008000"/><circle cx="943.08" cy="1277.47" r="6" fill="#fff" stroke="#008000" stroke-width="1.8"/><path d="M943.08 1271.47A6 6 0 0 0 943.08 1283.47Z" fill="#008000"/><circle cx="955.92" cy="1277.47" r="6" fill="#fff" stroke="#008000" stroke-width="1.8"/><path d="M955.92 1271.47A6 6 0 0 0 955.92 1283.47Z" fill="#008000"/><circle cx="968.76" cy="1277.47" r="6" fill="#fff" stroke="#008000" stroke-width="1.8"/><path d="M968.76 1271.47A6 6 0 0 0 968.76 1283.47Z" fill="#008000"/><circle cx="981.6" cy="1277.47" r="6" fill="#fff" stroke="#008000" stroke-width="1.8"/><path d="M981.6 1271.47A6 6 0 0 0 981.6 1283.47Z" fill="#008000"/><circle cx="994.44" cy="1277.47" r="6" fill="#fff" stroke="#008000" stroke-width="1.8"/><path d="M994.44 1271.47A6 6 0 0 0 994.44 1283.47Z" fill="#008000"/><circle cx="1007.28" cy="1277.47" r="6" fill="#fff" stroke="#008000" stroke-width="1.8"/><path d="M1007.28 1271.47A6 6 0 0 0 1007.28 1283.47Z" fill="#008000"/><circle cx="1020.12" cy="1277.47" r="6" fill="#fff" stroke="#008000" stroke-width="1.8"/><path d="M1020.12 1271.47A6 6 0 0 0 1020.12 1283.47Z" fill="#008000"/><circle cx="1032.96" cy="1277.47" r="6" fill="#fff" stroke="#008000" stroke-width="1.8"/><path d="M1032.96 1271.47A6 6 0 0 0 1032.96 1283.47Z" fill="#008000"/><circle cx="1045.8" cy="1277.47" r="6" fill="#fff" stroke="#008000" stroke-width="1.8"/><path d="M1045.8 1271.47A6 6 0 0 0 1045.8 1283.47Z" fill="#008000"/><circle cx="1058.64" cy="1277.47" r="6" fill="#fff" stroke="#008000" stroke-width="1.8"/><path d="M1058.64 1271.47A6 6 0 0 0 1058.64 1283.47Z" fill="#008000"/><circle cx="1071.48" cy="1277.47" r="6" fill="#fff" stroke="#008000" stroke-width="1.8"/><path d="M1071.48 1271.47A6 6 0 0 0 1071.48 1283.47Z" fill="#008000"/><circle cx="1084.32" cy="1277.47" r="6" fill="#fff" stroke="#008000" stroke-width="1.8"/><path d="M1084.32 1271.47A6 6 0 0 0 1084.32 1283.47Z" fill="#008000"/><circle cx="1097.16" cy="1277.47" r="6" fill="#fff" stroke="#008000" stroke-width="1.8"/><path d="M1097.16 1271.47A6 6 0 0 0 1097.16 1283.47Z" fill="#008000"/><circle cx="1110" cy="1277.47" r="6" fill="#fff" stroke="#008000" stroke-width="1.8"/><path d="M1110 1271.47A6 6 0 0 0 1110 1283.47Z" fill="#008000"/><circle cx="1122.84" cy="1277.47" r="6" fill="#fff" stroke="#008000" stroke-width="1.8"/><path d="M1122.84 1271.47A6 6 0 0 0 1122.84 1283.47Z" fill="#008000"/><circle cx="1135.68" cy="1277.47" r="6" fill="#fff" stroke="#008000" stroke-width="1.8"/><path d="M1135.68 1271.47A6 6 0 0 0 1135.68 1283.47Z" fill="#008000"/><circle cx="1148.52" cy="1277.47" r="6" fill="#fff" stroke="#008000" stroke-width="1.8"/><path d="M1148.52 1271.47A6 6 0 0 0 1148.52 1283.47Z" fill="#008000"/><circle cx="1161.36" cy="1276.75" r="6" fill="#fff" stroke="#008000" stroke-width="1.8"/><path d="M1161.36 1270.75A6 6 0 0 0 1161.36 1282.75Z" fill="#008000"/><circle cx="1174.2" cy="1275.4" r="6" fill="#fff" stroke="#008000" stroke-width="1.8"/><path d="M1174.2 1269.4A6 6 0 0 0 1174.2 1281.4Z" fill="#008000"/><circle cx="1187.04" cy="1273.92" r="6" fill="#fff" stroke="#008000" stroke-width="1.8"/><path d="M1187.04 1267.92A6 6 0 0 0 1187.04 1279.92Z" fill="#008000"/><circle cx="1199.88" cy="1271.85" r="6" fill="#fff" stroke="#008000" stroke-width="1.8"/><path d="M1199.88 1265.85A6 6 0 0 0 1199.88 1277.85Z" fill="#008000"/><circle cx="1212.72" cy="1267.11" r="6" fill="#fff" stroke="#008000" stroke-width="1.8"/><path d="M1212.72 1261.11A6 6 0 0 0 1212.72 1273.11Z" fill="#008000"/><circle cx="1225.56" cy="1258.23" r="6" fill="#fff" stroke="#008000" stroke-width="1.8"/><path d="M1225.56 1252.23A6 6 0 0 0 1225.56 1264.23Z" fill="#008000"/><circle cx="1238.4" cy="1242.84" r="6" fill="#fff" stroke="#008000" stroke-width="1.8"/><path d="M1238.4 1236.84A6 6 0 0 0 1238.4 1248.84Z" fill="#008000"/><circle cx="1251.24" cy="1216.2" r="6" fill="#fff" stroke="#008000" stroke-width="1.8"/><path d="M1251.24 1210.2A6 6 0 0 0 1251.24 1222.2Z" fill="#008000"/><circle cx="1264.08" cy="1184.23" r="6" fill="#fff" stroke="#008000" stroke-width="1.8"/><path d="M1264.08 1178.23A6 6 0 0 0 1264.08 1190.23Z" fill="#008000"/><circle cx="1276.92" cy="1143.09" r="6" fill="#fff" stroke="#008000" stroke-width="1.8"/><path d="M1276.92 1137.09A6 6 0 0 0 1276.92 1149.09Z" fill="#008000"/><circle cx="1289.76" cy="1095.73" r="6" fill="#fff" stroke="#008000" stroke-width="1.8"/><path d="M1289.76 1089.73A6 6 0 0 0 1289.76 1101.73Z" fill="#008000"/><circle cx="1302.6" cy="1044.22" r="6" fill="#fff" stroke="#008000" stroke-width="1.8"/><path d="M1302.6 1038.22A6 6 0 0 0 1302.6 1050.22Z" fill="#008000"/><circle cx="1315.44" cy="994.2" r="6" fill="#fff" stroke="#008000" stroke-width="1.8"/><path d="M1315.44 988.2A6 6 0 0 0 1315.44 1000.2Z" fill="#008000"/><circle cx="1328.28" cy="959.86" r="6" fill="#fff" stroke="#008000" stroke-width="1.8"/><path d="M1328.28 953.86A6 6 0 0 0 1328.28 965.86Z" fill="#008000"/><circle cx="1341.12" cy="938.55" r="6" fill="#fff" stroke="#008000" stroke-width="1.8"/><path d="M1341.12 932.55A6 6 0 0 0 1341.12 944.55Z" fill="#008000"/><circle cx="1353.96" cy="921.98" r="6" fill="#fff" stroke="#008000" stroke-width="1.8"/><path d="M1353.96 915.98A6 6 0 0 0 1353.96 927.98Z" fill="#008000"/><circle cx="1366.8" cy="941.51" r="6" fill="#fff" stroke="#008000" stroke-width="1.8"/><path d="M1366.8 935.51A6 6 0 0 0 1366.8 947.51Z" fill="#008000"/></g><g clip-path="url(#cc)"><path d="M724.8 1277.47L737.64 1277.47L750.48 1277.47L763.32 1277.47L776.16 1277.47L789 1277.47L801.84 1277.47L814.68 1277.47L827.52 1277.47L840.36 1277.47L853.2 1277.47L866.04 1277.47L878.88 1277.47L891.72 1277.47L904.56 1277.47L917.4 1277.47L930.24 1277.47L943.08 1277.47L955.92 1277.47L968.76 1277.47L981.6 1277.47L994.44 1277.47L1007.28 1277.47L1020.12 1277.47L1032.96 1277.47L1045.8 1277.47L1058.64 1277.47L1071.48 1277.47L1084.32 1277.47L1097.16 1277.47L1110 1277.47L1122.84 1277.47L1135.68 1277.47L1148.52 1277.47L1161.36 1277.47L1174.2 1277.12L1187.04 1276.29L1199.88 1274.51L1212.72 1272.44L1225.56 1267.11L1238.4 1256.16L1251.24 1240.47L1264.08 1214.72L1276.92 1185.12L1289.76 1145.16L1302.6 1103.72L1315.44 1056.36L1328.28 1021.73L1341.12 999.82L1353.96 986.8L1366.8 1009" fill="none" stroke="#000080" stroke-width="3.4" stroke-linejoin="round"/><path d="M724.8 1269.87L726.81 1274.71L732.03 1275.12L728.05 1278.53L729.27 1283.62L724.8 1280.89L720.33 1283.62L721.55 1278.53L717.57 1275.12L722.79 1274.71Z" fill="#000080" stroke="#000080" stroke-width="1.5" stroke-linejoin="round"/><circle cx="726.3" cy="1277.97" r="1.6" fill="#fff"/><path d="M737.64 1269.87L739.65 1274.71L744.87 1275.12L740.89 1278.53L742.11 1283.62L737.64 1280.89L733.17 1283.62L734.39 1278.53L730.41 1275.12L735.63 1274.71Z" fill="#000080" stroke="#000080" stroke-width="1.5" stroke-linejoin="round"/><circle cx="739.14" cy="1277.97" r="1.6" fill="#fff"/><path d="M750.48 1269.87L752.49 1274.71L757.71 1275.12L753.73 1278.53L754.95 1283.62L750.48 1280.89L746.01 1283.62L747.23 1278.53L743.25 1275.12L748.47 1274.71Z" fill="#000080" stroke="#000080" stroke-width="1.5" stroke-linejoin="round"/><circle cx="751.98" cy="1277.97" r="1.6" fill="#fff"/><path d="M763.32 1269.87L765.33 1274.71L770.55 1275.12L766.57 1278.53L767.79 1283.62L763.32 1280.89L758.85 1283.62L760.07 1278.53L756.09 1275.12L761.31 1274.71Z" fill="#000080" stroke="#000080" stroke-width="1.5" stroke-linejoin="round"/><circle cx="764.82" cy="1277.97" r="1.6" fill="#fff"/><path d="M776.16 1269.87L778.17 1274.71L783.39 1275.12L779.41 1278.53L780.63 1283.62L776.16 1280.89L771.69 1283.62L772.91 1278.53L768.93 1275.12L774.15 1274.71Z" fill="#000080" stroke="#000080" stroke-width="1.5" stroke-linejoin="round"/><circle cx="777.66" cy="1277.97" r="1.6" fill="#fff"/><path d="M789 1269.87L791.01 1274.71L796.23 1275.12L792.25 1278.53L793.47 1283.62L789 1280.89L784.53 1283.62L785.75 1278.53L781.77 1275.12L786.99 1274.71Z" fill="#000080" stroke="#000080" stroke-width="1.5" stroke-linejoin="round"/><circle cx="790.5" cy="1277.97" r="1.6" fill="#fff"/><path d="M801.84 1269.87L803.85 1274.71L809.07 1275.12L805.09 1278.53L806.31 1283.62L801.84 1280.89L797.37 1283.62L798.59 1278.53L794.61 1275.12L799.83 1274.71Z" fill="#000080" stroke="#000080" stroke-width="1.5" stroke-linejoin="round"/><circle cx="803.34" cy="1277.97" r="1.6" fill="#fff"/><path d="M814.68 1269.87L816.69 1274.71L821.91 1275.12L817.93 1278.53L819.15 1283.62L814.68 1280.89L810.21 1283.62L811.43 1278.53L807.45 1275.12L812.67 1274.71Z" fill="#000080" stroke="#000080" stroke-width="1.5" stroke-linejoin="round"/><circle cx="816.18" cy="1277.97" r="1.6" fill="#fff"/><path d="M827.52 1269.87L829.53 1274.71L834.75 1275.12L830.77 1278.53L831.99 1283.62L827.52 1280.89L823.05 1283.62L824.27 1278.53L820.29 1275.12L825.51 1274.71Z" fill="#000080" stroke="#000080" stroke-width="1.5" stroke-linejoin="round"/><circle cx="829.02" cy="1277.97" r="1.6" fill="#fff"/><path d="M840.36 1269.87L842.37 1274.71L847.59 1275.12L843.61 1278.53L844.83 1283.62L840.36 1280.89L835.89 1283.62L837.11 1278.53L833.13 1275.12L838.35 1274.71Z" fill="#000080" stroke="#000080" stroke-width="1.5" stroke-linejoin="round"/><circle cx="841.86" cy="1277.97" r="1.6" fill="#fff"/><path d="M853.2 1269.87L855.21 1274.71L860.43 1275.12L856.45 1278.53L857.67 1283.62L853.2 1280.89L848.73 1283.62L849.95 1278.53L845.97 1275.12L851.19 1274.71Z" fill="#000080" stroke="#000080" stroke-width="1.5" stroke-linejoin="round"/><circle cx="854.7" cy="1277.97" r="1.6" fill="#fff"/><path d="M866.04 1269.87L868.05 1274.71L873.27 1275.12L869.29 1278.53L870.51 1283.62L866.04 1280.89L861.57 1283.62L862.79 1278.53L858.81 1275.12L864.03 1274.71Z" fill="#000080" stroke="#000080" stroke-width="1.5" stroke-linejoin="round"/><circle cx="867.54" cy="1277.97" r="1.6" fill="#fff"/><path d="M878.88 1269.87L880.89 1274.71L886.11 1275.12L882.13 1278.53L883.35 1283.62L878.88 1280.89L874.41 1283.62L875.63 1278.53L871.65 1275.12L876.87 1274.71Z" fill="#000080" stroke="#000080" stroke-width="1.5" stroke-linejoin="round"/><circle cx="880.38" cy="1277.97" r="1.6" fill="#fff"/><path d="M891.72 1269.87L893.73 1274.71L898.95 1275.12L894.97 1278.53L896.19 1283.62L891.72 1280.89L887.25 1283.62L888.47 1278.53L884.49 1275.12L889.71 1274.71Z" fill="#000080" stroke="#000080" stroke-width="1.5" stroke-linejoin="round"/><circle cx="893.22" cy="1277.97" r="1.6" fill="#fff"/><path d="M904.56 1269.87L906.57 1274.71L911.79 1275.12L907.81 1278.53L909.03 1283.62L904.56 1280.89L900.09 1283.62L901.31 1278.53L897.33 1275.12L902.55 1274.71Z" fill="#000080" stroke="#000080" stroke-width="1.5" stroke-linejoin="round"/><circle cx="906.06" cy="1277.97" r="1.6" fill="#fff"/><path d="M917.4 1269.87L919.41 1274.71L924.63 1275.12L920.65 1278.53L921.87 1283.62L917.4 1280.89L912.93 1283.62L914.15 1278.53L910.17 1275.12L915.39 1274.71Z" fill="#000080" stroke="#000080" stroke-width="1.5" stroke-linejoin="round"/><circle cx="918.9" cy="1277.97" r="1.6" fill="#fff"/><path d="M930.24 1269.87L932.25 1274.71L937.47 1275.12L933.49 1278.53L934.71 1283.62L930.24 1280.89L925.77 1283.62L926.99 1278.53L923.01 1275.12L928.23 1274.71Z" fill="#000080" stroke="#000080" stroke-width="1.5" stroke-linejoin="round"/><circle cx="931.74" cy="1277.97" r="1.6" fill="#fff"/><path d="M943.08 1269.87L945.09 1274.71L950.31 1275.12L946.33 1278.53L947.55 1283.62L943.08 1280.89L938.61 1283.62L939.83 1278.53L935.85 1275.12L941.07 1274.71Z" fill="#000080" stroke="#000080" stroke-width="1.5" stroke-linejoin="round"/><circle cx="944.58" cy="1277.97" r="1.6" fill="#fff"/><path d="M955.92 1269.87L957.93 1274.71L963.15 1275.12L959.17 1278.53L960.39 1283.62L955.92 1280.89L951.45 1283.62L952.67 1278.53L948.69 1275.12L953.91 1274.71Z" fill="#000080" stroke="#000080" stroke-width="1.5" stroke-linejoin="round"/><circle cx="957.42" cy="1277.97" r="1.6" fill="#fff"/><path d="M968.76 1269.87L970.77 1274.71L975.99 1275.12L972.01 1278.53L973.23 1283.62L968.76 1280.89L964.29 1283.62L965.51 1278.53L961.53 1275.12L966.75 1274.71Z" fill="#000080" stroke="#000080" stroke-width="1.5" stroke-linejoin="round"/><circle cx="970.26" cy="1277.97" r="1.6" fill="#fff"/><path d="M981.6 1269.87L983.61 1274.71L988.83 1275.12L984.85 1278.53L986.07 1283.62L981.6 1280.89L977.13 1283.62L978.35 1278.53L974.37 1275.12L979.59 1274.71Z" fill="#000080" stroke="#000080" stroke-width="1.5" stroke-linejoin="round"/><circle cx="983.1" cy="1277.97" r="1.6" fill="#fff"/><path d="M994.44 1269.87L996.45 1274.71L1001.67 1275.12L997.69 1278.53L998.91 1283.62L994.44 1280.89L989.97 1283.62L991.19 1278.53L987.21 1275.12L992.43 1274.71Z" fill="#000080" stroke="#000080" stroke-width="1.5" stroke-linejoin="round"/><circle cx="995.94" cy="1277.97" r="1.6" fill="#fff"/><path d="M1007.28 1269.87L1009.29 1274.71L1014.51 1275.12L1010.53 1278.53L1011.75 1283.62L1007.28 1280.89L1002.81 1283.62L1004.03 1278.53L1000.05 1275.12L1005.27 1274.71Z" fill="#000080" stroke="#000080" stroke-width="1.5" stroke-linejoin="round"/><circle cx="1008.78" cy="1277.97" r="1.6" fill="#fff"/><path d="M1020.12 1269.87L1022.13 1274.71L1027.35 1275.12L1023.37 1278.53L1024.59 1283.62L1020.12 1280.89L1015.65 1283.62L1016.87 1278.53L1012.89 1275.12L1018.11 1274.71Z" fill="#000080" stroke="#000080" stroke-width="1.5" stroke-linejoin="round"/><circle cx="1021.62" cy="1277.97" r="1.6" fill="#fff"/><path d="M1032.96 1269.87L1034.97 1274.71L1040.19 1275.12L1036.21 1278.53L1037.43 1283.62L1032.96 1280.89L1028.49 1283.62L1029.71 1278.53L1025.73 1275.12L1030.95 1274.71Z" fill="#000080" stroke="#000080" stroke-width="1.5" stroke-linejoin="round"/><circle cx="1034.46" cy="1277.97" r="1.6" fill="#fff"/><path d="M1045.8 1269.87L1047.81 1274.71L1053.03 1275.12L1049.05 1278.53L1050.27 1283.62L1045.8 1280.89L1041.33 1283.62L1042.55 1278.53L1038.57 1275.12L1043.79 1274.71Z" fill="#000080" stroke="#000080" stroke-width="1.5" stroke-linejoin="round"/><circle cx="1047.3" cy="1277.97" r="1.6" fill="#fff"/><path d="M1058.64 1269.87L1060.65 1274.71L1065.87 1275.12L1061.89 1278.53L1063.11 1283.62L1058.64 1280.89L1054.17 1283.62L1055.39 1278.53L1051.41 1275.12L1056.63 1274.71Z" fill="#000080" stroke="#000080" stroke-width="1.5" stroke-linejoin="round"/><circle cx="1060.14" cy="1277.97" r="1.6" fill="#fff"/><path d="M1071.48 1269.87L1073.49 1274.71L1078.71 1275.12L1074.73 1278.53L1075.95 1283.62L1071.48 1280.89L1067.01 1283.62L1068.23 1278.53L1064.25 1275.12L1069.47 1274.71Z" fill="#000080" stroke="#000080" stroke-width="1.5" stroke-linejoin="round"/><circle cx="1072.98" cy="1277.97" r="1.6" fill="#fff"/><path d="M1084.32 1269.87L1086.33 1274.71L1091.55 1275.12L1087.57 1278.53L1088.79 1283.62L1084.32 1280.89L1079.85 1283.62L1081.07 1278.53L1077.09 1275.12L1082.31 1274.71Z" fill="#000080" stroke="#000080" stroke-width="1.5" stroke-linejoin="round"/><circle cx="1085.82" cy="1277.97" r="1.6" fill="#fff"/><path d="M1097.16 1269.87L1099.17 1274.71L1104.39 1275.12L1100.41 1278.53L1101.63 1283.62L1097.16 1280.89L1092.69 1283.62L1093.91 1278.53L1089.93 1275.12L1095.15 1274.71Z" fill="#000080" stroke="#000080" stroke-width="1.5" stroke-linejoin="round"/><circle cx="1098.66" cy="1277.97" r="1.6" fill="#fff"/><path d="M1110 1269.87L1112.01 1274.71L1117.23 1275.12L1113.25 1278.53L1114.47 1283.62L1110 1280.89L1105.53 1283.62L1106.75 1278.53L1102.77 1275.12L1107.99 1274.71Z" fill="#000080" stroke="#000080" stroke-width="1.5" stroke-linejoin="round"/><circle cx="1111.5" cy="1277.97" r="1.6" fill="#fff"/><path d="M1122.84 1269.87L1124.85 1274.71L1130.07 1275.12L1126.09 1278.53L1127.31 1283.62L1122.84 1280.89L1118.37 1283.62L1119.59 1278.53L1115.61 1275.12L1120.83 1274.71Z" fill="#000080" stroke="#000080" stroke-width="1.5" stroke-linejoin="round"/><circle cx="1124.34" cy="1277.97" r="1.6" fill="#fff"/><path d="M1135.68 1269.87L1137.69 1274.71L1142.91 1275.12L1138.93 1278.53L1140.15 1283.62L1135.68 1280.89L1131.21 1283.62L1132.43 1278.53L1128.45 1275.12L1133.67 1274.71Z" fill="#000080" stroke="#000080" stroke-width="1.5" stroke-linejoin="round"/><circle cx="1137.18" cy="1277.97" r="1.6" fill="#fff"/><path d="M1148.52 1269.87L1150.53 1274.71L1155.75 1275.12L1151.77 1278.53L1152.99 1283.62L1148.52 1280.89L1144.05 1283.62L1145.27 1278.53L1141.29 1275.12L1146.51 1274.71Z" fill="#000080" stroke="#000080" stroke-width="1.5" stroke-linejoin="round"/><circle cx="1150.02" cy="1277.97" r="1.6" fill="#fff"/><path d="M1161.36 1269.87L1163.37 1274.71L1168.59 1275.12L1164.61 1278.53L1165.83 1283.62L1161.36 1280.89L1156.89 1283.62L1158.11 1278.53L1154.13 1275.12L1159.35 1274.71Z" fill="#000080" stroke="#000080" stroke-width="1.5" stroke-linejoin="round"/><circle cx="1162.86" cy="1277.97" r="1.6" fill="#fff"/><path d="M1174.2 1269.52L1176.21 1274.35L1181.43 1274.77L1177.45 1278.17L1178.67 1283.26L1174.2 1280.54L1169.73 1283.26L1170.95 1278.17L1166.97 1274.77L1172.19 1274.35Z" fill="#000080" stroke="#000080" stroke-width="1.5" stroke-linejoin="round"/><circle cx="1175.7" cy="1277.62" r="1.6" fill="#fff"/><path d="M1187.04 1268.69L1189.05 1273.52L1194.27 1273.94L1190.29 1277.34L1191.51 1282.44L1187.04 1279.71L1182.57 1282.44L1183.79 1277.34L1179.81 1273.94L1185.03 1273.52Z" fill="#000080" stroke="#000080" stroke-width="1.5" stroke-linejoin="round"/><circle cx="1188.54" cy="1276.79" r="1.6" fill="#fff"/><path d="M1199.88 1266.91L1201.89 1271.75L1207.11 1272.16L1203.13 1275.57L1204.35 1280.66L1199.88 1277.93L1195.41 1280.66L1196.63 1275.57L1192.65 1272.16L1197.87 1271.75Z" fill="#000080" stroke="#000080" stroke-width="1.5" stroke-linejoin="round"/><circle cx="1201.38" cy="1275.01" r="1.6" fill="#fff"/><path d="M1212.72 1264.84L1214.73 1269.67L1219.95 1270.09L1215.97 1273.5L1217.19 1278.59L1212.72 1275.86L1208.25 1278.59L1209.47 1273.5L1205.49 1270.09L1210.71 1269.67Z" fill="#000080" stroke="#000080" stroke-width="1.5" stroke-linejoin="round"/><circle cx="1214.22" cy="1272.94" r="1.6" fill="#fff"/><path d="M1225.56 1259.51L1227.57 1264.35L1232.79 1264.76L1228.81 1268.17L1230.03 1273.26L1225.56 1270.53L1221.09 1273.26L1222.31 1268.17L1218.33 1264.76L1223.55 1264.35Z" fill="#000080" stroke="#000080" stroke-width="1.5" stroke-linejoin="round"/><circle cx="1227.06" cy="1267.61" r="1.6" fill="#fff"/><path d="M1238.4 1248.56L1240.41 1253.39L1245.63 1253.81L1241.65 1257.22L1242.87 1262.31L1238.4 1259.58L1233.93 1262.31L1235.15 1257.22L1231.17 1253.81L1236.39 1253.39Z" fill="#000080" stroke="#000080" stroke-width="1.5" stroke-linejoin="round"/><circle cx="1239.9" cy="1256.66" r="1.6" fill="#fff"/><path d="M1251.24 1232.87L1253.25 1237.71L1258.47 1238.12L1254.49 1241.53L1255.71 1246.62L1251.24 1243.89L1246.77 1246.62L1247.99 1241.53L1244.01 1238.12L1249.23 1237.71Z" fill="#000080" stroke="#000080" stroke-width="1.5" stroke-linejoin="round"/><circle cx="1252.74" cy="1240.97" r="1.6" fill="#fff"/><path d="M1264.08 1207.12L1266.09 1211.95L1271.31 1212.37L1267.33 1215.78L1268.55 1220.87L1264.08 1218.14L1259.61 1220.87L1260.83 1215.78L1256.85 1212.37L1262.07 1211.95Z" fill="#000080" stroke="#000080" stroke-width="1.5" stroke-linejoin="round"/><circle cx="1265.58" cy="1215.22" r="1.6" fill="#fff"/><path d="M1276.92 1177.52L1278.93 1182.35L1284.15 1182.77L1280.17 1186.18L1281.39 1191.27L1276.92 1188.54L1272.45 1191.27L1273.67 1186.18L1269.69 1182.77L1274.91 1182.35Z" fill="#000080" stroke="#000080" stroke-width="1.5" stroke-linejoin="round"/><circle cx="1278.42" cy="1185.62" r="1.6" fill="#fff"/><path d="M1289.76 1137.56L1291.77 1142.39L1296.99 1142.81L1293.01 1146.22L1294.23 1151.31L1289.76 1148.58L1285.29 1151.31L1286.51 1146.22L1282.53 1142.81L1287.75 1142.39Z" fill="#000080" stroke="#000080" stroke-width="1.5" stroke-linejoin="round"/><circle cx="1291.26" cy="1145.66" r="1.6" fill="#fff"/><path d="M1302.6 1096.12L1304.61 1100.95L1309.83 1101.37L1305.85 1104.78L1307.07 1109.87L1302.6 1107.14L1298.13 1109.87L1299.35 1104.78L1295.37 1101.37L1300.59 1100.95Z" fill="#000080" stroke="#000080" stroke-width="1.5" stroke-linejoin="round"/><circle cx="1304.1" cy="1104.22" r="1.6" fill="#fff"/><path d="M1315.44 1048.76L1317.45 1053.59L1322.67 1054.01L1318.69 1057.42L1319.91 1062.51L1315.44 1059.78L1310.97 1062.51L1312.19 1057.42L1308.21 1054.01L1313.43 1053.59Z" fill="#000080" stroke="#000080" stroke-width="1.5" stroke-linejoin="round"/><circle cx="1316.94" cy="1056.86" r="1.6" fill="#fff"/><path d="M1328.28 1014.13L1330.29 1018.96L1335.51 1019.38L1331.53 1022.78L1332.75 1027.88L1328.28 1025.15L1323.81 1027.88L1325.03 1022.78L1321.05 1019.38L1326.27 1018.96Z" fill="#000080" stroke="#000080" stroke-width="1.5" stroke-linejoin="round"/><circle cx="1329.78" cy="1022.23" r="1.6" fill="#fff"/><path d="M1341.12 992.22L1343.13 997.06L1348.35 997.48L1344.37 1000.88L1345.59 1005.97L1341.12 1003.24L1336.65 1005.97L1337.87 1000.88L1333.89 997.48L1339.11 997.06Z" fill="#000080" stroke="#000080" stroke-width="1.5" stroke-linejoin="round"/><circle cx="1342.62" cy="1000.32" r="1.6" fill="#fff"/><path d="M1353.96 979.2L1355.97 984.03L1361.19 984.45L1357.21 987.86L1358.43 992.95L1353.96 990.22L1349.49 992.95L1350.71 987.86L1346.73 984.45L1351.95 984.03Z" fill="#000080" stroke="#000080" stroke-width="1.5" stroke-linejoin="round"/><circle cx="1355.46" cy="987.3" r="1.6" fill="#fff"/><path d="M1366.8 1001.4L1368.81 1006.23L1374.03 1006.65L1370.05 1010.06L1371.27 1015.15L1366.8 1012.42L1362.33 1015.15L1363.55 1010.06L1359.57 1006.65L1364.79 1006.23Z" fill="#000080" stroke="#000080" stroke-width="1.5" stroke-linejoin="round"/><circle cx="1368.3" cy="1009.5" r="1.6" fill="#fff"/></g><g clip-path="url(#cc)"><path d="M724.8 1277.47L737.64 1277.47L750.48 1277.47L763.32 1277.47L776.16 1277.47L789 1277.47L801.84 1277.47L814.68 1277.47L827.52 1277.47L840.36 1277.47L853.2 1277.47L866.04 1277.47L878.88 1277.47L891.72 1277.47L904.56 1277.47L917.4 1277.47L930.24 1277.47L943.08 1277.47L955.92 1277.47L968.76 1277.47L981.6 1277.47L994.44 1277.47L1007.28 1277.47L1020.12 1277.47L1032.96 1277.47L1045.8 1277.47L1058.64 1277.47L1071.48 1277.47L1084.32 1277.47L1097.16 1277.47L1110 1277.47L1122.84 1277.47L1135.68 1277.47L1148.52 1277.47L1161.36 1277.47L1174.2 1277.13L1187.04 1276.29L1199.88 1273.92L1212.72 1271.26L1225.56 1265.93L1238.4 1252.02L1251.24 1233.07L1264.08 1203.18L1276.92 1170.02L1289.76 1130.06L1302.6 1088.03L1315.44 1045.11L1328.28 1011.07L1341.12 988.58L1353.96 976.14L1366.8 1005.15" fill="none" stroke="#ff00ff" stroke-width="3.5" stroke-linejoin="round"/><path d="M724.8 1266.59L732.3 1283.59L717.3 1283.59Z" fill="#fff" stroke="#ff00ff" stroke-width="1.6" stroke-linejoin="miter"/><path d="M724.8 1266.59L726 1283.59L717.3 1283.59Z" fill="#ff00ff"/><path d="M737.64 1266.59L745.14 1283.59L730.14 1283.59Z" fill="#fff" stroke="#ff00ff" stroke-width="1.6" stroke-linejoin="miter"/><path d="M737.64 1266.59L738.84 1283.59L730.14 1283.59Z" fill="#ff00ff"/><path d="M750.48 1266.59L757.98 1283.59L742.98 1283.59Z" fill="#fff" stroke="#ff00ff" stroke-width="1.6" stroke-linejoin="miter"/><path d="M750.48 1266.59L751.68 1283.59L742.98 1283.59Z" fill="#ff00ff"/><path d="M763.32 1266.59L770.82 1283.59L755.82 1283.59Z" fill="#fff" stroke="#ff00ff" stroke-width="1.6" stroke-linejoin="miter"/><path d="M763.32 1266.59L764.52 1283.59L755.82 1283.59Z" fill="#ff00ff"/><path d="M776.16 1266.59L783.66 1283.59L768.66 1283.59Z" fill="#fff" stroke="#ff00ff" stroke-width="1.6" stroke-linejoin="miter"/><path d="M776.16 1266.59L777.36 1283.59L768.66 1283.59Z" fill="#ff00ff"/><path d="M789 1266.59L796.5 1283.59L781.5 1283.59Z" fill="#fff" stroke="#ff00ff" stroke-width="1.6" stroke-linejoin="miter"/><path d="M789 1266.59L790.2 1283.59L781.5 1283.59Z" fill="#ff00ff"/><path d="M801.84 1266.59L809.34 1283.59L794.34 1283.59Z" fill="#fff" stroke="#ff00ff" stroke-width="1.6" stroke-linejoin="miter"/><path d="M801.84 1266.59L803.04 1283.59L794.34 1283.59Z" fill="#ff00ff"/><path d="M814.68 1266.59L822.18 1283.59L807.18 1283.59Z" fill="#fff" stroke="#ff00ff" stroke-width="1.6" stroke-linejoin="miter"/><path d="M814.68 1266.59L815.88 1283.59L807.18 1283.59Z" fill="#ff00ff"/><path d="M827.52 1266.59L835.02 1283.59L820.02 1283.59Z" fill="#fff" stroke="#ff00ff" stroke-width="1.6" stroke-linejoin="miter"/><path d="M827.52 1266.59L828.72 1283.59L820.02 1283.59Z" fill="#ff00ff"/><path d="M840.36 1266.59L847.86 1283.59L832.86 1283.59Z" fill="#fff" stroke="#ff00ff" stroke-width="1.6" stroke-linejoin="miter"/><path d="M840.36 1266.59L841.56 1283.59L832.86 1283.59Z" fill="#ff00ff"/><path d="M853.2 1266.59L860.7 1283.59L845.7 1283.59Z" fill="#fff" stroke="#ff00ff" stroke-width="1.6" stroke-linejoin="miter"/><path d="M853.2 1266.59L854.4 1283.59L845.7 1283.59Z" fill="#ff00ff"/><path d="M866.04 1266.59L873.54 1283.59L858.54 1283.59Z" fill="#fff" stroke="#ff00ff" stroke-width="1.6" stroke-linejoin="miter"/><path d="M866.04 1266.59L867.24 1283.59L858.54 1283.59Z" fill="#ff00ff"/><path d="M878.88 1266.59L886.38 1283.59L871.38 1283.59Z" fill="#fff" stroke="#ff00ff" stroke-width="1.6" stroke-linejoin="miter"/><path d="M878.88 1266.59L880.08 1283.59L871.38 1283.59Z" fill="#ff00ff"/><path d="M891.72 1266.59L899.22 1283.59L884.22 1283.59Z" fill="#fff" stroke="#ff00ff" stroke-width="1.6" stroke-linejoin="miter"/><path d="M891.72 1266.59L892.92 1283.59L884.22 1283.59Z" fill="#ff00ff"/><path d="M904.56 1266.59L912.06 1283.59L897.06 1283.59Z" fill="#fff" stroke="#ff00ff" stroke-width="1.6" stroke-linejoin="miter"/><path d="M904.56 1266.59L905.76 1283.59L897.06 1283.59Z" fill="#ff00ff"/><path d="M917.4 1266.59L924.9 1283.59L909.9 1283.59Z" fill="#fff" stroke="#ff00ff" stroke-width="1.6" stroke-linejoin="miter"/><path d="M917.4 1266.59L918.6 1283.59L909.9 1283.59Z" fill="#ff00ff"/><path d="M930.24 1266.59L937.74 1283.59L922.74 1283.59Z" fill="#fff" stroke="#ff00ff" stroke-width="1.6" stroke-linejoin="miter"/><path d="M930.24 1266.59L931.44 1283.59L922.74 1283.59Z" fill="#ff00ff"/><path d="M943.08 1266.59L950.58 1283.59L935.58 1283.59Z" fill="#fff" stroke="#ff00ff" stroke-width="1.6" stroke-linejoin="miter"/><path d="M943.08 1266.59L944.28 1283.59L935.58 1283.59Z" fill="#ff00ff"/><path d="M955.92 1266.59L963.42 1283.59L948.42 1283.59Z" fill="#fff" stroke="#ff00ff" stroke-width="1.6" stroke-linejoin="miter"/><path d="M955.92 1266.59L957.12 1283.59L948.42 1283.59Z" fill="#ff00ff"/><path d="M968.76 1266.59L976.26 1283.59L961.26 1283.59Z" fill="#fff" stroke="#ff00ff" stroke-width="1.6" stroke-linejoin="miter"/><path d="M968.76 1266.59L969.96 1283.59L961.26 1283.59Z" fill="#ff00ff"/><path d="M981.6 1266.59L989.1 1283.59L974.1 1283.59Z" fill="#fff" stroke="#ff00ff" stroke-width="1.6" stroke-linejoin="miter"/><path d="M981.6 1266.59L982.8 1283.59L974.1 1283.59Z" fill="#ff00ff"/><path d="M994.44 1266.59L1001.94 1283.59L986.94 1283.59Z" fill="#fff" stroke="#ff00ff" stroke-width="1.6" stroke-linejoin="miter"/><path d="M994.44 1266.59L995.64 1283.59L986.94 1283.59Z" fill="#ff00ff"/><path d="M1007.28 1266.59L1014.78 1283.59L999.78 1283.59Z" fill="#fff" stroke="#ff00ff" stroke-width="1.6" stroke-linejoin="miter"/><path d="M1007.28 1266.59L1008.48 1283.59L999.78 1283.59Z" fill="#ff00ff"/><path d="M1020.12 1266.59L1027.62 1283.59L1012.62 1283.59Z" fill="#fff" stroke="#ff00ff" stroke-width="1.6" stroke-linejoin="miter"/><path d="M1020.12 1266.59L1021.32 1283.59L1012.62 1283.59Z" fill="#ff00ff"/><path d="M1032.96 1266.59L1040.46 1283.59L1025.46 1283.59Z" fill="#fff" stroke="#ff00ff" stroke-width="1.6" stroke-linejoin="miter"/><path d="M1032.96 1266.59L1034.16 1283.59L1025.46 1283.59Z" fill="#ff00ff"/><path d="M1045.8 1266.59L1053.3 1283.59L1038.3 1283.59Z" fill="#fff" stroke="#ff00ff" stroke-width="1.6" stroke-linejoin="miter"/><path d="M1045.8 1266.59L1047 1283.59L1038.3 1283.59Z" fill="#ff00ff"/><path d="M1058.64 1266.59L1066.14 1283.59L1051.14 1283.59Z" fill="#fff" stroke="#ff00ff" stroke-width="1.6" stroke-linejoin="miter"/><path d="M1058.64 1266.59L1059.84 1283.59L1051.14 1283.59Z" fill="#ff00ff"/><path d="M1071.48 1266.59L1078.98 1283.59L1063.98 1283.59Z" fill="#fff" stroke="#ff00ff" stroke-width="1.6" stroke-linejoin="miter"/><path d="M1071.48 1266.59L1072.68 1283.59L1063.98 1283.59Z" fill="#ff00ff"/><path d="M1084.32 1266.59L1091.82 1283.59L1076.82 1283.59Z" fill="#fff" stroke="#ff00ff" stroke-width="1.6" stroke-linejoin="miter"/><path d="M1084.32 1266.59L1085.52 1283.59L1076.82 1283.59Z" fill="#ff00ff"/><path d="M1097.16 1266.59L1104.66 1283.59L1089.66 1283.59Z" fill="#fff" stroke="#ff00ff" stroke-width="1.6" stroke-linejoin="miter"/><path d="M1097.16 1266.59L1098.36 1283.59L1089.66 1283.59Z" fill="#ff00ff"/><path d="M1110 1266.59L1117.5 1283.59L1102.5 1283.59Z" fill="#fff" stroke="#ff00ff" stroke-width="1.6" stroke-linejoin="miter"/><path d="M1110 1266.59L1111.2 1283.59L1102.5 1283.59Z" fill="#ff00ff"/><path d="M1122.84 1266.59L1130.34 1283.59L1115.34 1283.59Z" fill="#fff" stroke="#ff00ff" stroke-width="1.6" stroke-linejoin="miter"/><path d="M1122.84 1266.59L1124.04 1283.59L1115.34 1283.59Z" fill="#ff00ff"/><path d="M1135.68 1266.59L1143.18 1283.59L1128.18 1283.59Z" fill="#fff" stroke="#ff00ff" stroke-width="1.6" stroke-linejoin="miter"/><path d="M1135.68 1266.59L1136.88 1283.59L1128.18 1283.59Z" fill="#ff00ff"/><path d="M1148.52 1266.59L1156.02 1283.59L1141.02 1283.59Z" fill="#fff" stroke="#ff00ff" stroke-width="1.6" stroke-linejoin="miter"/><path d="M1148.52 1266.59L1149.72 1283.59L1141.02 1283.59Z" fill="#ff00ff"/><path d="M1161.36 1266.59L1168.86 1283.59L1153.86 1283.59Z" fill="#fff" stroke="#ff00ff" stroke-width="1.6" stroke-linejoin="miter"/><path d="M1161.36 1266.59L1162.56 1283.59L1153.86 1283.59Z" fill="#ff00ff"/><path d="M1174.2 1266.25L1181.7 1283.25L1166.7 1283.25Z" fill="#fff" stroke="#ff00ff" stroke-width="1.6" stroke-linejoin="miter"/><path d="M1174.2 1266.25L1175.4 1283.25L1166.7 1283.25Z" fill="#ff00ff"/><path d="M1187.04 1265.41L1194.54 1282.41L1179.54 1282.41Z" fill="#fff" stroke="#ff00ff" stroke-width="1.6" stroke-linejoin="miter"/><path d="M1187.04 1265.41L1188.24 1282.41L1179.54 1282.41Z" fill="#ff00ff"/><path d="M1199.88 1263.04L1207.38 1280.04L1192.38 1280.04Z" fill="#fff" stroke="#ff00ff" stroke-width="1.6" stroke-linejoin="miter"/><path d="M1199.88 1263.04L1201.08 1280.04L1192.38 1280.04Z" fill="#ff00ff"/><path d="M1212.72 1260.38L1220.22 1277.38L1205.22 1277.38Z" fill="#fff" stroke="#ff00ff" stroke-width="1.6" stroke-linejoin="miter"/><path d="M1212.72 1260.38L1213.92 1277.38L1205.22 1277.38Z" fill="#ff00ff"/><path d="M1225.56 1255.05L1233.06 1272.05L1218.06 1272.05Z" fill="#fff" stroke="#ff00ff" stroke-width="1.6" stroke-linejoin="miter"/><path d="M1225.56 1255.05L1226.76 1272.05L1218.06 1272.05Z" fill="#ff00ff"/><path d="M1238.4 1241.14L1245.9 1258.14L1230.9 1258.14Z" fill="#fff" stroke="#ff00ff" stroke-width="1.6" stroke-linejoin="miter"/><path d="M1238.4 1241.14L1239.6 1258.14L1230.9 1258.14Z" fill="#ff00ff"/><path d="M1251.24 1222.19L1258.74 1239.19L1243.74 1239.19Z" fill="#fff" stroke="#ff00ff" stroke-width="1.6" stroke-linejoin="miter"/><path d="M1251.24 1222.19L1252.44 1239.19L1243.74 1239.19Z" fill="#ff00ff"/><path d="M1264.08 1192.3L1271.58 1209.3L1256.58 1209.3Z" fill="#fff" stroke="#ff00ff" stroke-width="1.6" stroke-linejoin="miter"/><path d="M1264.08 1192.3L1265.28 1209.3L1256.58 1209.3Z" fill="#ff00ff"/><path d="M1276.92 1159.14L1284.42 1176.14L1269.42 1176.14Z" fill="#fff" stroke="#ff00ff" stroke-width="1.6" stroke-linejoin="miter"/><path d="M1276.92 1159.14L1278.12 1176.14L1269.42 1176.14Z" fill="#ff00ff"/><path d="M1289.76 1119.18L1297.26 1136.18L1282.26 1136.18Z" fill="#fff" stroke="#ff00ff" stroke-width="1.6" stroke-linejoin="miter"/><path d="M1289.76 1119.18L1290.96 1136.18L1282.26 1136.18Z" fill="#ff00ff"/><path d="M1302.6 1077.15L1310.1 1094.15L1295.1 1094.15Z" fill="#fff" stroke="#ff00ff" stroke-width="1.6" stroke-linejoin="miter"/><path d="M1302.6 1077.15L1303.8 1094.15L1295.1 1094.15Z" fill="#ff00ff"/><path d="M1315.44 1034.23L1322.94 1051.23L1307.94 1051.23Z" fill="#fff" stroke="#ff00ff" stroke-width="1.6" stroke-linejoin="miter"/><path d="M1315.44 1034.23L1316.64 1051.23L1307.94 1051.23Z" fill="#ff00ff"/><path d="M1328.28 1000.19L1335.78 1017.19L1320.78 1017.19Z" fill="#fff" stroke="#ff00ff" stroke-width="1.6" stroke-linejoin="miter"/><path d="M1328.28 1000.19L1329.48 1017.19L1320.78 1017.19Z" fill="#ff00ff"/><path d="M1341.12 977.7L1348.62 994.7L1333.62 994.7Z" fill="#fff" stroke="#ff00ff" stroke-width="1.6" stroke-linejoin="miter"/><path d="M1341.12 977.7L1342.32 994.7L1333.62 994.7Z" fill="#ff00ff"/><path d="M1353.96 965.26L1361.46 982.26L1346.46 982.26Z" fill="#fff" stroke="#ff00ff" stroke-width="1.6" stroke-linejoin="miter"/><path d="M1353.96 965.26L1355.16 982.26L1346.46 982.26Z" fill="#ff00ff"/><path d="M1366.8 994.27L1374.3 1011.27L1359.3 1011.27Z" fill="#fff" stroke="#ff00ff" stroke-width="1.6" stroke-linejoin="miter"/><path d="M1366.8 994.27L1368 1011.27L1359.3 1011.27Z" fill="#ff00ff"/></g><rect x="100.6" y="76.4" width="632.1" height="510.4" fill="none" stroke="#000" stroke-width="2.8"/><path d="M100.6 586.8V595.8M145.75 586.8V591.3M145.75 76.4V80.4M190.9 586.8V595.8M190.9 76.4V84.9M236.05 586.8V591.3M236.05 76.4V80.4M281.2 586.8V595.8M281.2 76.4V84.9M326.35 586.8V591.3M326.35 76.4V80.4M371.5 586.8V595.8M371.5 76.4V84.9M416.65 586.8V591.3M416.65 76.4V80.4M461.8 586.8V595.8M461.8 76.4V84.9M506.95 586.8V591.3M506.95 76.4V80.4M552.1 586.8V595.8M552.1 76.4V84.9M597.25 586.8V591.3M597.25 76.4V80.4M642.4 586.8V595.8M642.4 76.4V84.9M687.55 586.8V591.3M687.55 76.4V80.4M732.7 586.8V595.8M100.6 76.4H91.6M100.6 115.66H96.1M100.6 154.92H91.6M100.6 194.18H96.1M100.6 233.45H91.6M100.6 272.71H96.1M100.6 311.97H91.6M100.6 351.23H96.1M100.6 390.49H91.6M100.6 429.75H96.1M100.6 469.02H91.6M100.6 508.28H96.1M100.6 547.54H91.6M100.6 586.8H96.1M732.7 572.1H741.7M732.7 513.75H737.2M732.7 455.4H741.7M732.7 397.05H737.2M732.7 338.7H741.7M732.7 280.35H737.2M732.7 222H741.7M732.7 163.65H737.2M732.7 105.3H741.7" stroke="#000" stroke-width="2.8" fill="none"/><g font-family="'Liberation Sans', Arial, sans-serif" font-weight="bold" font-size="33.5" fill="#000"><text x="100.6" y="629.1" text-anchor="middle">0.0</text><text x="190.9" y="629.1" text-anchor="middle">0.1</text><text x="281.2" y="629.1" text-anchor="middle">0.2</text><text x="371.5" y="629.1" text-anchor="middle">0.3</text><text x="461.8" y="629.1" text-anchor="middle">0.4</text><text x="552.1" y="629.1" text-anchor="middle">0.5</text><text x="642.4" y="629.1" text-anchor="middle">0.6</text><text x="732.7" y="629.1" text-anchor="middle">0.7</text><text x="83.3" y="86.1" text-anchor="end">4</text><text x="83.3" y="164.62" text-anchor="end">3</text><text x="83.3" y="243.15" text-anchor="end">2</text><text x="83.3" y="321.67" text-anchor="end">1</text><text x="83.3" y="400.19" text-anchor="end">0</text><text x="83.3" y="478.72" text-anchor="end">-1</text><text x="83.3" y="557.24" text-anchor="end">-2</text><text x="749.9" y="581.8" text-anchor="start">0</text><text x="749.9" y="465.1" text-anchor="start">400</text><text x="749.9" y="348.4" text-anchor="start">800</text><text x="749.9" y="231.7" text-anchor="start">1200</text><text x="749.9" y="115" text-anchor="start">1600</text></g><rect x="1058" y="76" width="624.7" height="504" fill="none" stroke="#000" stroke-width="2.8"/><path d="M1058 580V589M1102.62 580V584.5M1102.62 76V80M1147.24 580V589M1147.24 76V84.5M1191.86 580V584.5M1191.86 76V80M1236.49 580V589M1236.49 76V84.5M1281.11 580V584.5M1281.11 76V80M1325.73 580V589M1325.73 76V84.5M1370.35 580V584.5M1370.35 76V80M1414.97 580V589M1414.97 76V84.5M1459.59 580V584.5M1459.59 76V80M1504.21 580V589M1504.21 76V84.5M1548.84 580V584.5M1548.84 76V80M1593.46 580V589M1593.46 76V84.5M1638.08 580V584.5M1638.08 76V80M1682.7 580V589M1058 76H1049M1058 114.77H1053.5M1058 153.54H1049M1058 192.31H1053.5M1058 231.08H1049M1058 269.85H1053.5M1058 308.62H1049M1058 347.38H1053.5M1058 386.15H1049M1058 424.92H1053.5M1058 463.69H1049M1058 502.46H1053.5M1058 541.23H1049M1058 580H1053.5M1682.7 565.6H1691.7M1682.7 508H1687.2M1682.7 450.4H1691.7M1682.7 392.8H1687.2M1682.7 335.2H1691.7M1682.7 277.6H1687.2M1682.7 220H1691.7M1682.7 162.4H1687.2M1682.7 104.8H1691.7" stroke="#000" stroke-width="2.8" fill="none"/><g font-family="'Liberation Sans', Arial, sans-serif" font-weight="bold" font-size="33.5" fill="#000"><text x="1058" y="622.3" text-anchor="middle">0.0</text><text x="1147.24" y="622.3" text-anchor="middle">0.1</text><text x="1236.49" y="622.3" text-anchor="middle">0.2</text><text x="1325.73" y="622.3" text-anchor="middle">0.3</text><text x="1414.97" y="622.3" text-anchor="middle">0.4</text><text x="1504.21" y="622.3" text-anchor="middle">0.5</text><text x="1593.46" y="622.3" text-anchor="middle">0.6</text><text x="1682.7" y="622.3" text-anchor="middle">0.7</text><text x="1040.7" y="85.7" text-anchor="end">4</text><text x="1040.7" y="163.24" text-anchor="end">3</text><text x="1040.7" y="240.78" text-anchor="end">2</text><text x="1040.7" y="318.32" text-anchor="end">1</text><text x="1040.7" y="395.85" text-anchor="end">0</text><text x="1040.7" y="473.39" text-anchor="end">-1</text><text x="1040.7" y="550.93" text-anchor="end">-2</text><text x="1699.9" y="575.3" text-anchor="start">0</text><text x="1699.9" y="460.1" text-anchor="start">400</text><text x="1699.9" y="344.9" text-anchor="start">800</text><text x="1699.9" y="229.7" text-anchor="start">1200</text><text x="1699.9" y="114.5" text-anchor="start">1600</text></g><rect x="724.8" y="774.7" width="642" height="517.5" fill="none" stroke="#000" stroke-width="2.8"/><path d="M724.8 1292.2V1301.2M770.66 1292.2V1296.7M770.66 774.7V778.7M816.51 1292.2V1301.2M816.51 774.7V783.2M862.37 1292.2V1296.7M862.37 774.7V778.7M908.23 1292.2V1301.2M908.23 774.7V783.2M954.09 1292.2V1296.7M954.09 774.7V778.7M999.94 1292.2V1301.2M999.94 774.7V783.2M1045.8 1292.2V1296.7M1045.8 774.7V778.7M1091.66 1292.2V1301.2M1091.66 774.7V783.2M1137.51 1292.2V1296.7M1137.51 774.7V778.7M1183.37 1292.2V1301.2M1183.37 774.7V783.2M1229.23 1292.2V1296.7M1229.23 774.7V778.7M1275.09 1292.2V1301.2M1275.09 774.7V783.2M1320.94 1292.2V1296.7M1320.94 774.7V778.7M1366.8 1292.2V1301.2M724.8 774.7H715.8M724.8 814.51H720.3M724.8 854.32H715.8M724.8 894.12H720.3M724.8 933.93H715.8M724.8 973.74H720.3M724.8 1013.55H715.8M724.8 1053.35H720.3M724.8 1093.16H715.8M724.8 1132.97H720.3M724.8 1172.78H715.8M724.8 1212.58H720.3M724.8 1252.39H715.8M724.8 1292.2H720.3M1366.8 1275.4H1375.8M1366.8 1216.2H1371.3M1366.8 1157H1375.8M1366.8 1097.8H1371.3M1366.8 1038.6H1375.8M1366.8 979.4H1371.3M1366.8 920.2H1375.8M1366.8 861H1371.3M1366.8 801.8H1375.8" stroke="#000" stroke-width="2.8" fill="none"/><g font-family="'Liberation Sans', Arial, sans-serif" font-weight="bold" font-size="33.5" fill="#000"><text x="724.8" y="1334.5" text-anchor="middle">0.0</text><text x="816.51" y="1334.5" text-anchor="middle">0.1</text><text x="908.23" y="1334.5" text-anchor="middle">0.2</text><text x="999.94" y="1334.5" text-anchor="middle">0.3</text><text x="1091.66" y="1334.5" text-anchor="middle">0.4</text><text x="1183.37" y="1334.5" text-anchor="middle">0.5</text><text x="1275.09" y="1334.5" text-anchor="middle">0.6</text><text x="1366.8" y="1334.5" text-anchor="middle">0.7</text><text x="707.5" y="784.4" text-anchor="end">4</text><text x="707.5" y="864.02" text-anchor="end">3</text><text x="707.5" y="943.63" text-anchor="end">2</text><text x="707.5" y="1023.25" text-anchor="end">1</text><text x="707.5" y="1102.86" text-anchor="end">0</text><text x="707.5" y="1182.48" text-anchor="end">-1</text><text x="707.5" y="1262.09" text-anchor="end">-2</text><text x="1384" y="1285.1" text-anchor="start">0</text><text x="1384" y="1166.7" text-anchor="start">400</text><text x="1384" y="1048.3" text-anchor="start">800</text><text x="1384" y="929.9" text-anchor="start">1200</text><text x="1384" y="811.5" text-anchor="start">1600</text></g><g transform="translate(485.3 362.5) skewX(-6.2)"><ellipse cx="0" cy="0" rx="41.1" ry="46.6" fill="none" stroke="#000" stroke-width="2.8"/></g><path d="M492 314.5H429.8" stroke="#000" stroke-width="2.6"/><path d="M408.8 314.5L431.8 303L431.8 326Z" fill="#000"/><g transform="translate(607.2 499.8) skewX(-5.5)"><ellipse cx="0" cy="0" rx="41.5" ry="46.7" fill="none" stroke="#000" stroke-width="2.8"/></g><path d="M600 548.7H656" stroke="#000" stroke-width="2.6"/><path d="M677 548.7L654 537.2L654 560.2Z" fill="#000"/><g transform="translate(1345.9 373.7) skewX(-5.5)"><ellipse cx="0" cy="0" rx="41.2" ry="46.8" fill="none" stroke="#000" stroke-width="2.8"/></g><path d="M1355 326.3H1291.7" stroke="#000" stroke-width="2.6"/><path d="M1270.7 326.3L1293.7 314.8L1293.7 337.8Z" fill="#000"/><g transform="translate(1549.2 517.4) skewX(-5.5)"><ellipse cx="0" cy="0" rx="41.8" ry="46" fill="none" stroke="#000" stroke-width="2.8"/></g><path d="M1543 564.8H1597.3" stroke="#000" stroke-width="2.6"/><path d="M1618.3 564.8L1595.3 553.3L1595.3 576.3Z" fill="#000"/><g transform="translate(1133.5 1072.4) skewX(-5.5)"><ellipse cx="0" cy="0" rx="43.6" ry="48.3" fill="none" stroke="#000" stroke-width="2.8"/></g><path d="M1141 1023.4H1076.5" stroke="#000" stroke-width="2.6"/><path d="M1054.8 1023.4L1078.5 1011.4L1078.5 1035.4Z" fill="#000"/><g transform="translate(1257.5 1216) skewX(-5.5)"><ellipse cx="0" cy="0" rx="43.3" ry="47.5" fill="none" stroke="#000" stroke-width="2.8"/></g><path d="M1248 1265.2H1305.3" stroke="#000" stroke-width="2.6"/><path d="M1326.3 1265.2L1303.3 1253.7L1303.3 1276.7Z" fill="#000"/><rect x="158.2" y="162.6" width="205.8" height="122.1" fill="#000"/><rect x="152.8" y="157.2" width="202.6" height="118.9" fill="#fff" stroke="#000" stroke-width="3.2"/><path d="M153 178.5H193" stroke="#000" stroke-width="3.7"/><circle cx="173" cy="178.5" r="6.6" fill="#fff" stroke="#000" stroke-width="2.4"/><circle cx="173" cy="178.5" r="1.3" fill="#000"/><text x="198.3" y="184" font-family="'DejaVu Serif', 'Liberation Serif', serif" font-weight="bold" font-size="22.5" textLength="135.7" lengthAdjust="spacingAndGlyphs">L<tspan dy="3.8" font-size="22.5">g</tspan><tspan dy="-3.8"> = 8 nm</tspan></text><path d="M153 217.9H193" stroke="#ff0000" stroke-width="3.7"/><path d="M164.6 213.03L181.4 213.03L173 227.63Z" fill="#fff" stroke="#ff0000" stroke-width="1.8" stroke-linejoin="miter"/><circle cx="173" cy="216.9" r="1.1" fill="#ff0000"/><text x="199.5" y="223.4" font-family="'DejaVu Serif', 'Liberation Serif', serif" font-weight="bold" font-size="22.5" textLength="152.5" lengthAdjust="spacingAndGlyphs">L<tspan dy="3.8" font-size="22.5">g</tspan><tspan dy="-3.8"> = 10 nm</tspan></text><path d="M153 256.6H193" stroke="#0000ff" stroke-width="3.7"/><path d="M173 249.2L175.17 254.41L180.8 254.87L176.51 258.54L177.82 264.03L173 261.09L168.18 264.03L169.49 258.54L165.2 254.87L170.83 254.41Z" fill="#fff" stroke="#0000ff" stroke-width="3" stroke-linejoin="round"/><circle cx="173" cy="257.4" r="1.2" fill="#0000ff"/><text x="199.5" y="262.1" font-family="'DejaVu Serif', 'Liberation Serif', serif" font-weight="bold" font-size="22.5" textLength="152.5" lengthAdjust="spacingAndGlyphs">L<tspan dy="3.8" font-size="22.5">g</tspan><tspan dy="-3.8"> = 12 nm</tspan></text><rect x="1127.4" y="145.9" width="228.1" height="119.6" fill="#000"/><rect x="1122" y="140.5" width="224.9" height="116.4" fill="#fff" stroke="#000" stroke-width="3.2"/><path d="M1123 160.9H1163" stroke="#8000ff" stroke-width="3.7"/><circle cx="1143" cy="160.9" r="6.4" fill="#fff" stroke="#8000ff" stroke-width="2.1"/><path d="M1136.6 160.9H1149.4M1143 154.5V167.3" stroke="#8000ff" stroke-width="2.1"/><text x="1169.3" y="165.4" font-family="'DejaVu Serif', 'Liberation Serif', serif" font-weight="bold" font-size="22.5" textLength="153.4" lengthAdjust="spacingAndGlyphs">T<tspan dy="3.8" font-size="22.5">NS</tspan><tspan dy="-3.8"> = 5 nm</tspan></text><path d="M1123 200.2H1163" stroke="#ff0080" stroke-width="3.7"/><rect x="1137.2" y="194.4" width="11.6" height="11.6" fill="#fff" stroke="#ff0080" stroke-width="2.3"/><path d="M1137.2 200.2H1148.8M1143 194.4V206" stroke="#ff0080" stroke-width="2.3"/><text x="1170.5" y="204.2" font-family="'DejaVu Serif', 'Liberation Serif', serif" font-weight="bold" font-size="22.5" textLength="156" lengthAdjust="spacingAndGlyphs">T<tspan dy="3.8" font-size="22.5">NS</tspan><tspan dy="-3.8"> = 8 nm</tspan></text><path d="M1123 239.5H1163" stroke="#008080" stroke-width="3.7"/><path d="M1134 239.5L1152 239.5M1136.64 233.14L1149.36 245.86M1143 230.5L1143 248.5M1149.36 233.14L1136.64 245.86" stroke="#008080" stroke-width="1.6" stroke-linecap="butt"/><text x="1170.5" y="243.5" font-family="'DejaVu Serif', 'Liberation Serif', serif" font-weight="bold" font-size="22.5" textLength="173" lengthAdjust="spacingAndGlyphs">T<tspan dy="3.8" font-size="22.5">NS</tspan><tspan dy="-3.8"> = 10 nm</tspan></text><rect x="811.7" y="823.9" width="240.7" height="123.1" fill="#000"/><rect x="807.3" y="819.5" width="237.5" height="119.9" fill="#fff" stroke="#000" stroke-width="3.2"/><path d="M808 840.8H849.4" stroke="#008000" stroke-width="3.7"/><circle cx="828.7" cy="840.8" r="6.5" fill="#fff" stroke="#008000" stroke-width="1.8"/><path d="M828.7 834.3A6.5 6.5 0 0 0 828.7 847.3Z" fill="#008000"/><text x="853.7" y="847.3" font-family="'DejaVu Serif', 'Liberation Serif', serif" font-weight="bold" font-size="22.5" textLength="184.8" lengthAdjust="spacingAndGlyphs">W<tspan dy="3.8" font-size="22.5">NS</tspan><tspan dy="-3.8"> = 10 nm</tspan></text><path d="M808 880.9H849.4" stroke="#000080" stroke-width="3.7"/><path d="M828.7 872.3L830.97 877.77L836.88 878.24L832.38 882.1L833.75 887.86L828.7 884.77L823.65 887.86L825.02 882.1L820.52 878.24L826.43 877.77Z" fill="#000080" stroke="#000080" stroke-width="1.5" stroke-linejoin="round"/><circle cx="830.2" cy="881.4" r="1.6" fill="#fff"/><text x="856" y="887.4" font-family="'DejaVu Serif', 'Liberation Serif', serif" font-weight="bold" font-size="22.5" textLength="185" lengthAdjust="spacingAndGlyphs">W<tspan dy="3.8" font-size="22.5">NS</tspan><tspan dy="-3.8"> = 15 nm</tspan></text><path d="M808 921H849.4" stroke="#ff00ff" stroke-width="3.7"/><path d="M828.7 909.16L837.2 927.66L820.2 927.66Z" fill="#fff" stroke="#ff00ff" stroke-width="1.6" stroke-linejoin="miter"/><path d="M828.7 909.16L829.9 927.66L820.2 927.66Z" fill="#ff00ff"/><text x="856" y="927.5" font-family="'DejaVu Serif', 'Liberation Serif', serif" font-weight="bold" font-size="22.5" textLength="185" lengthAdjust="spacingAndGlyphs">W<tspan dy="3.8" font-size="22.5">NS</tspan><tspan dy="-3.8"> = 20 nm</tspan></text><text transform="translate(33.5 292.2) rotate(-90)" text-anchor="middle" font-family="'DejaVu Serif', 'Liberation Serif', serif" font-weight="bold" font-size="29.5" textLength="173" lengthAdjust="spacingAndGlyphs">TFP (THz)</text><text transform="translate(854 340.2) rotate(-90)" text-anchor="middle" font-family="'DejaVu Serif', 'Liberation Serif', serif" font-weight="bold" font-size="29.5" textLength="202.5" lengthAdjust="spacingAndGlyphs">GTFP (THz)</text><text x="241.2" y="675.8" font-family="'DejaVu Serif', 'Liberation Serif', serif" font-weight="bold" font-size="29.5" textLength="379.4" lengthAdjust="spacingAndGlyphs">Gate Voltage, V<tspan dy="4.8" font-size="27.14">GS</tspan><tspan dy="-4.8"> (V)</tspan></text><text transform="translate(993 303.8) rotate(-90)" text-anchor="middle" font-family="'DejaVu Serif', 'Liberation Serif', serif" font-weight="bold" font-size="29.5" textLength="173" lengthAdjust="spacingAndGlyphs">TFP (THz)</text><text transform="translate(1809.5 287.3) rotate(-90)" text-anchor="middle" font-family="'DejaVu Serif', 'Liberation Serif', serif" font-weight="bold" font-size="29.5" textLength="199" lengthAdjust="spacingAndGlyphs">GTFP (THz)</text><text x="1192.6" y="662.3" font-family="'DejaVu Serif', 'Liberation Serif', serif" font-weight="bold" font-size="28.5" textLength="376.3" lengthAdjust="spacingAndGlyphs">Gate Voltage, V<tspan dy="4.8" font-size="26.22">GS</tspan><tspan dy="-4.8"> (V)</tspan></text><text transform="translate(658.5 1023.8) rotate(-90)" text-anchor="middle" font-family="'DejaVu Serif', 'Liberation Serif', serif" font-weight="bold" font-size="29.5" textLength="177.9" lengthAdjust="spacingAndGlyphs">TFP (THz)</text><text transform="translate(1488.5 1033.3) rotate(-90)" text-anchor="middle" font-family="'DejaVu Serif', 'Liberation Serif', serif" font-weight="bold" font-size="29.5" textLength="203.5" lengthAdjust="spacingAndGlyphs">GTFP (THz)</text><text x="858.4" y="1388.4" font-family="'DejaVu Serif', 'Liberation Serif', serif" font-weight="bold" font-size="29.5" textLength="384.7" lengthAdjust="spacingAndGlyphs">Gate Voltage, V<tspan dy="4.8" font-size="27.14">GS</tspan><tspan dy="-4.8"> (V)</tspan></text><g font-family="'Liberation Serif', 'Times New Roman', serif" font-weight="bold"><text x="-2.1" y="41" font-size="58.5" textLength="71.1" lengthAdjust="spacingAndGlyphs">(a)</text><text x="958.4" y="41" font-size="58.5" textLength="72.8" lengthAdjust="spacingAndGlyphs">(b)</text><text x="568.5" y="785.2" font-size="54.5" textLength="66.6" lengthAdjust="spacingAndGlyphs">(c)</text></g></svg></body></html>
